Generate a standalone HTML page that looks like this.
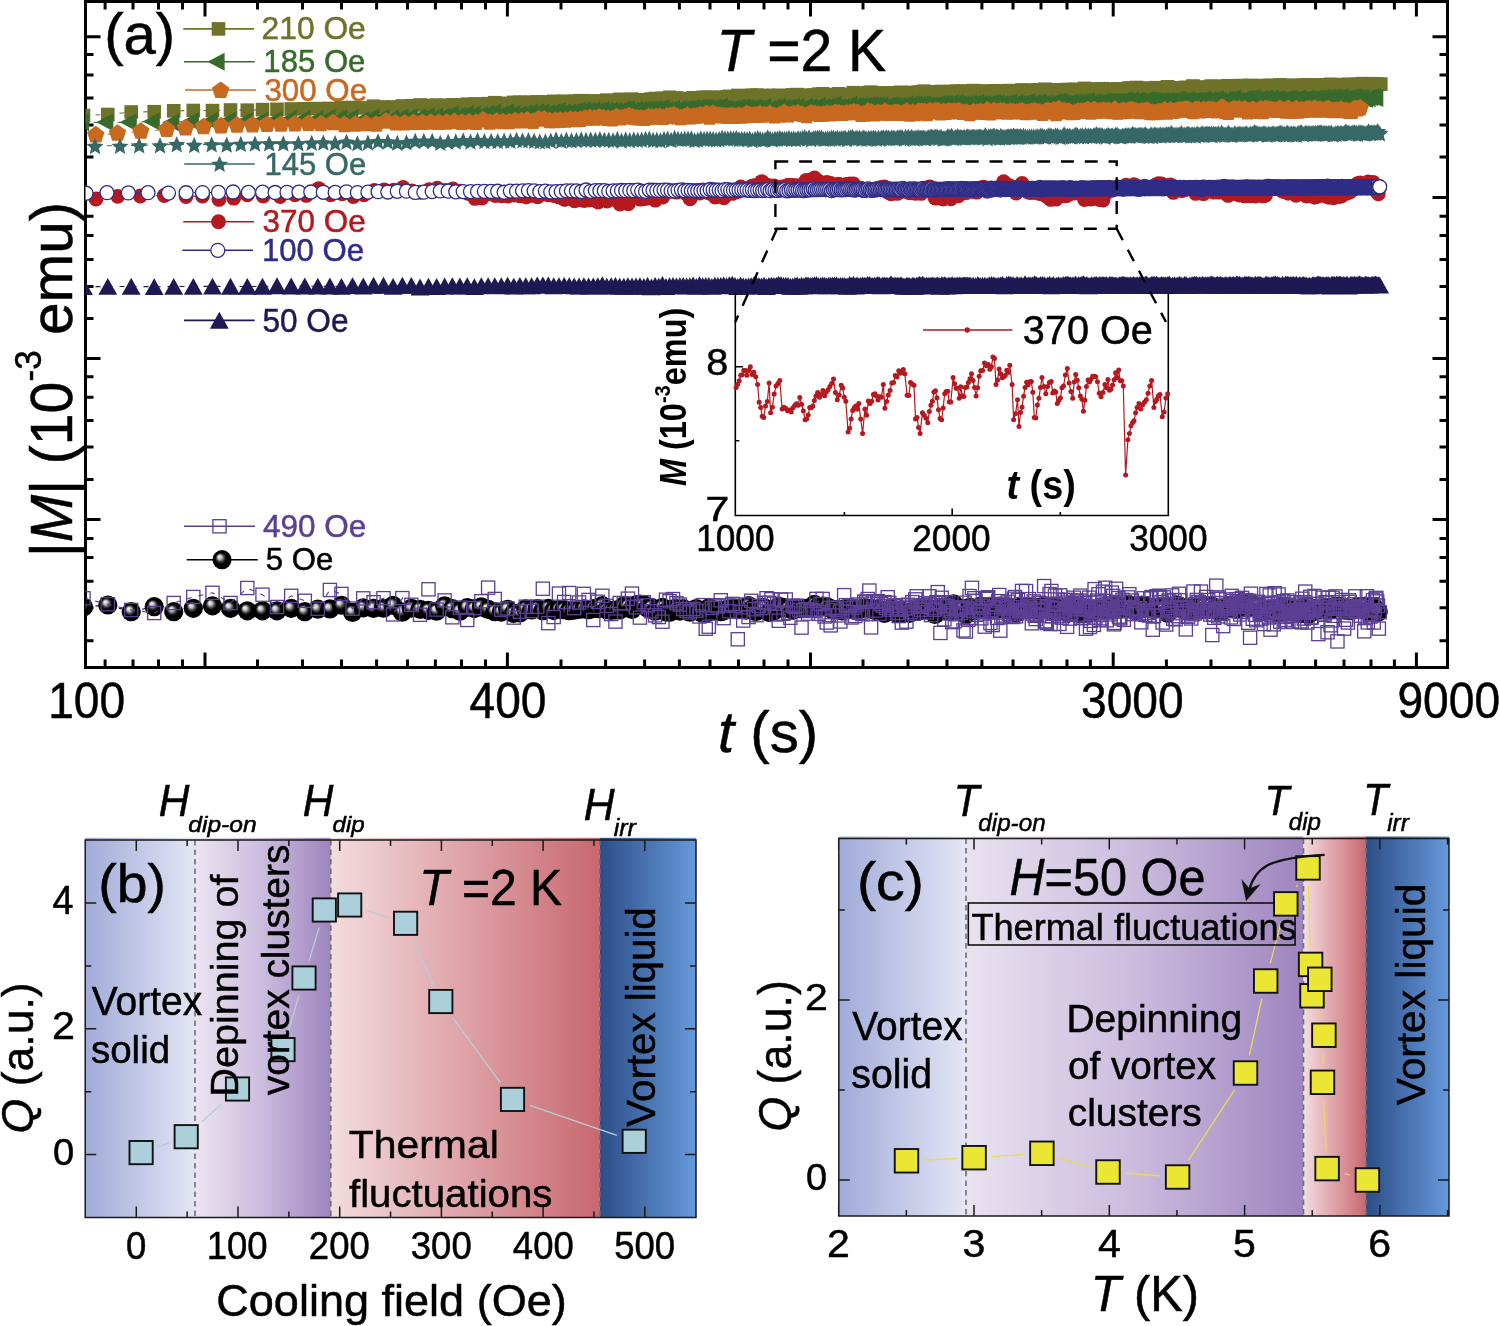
<!DOCTYPE html><html><head><meta charset="utf-8"><style>html,body{margin:0;padding:0;background:#fff;}svg{display:block;font-family:"Liberation Sans",sans-serif;will-change:transform;}</style></head><body>
<svg width="1500" height="1326" viewBox="0 0 1500 1326">
<rect width="1500" height="1326" fill="#fff"/>
<defs>
<g id="mSq"><rect x="-6.8" y="-6.8" width="13.6" height="13.6" fill="#6f7229"/></g>
<g id="mTl"><path d="M-9.5 0L7.6 -9V9Z" fill="#386b2b"/></g>
<g id="mPe"><polygon points="0,-9.15 8.7,-2.83 5.38,7.4 -5.38,7.4 -8.7,-2.83" fill="#c7691f"/></g>
<g id="mSt"><polygon points="0,-8 2.41,-2.32 8.56,-1.78 3.9,2.27 5.29,8.28 0,5.1 -5.29,8.28 -3.9,2.27 -8.56,-1.78 -2.41,-2.32" fill="#376868"/></g>
<g id="mCi"><circle r="7.4" fill="#b3191e"/></g>
<g id="mOc"><circle r="7" fill="#fff" stroke="#2f2c88" stroke-width="1.3"/></g>
<g id="mTu"><path d="M0 -8.6L9.4 8.3H-9.4Z" fill="#1f1953"/></g>
<g id="mOs"><rect x="-6.6" y="-6.6" width="13.2" height="13.2" fill="none" stroke="#5b3f94" stroke-width="1.3"/></g>
<radialGradient id="gSph" cx="0.5" cy="0.5" r="0.5" fx="0.35" fy="0.33"><stop offset="0" stop-color="#f4f4f4"/><stop offset="0.2" stop-color="#c8c8c8"/><stop offset="0.42" stop-color="#404040"/><stop offset="0.58" stop-color="#000"/><stop offset="1" stop-color="#000"/></radialGradient>
<g id="mSp"><circle r="9.6" fill="url(#gSph)"/></g>
<clipPath id="clipA"><rect x="85.5" y="1.5" width="1362.0" height="666.0"/></clipPath>
</defs>
<defs>
<linearGradient id="gB1" x1="0" y1="0" x2="1" y2="0"><stop offset="0" stop-color="#a1abd9"/><stop offset="1" stop-color="#e4e6f5"/></linearGradient>
<linearGradient id="gB2" x1="0" y1="0" x2="1" y2="0"><stop offset="0" stop-color="#ebe4f1"/><stop offset="0.5" stop-color="#cbbcde"/><stop offset="1" stop-color="#9e84be"/></linearGradient>
<linearGradient id="gB3" x1="0" y1="0" x2="1" y2="0"><stop offset="0" stop-color="#f3dcdf"/><stop offset="1" stop-color="#c8686f"/></linearGradient>
<linearGradient id="gB4" x1="0" y1="0" x2="1" y2="0"><stop offset="0" stop-color="#2d4e87"/><stop offset="1" stop-color="#6699db"/></linearGradient>
<linearGradient id="gC1" x1="0" y1="0" x2="1" y2="0"><stop offset="0" stop-color="#a1abd9"/><stop offset="1" stop-color="#e4e6f5"/></linearGradient>
<linearGradient id="gC2" x1="0" y1="0" x2="1" y2="0"><stop offset="0" stop-color="#e9e2f0"/><stop offset="0.5" stop-color="#cbbcde"/><stop offset="1" stop-color="#9e84be"/></linearGradient>
<linearGradient id="gC3" x1="0" y1="0" x2="1" y2="0"><stop offset="0" stop-color="#f3dcdf"/><stop offset="1" stop-color="#c8686f"/></linearGradient>
<linearGradient id="gC4" x1="0" y1="0" x2="1" y2="0"><stop offset="0" stop-color="#2d4e87"/><stop offset="1" stop-color="#6699db"/></linearGradient>
</defs>
<path d="M85.5 1.5H1447.5V667.5H85.5ZM205 667.5v-15M205 1.5v15M507.4 667.5v-15M507.4 1.5v15M810.5 667.5v-15M810.5 1.5v15M1113.2 667.5v-15M1113.2 1.5v15M1416.4 667.5v-15M1416.4 1.5v15M105.1 667.5v-8M105.1 1.5v8M133 667.5v-8M133 1.5v8M158.5 667.5v-8M158.5 1.5v8M182.5 667.5v-8M182.5 1.5v8M257.5 667.5v-8M257.5 1.5v8M302.5 667.5v-8M302.5 1.5v8M341.5 667.5v-8M341.5 1.5v8M376.6 667.5v-8M376.6 1.5v8M407.5 667.5v-8M407.5 1.5v8M435.4 667.5v-8M435.4 1.5v8M461.5 667.5v-8M461.5 1.5v8M485.5 667.5v-8M485.5 1.5v8M561 667.5v-8M561 1.5v8M605.6 667.5v-8M605.6 1.5v8M644.6 667.5v-8M644.6 1.5v8M679.4 667.5v-8M679.4 1.5v8M710 667.5v-8M710 1.5v8M738.5 667.5v-8M738.5 1.5v8M764 667.5v-8M764 1.5v8M788 667.5v-8M788 1.5v8M863 667.5v-8M863 1.5v8M908 667.5v-8M908 1.5v8M947 667.5v-8M947 1.5v8M981.9 667.5v-8M981.9 1.5v8M1013 667.5v-8M1013 1.5v8M1041 667.5v-8M1041 1.5v8M1067 667.5v-8M1067 1.5v8M1090.4 667.5v-8M1090.4 1.5v8M1166.4 667.5v-8M1166.4 1.5v8M1211 667.5v-8M1211 1.5v8M1250 667.5v-8M1250 1.5v8M1284.4 667.5v-8M1284.4 1.5v8M1315.6 667.5v-8M1315.6 1.5v8M1344 667.5v-8M1344 1.5v8M1371 667.5v-8M1371 1.5v8M1394.4 667.5v-8M1394.4 1.5v8M85.5 36.7h15M1447.5 36.7h-15M85.5 197.4h15M1447.5 197.4h-15M85.5 358.5h15M1447.5 358.5h-15M85.5 519.4h15M1447.5 519.4h-15M85.5 54.4h8M1447.5 54.4h-8M85.5 74.9h8M1447.5 74.9h-8M85.5 97.9h8M1447.5 97.9h-8M85.5 124.9h8M1447.5 124.9h-8M85.5 156.9h8M1447.5 156.9h-8M85.5 216.2h8M1447.5 216.2h-8M85.5 235.4h8M1447.5 235.4h-8M85.5 259.5h8M1447.5 259.5h-8M85.5 286.4h8M1447.5 286.4h-8M85.5 318.5h8M1447.5 318.5h-8M85.5 376.7h8M1447.5 376.7h-8M85.5 397.3h8M1447.5 397.3h-8M85.5 420.5h8M1447.5 420.5h-8M85.5 446.9h8M1447.5 446.9h-8M85.5 479.6h8M1447.5 479.6h-8M85.5 538.4h8M1447.5 538.4h-8M85.5 557.4h8M1447.5 557.4h-8M85.5 581.2h8M1447.5 581.2h-8M85.5 607.8h8M1447.5 607.8h-8M85.5 640.8h8M1447.5 640.8h-8" stroke="#000" stroke-width="3" fill="none"/>
<text transform="translate(104.14,53.57) scale(1.01,1)" font-size="57.59" fill="#000" stroke="#000" stroke-width="0.5"><tspan>(a)</tspan></text>
<text transform="translate(716.38,70.7) scale(0.96,1)" font-size="59.5" fill="#000" stroke="#000" stroke-width="0.5"><tspan font-style="italic">T</tspan><tspan> =2 K</tspan></text>
<text transform="translate(48.21,718.34) scale(0.94,1)" font-size="49.05" fill="#000" stroke="#000" stroke-width="0.5"><tspan>100</tspan></text>
<text transform="translate(469.51,718.34) scale(0.94,1)" font-size="49.05" fill="#000" stroke="#000" stroke-width="0.5"><tspan>400</tspan></text>
<text transform="translate(1081.08,718.34) scale(0.94,1)" font-size="49.05" fill="#000" stroke="#000" stroke-width="0.5"><tspan>3000</tspan></text>
<text transform="translate(1397.47,718.34) scale(0.94,1)" font-size="49.05" fill="#000" stroke="#000" stroke-width="0.5"><tspan>9000</tspan></text>
<text transform="translate(717.97,752.47) scale(1.01,1)" font-size="57.59" fill="#000" stroke="#000" stroke-width="0.5"><tspan font-style="italic">t</tspan><tspan> (s)</tspan></text>
<text transform="translate(72.35,557.07) rotate(-90) scale(0.97,1)" font-size="58.77" fill="#000" stroke="#000" stroke-width="0.5"><tspan>|</tspan><tspan font-style="italic">M</tspan><tspan>| (10</tspan></text>
<text transform="translate(40.73,381.38) rotate(-90) scale(0.96,1)" font-size="36.47" fill="#000" stroke="#000" stroke-width="0.5"><tspan>-3</tspan></text>
<text transform="translate(72.48,334.98) rotate(-90) scale(0.99,1)" font-size="59.09" fill="#000" stroke="#000" stroke-width="0.5"><tspan>emu)</tspan></text>
<path d="M183.3 28.9H253.9" stroke="#6f7229" stroke-width="1.6"/>
<use href="#mSq" x="218.5" y="28.9"/>
<text transform="translate(261.6,39.47) scale(0.99,1)" font-size="32.08" fill="#6f7229" stroke="#6f7229" stroke-width="0.5"><tspan>210 Oe</tspan></text>
<path d="M184 61.7H254.7" stroke="#386b2b" stroke-width="1.6"/>
<use href="#mTl" x="217" y="61.7"/>
<text transform="translate(263.35,72.17) scale(0.97,1)" font-size="32.08" fill="#386b2b" stroke="#386b2b" stroke-width="0.5"><tspan>185 Oe</tspan></text>
<path d="M185 90H256" stroke="#c7691f" stroke-width="1.6"/>
<use href="#mPe" x="220.7" y="90.6"/>
<text transform="translate(264.42,100.84) scale(0.98,1)" font-size="31.94" fill="#c7691f" stroke="#c7691f" stroke-width="0.5"><tspan>300 Oe</tspan></text>
<path d="M184.3 164H254.7" stroke="#376868" stroke-width="1.6"/>
<use href="#mSt" x="219.6" y="163.7"/>
<text transform="translate(264.46,175.07) scale(0.98,1)" font-size="31.66" fill="#376868" stroke="#376868" stroke-width="0.5"><tspan>145 Oe</tspan></text>
<path d="M183.3 221.7H254" stroke="#b3191e" stroke-width="1.6"/>
<use href="#mCi" x="218.5" y="221.7"/>
<text transform="translate(262.56,232.47) scale(0.98,1)" font-size="32.08" fill="#b3191e" stroke="#b3191e" stroke-width="0.5"><tspan>370 Oe</tspan></text>
<path d="M182.3 250.3H253" stroke="#2f2c88" stroke-width="1.6"/>
<use href="#mOc" x="217.8" y="250.3"/>
<text transform="translate(261.95,261.17) scale(0.97,1)" font-size="32.08" fill="#2f2c88" stroke="#2f2c88" stroke-width="0.5"><tspan>100 Oe</tspan></text>
<path d="M184 320.4H254.7" stroke="#1f1953" stroke-width="1.6"/>
<use href="#mTu" x="219.3" y="320.4"/>
<text transform="translate(262.44,331.82) scale(0.96,1)" font-size="32.93" fill="#1f1953" stroke="#1f1953" stroke-width="0.5"><tspan>50 Oe</tspan></text>
<path d="M184 526.3H255" stroke="#5b3f94" stroke-width="1.6"/>
<use href="#mOs" x="219.5" y="526.3"/>
<text transform="translate(263.05,537.17) scale(0.98,1)" font-size="32.08" fill="#5b3f94" stroke="#5b3f94" stroke-width="0.5"><tspan>490 Oe</tspan></text>
<path d="M186.7 559.7H257.7" stroke="#000" stroke-width="1.6"/>
<use href="#mSp" x="222" y="559.7"/>
<text transform="translate(265.84,569.74) scale(1,1)" font-size="31.1" fill="#000" stroke="#000" stroke-width="0.5"><tspan>5 Oe</tspan></text>
<g clip-path="url(#clipA)">
<polyline points="83.5,115.5 107.8,114.5 131.2,112 154.2,111.7 173.7,110.8 193.3,110.5 212.5,110.6 230.5,110 247.3,110.2 262.5,109.6 277,109.3 291.2,109 304.8,108.8 317.8,108.6 329.88,108.44 341.45,107.58 352.57,107.53 363.26,107.92 373.56,106.19 383.49,106.97 393.08,107 402.36,105.98 411.34,105.72" fill="none" stroke="#6f7229" stroke-width="1.1" stroke-dasharray="5 7"/>
<use href="#mSq" x="83.5" y="115.5"/><use href="#mSq" x="107.8" y="114.5"/><use href="#mSq" x="131.2" y="112"/><use href="#mSq" x="154.2" y="111.7"/><use href="#mSq" x="173.7" y="110.8"/><use href="#mSq" x="193.3" y="110.5"/><use href="#mSq" x="212.5" y="110.6"/><use href="#mSq" x="230.5" y="110"/><use href="#mSq" x="247.3" y="110.2"/><use href="#mSq" x="262.5" y="109.6"/><use href="#mSq" x="277" y="109.3"/><use href="#mSq" x="291.2" y="109"/><use href="#mSq" x="304.8" y="108.8"/><use href="#mSq" x="317.8" y="108.6"/><use href="#mSq" x="329.88" y="108.44"/><use href="#mSq" x="341.45" y="107.58"/><use href="#mSq" x="352.57" y="107.53"/><use href="#mSq" x="363.26" y="107.92"/><use href="#mSq" x="373.56" y="106.19"/><use href="#mSq" x="383.49" y="106.97"/><use href="#mSq" x="393.08" y="107"/><use href="#mSq" x="402.36" y="105.98"/><use href="#mSq" x="411.34" y="105.72"/><use href="#mSq" x="420.04" y="104.96"/><use href="#mSq" x="428.47" y="105.49"/><use href="#mSq" x="436.66" y="105.13"/><use href="#mSq" x="444.62" y="105.35"/><use href="#mSq" x="452.36" y="104.84"/><use href="#mSq" x="459.89" y="104.92"/><use href="#mSq" x="467.22" y="104.19"/><use href="#mSq" x="474.36" y="104.09"/><use href="#mSq" x="481.33" y="104.02"/><use href="#mSq" x="488.13" y="103.67"/><use href="#mSq" x="494.77" y="102.71"/><use href="#mSq" x="501.25" y="103.72"/><use href="#mSq" x="507.58" y="103.36"/><use href="#mSq" x="513.78" y="102.36"/><use href="#mSq" x="519.84" y="102.3"/><use href="#mSq" x="525.78" y="102.32"/><use href="#mSq" x="531.59" y="102.46"/><use href="#mSq" x="537.28" y="101.93"/><use href="#mSq" x="542.86" y="102.06"/><use href="#mSq" x="548.33" y="102.35"/><use href="#mSq" x="553.69" y="101.35"/><use href="#mSq" x="558.96" y="101.95"/><use href="#mSq" x="564.12" y="101.3"/><use href="#mSq" x="569.2" y="101.68"/><use href="#mSq" x="574.18" y="101.36"/><use href="#mSq" x="579.08" y="100.74"/><use href="#mSq" x="583.89" y="100.72"/><use href="#mSq" x="588.62" y="101.73"/><use href="#mSq" x="593.27" y="101.32"/><use href="#mSq" x="597.85" y="100.98"/><use href="#mSq" x="602.35" y="100.9"/><use href="#mSq" x="606.78" y="100.13"/><use href="#mSq" x="611.14" y="101.39"/><use href="#mSq" x="615.44" y="100.68"/><use href="#mSq" x="619.67" y="99.31"/><use href="#mSq" x="623.84" y="100.95"/><use href="#mSq" x="627.94" y="100.23"/><use href="#mSq" x="631.99" y="99.14"/><use href="#mSq" x="635.98" y="99.79"/><use href="#mSq" x="639.91" y="99.89"/><use href="#mSq" x="643.79" y="100.17"/><use href="#mSq" x="647.61" y="99.74"/><use href="#mSq" x="651.39" y="98.99"/><use href="#mSq" x="655.11" y="98.52"/><use href="#mSq" x="658.79" y="99.29"/><use href="#mSq" x="662.42" y="98.27"/><use href="#mSq" x="666" y="99.17"/><use href="#mSq" x="669.53" y="97.27"/><use href="#mSq" x="673.02" y="99.99"/><use href="#mSq" x="676.47" y="97.96"/><use href="#mSq" x="679.88" y="98.56"/><use href="#mSq" x="683.24" y="98.71"/><use href="#mSq" x="686.57" y="99.18"/><use href="#mSq" x="689.86" y="99.28"/><use href="#mSq" x="693.11" y="97.79"/><use href="#mSq" x="696.32" y="98.85"/><use href="#mSq" x="699.49" y="98.09"/><use href="#mSq" x="702.63" y="97.4"/><use href="#mSq" x="705.74" y="97.43"/><use href="#mSq" x="708.81" y="97.47"/><use href="#mSq" x="711.84" y="97.64"/><use href="#mSq" x="714.85" y="97.58"/><use href="#mSq" x="717.82" y="97.95"/><use href="#mSq" x="720.76" y="97.22"/><use href="#mSq" x="723.67" y="98.25"/><use href="#mSq" x="726.55" y="97.1"/><use href="#mSq" x="729.41" y="96.39"/><use href="#mSq" x="732.23" y="97.19"/><use href="#mSq" x="735.02" y="97.14"/><use href="#mSq" x="737.79" y="95.45"/><use href="#mSq" x="740.53" y="96.96"/><use href="#mSq" x="743.24" y="96.88"/><use href="#mSq" x="745.93" y="98.79"/><use href="#mSq" x="748.59" y="96.98"/><use href="#mSq" x="751.23" y="95.28"/><use href="#mSq" x="753.84" y="95.57"/><use href="#mSq" x="756.43" y="95.15"/><use href="#mSq" x="758.99" y="97.1"/><use href="#mSq" x="761.54" y="95.59"/><use href="#mSq" x="764.05" y="96.76"/><use href="#mSq" x="769.02" y="95.51"/><use href="#mSq" x="773.91" y="95.56"/><use href="#mSq" x="778.71" y="95.45"/><use href="#mSq" x="783.42" y="96.14"/><use href="#mSq" x="788.06" y="95.56"/><use href="#mSq" x="792.63" y="94.9"/><use href="#mSq" x="797.12" y="94.59"/><use href="#mSq" x="801.54" y="95.68"/><use href="#mSq" x="805.89" y="95.65"/><use href="#mSq" x="810.18" y="95.19"/><use href="#mSq" x="814.4" y="94.98"/><use href="#mSq" x="818.55" y="94.15"/><use href="#mSq" x="822.65" y="93.82"/><use href="#mSq" x="826.69" y="94.7"/><use href="#mSq" x="830.67" y="95.36"/><use href="#mSq" x="834.59" y="94.75"/><use href="#mSq" x="838.46" y="93.81"/><use href="#mSq" x="842.28" y="94.65"/><use href="#mSq" x="846.05" y="94.89"/><use href="#mSq" x="849.76" y="94.61"/><use href="#mSq" x="853.43" y="92.69"/><use href="#mSq" x="857.05" y="93.46"/><use href="#mSq" x="860.63" y="93.54"/><use href="#mSq" x="864.16" y="94.26"/><use href="#mSq" x="867.64" y="92.67"/><use href="#mSq" x="871.08" y="92.18"/><use href="#mSq" x="874.48" y="93.9"/><use href="#mSq" x="877.84" y="93.62"/><use href="#mSq" x="881.16" y="94.02"/><use href="#mSq" x="884.44" y="92.85"/><use href="#mSq" x="887.69" y="94.34"/><use href="#mSq" x="890.89" y="93.15"/><use href="#mSq" x="894.06" y="93.24"/><use href="#mSq" x="897.19" y="92.98"/><use href="#mSq" x="900.29" y="92.3"/><use href="#mSq" x="903.36" y="93.98"/><use href="#mSq" x="906.39" y="92.97"/><use href="#mSq" x="909.39" y="92.92"/><use href="#mSq" x="912.36" y="92.44"/><use href="#mSq" x="915.3" y="92.91"/><use href="#mSq" x="918.2" y="92.24"/><use href="#mSq" x="921.08" y="92.02"/><use href="#mSq" x="923.93" y="91.19"/><use href="#mSq" x="926.74" y="92.19"/><use href="#mSq" x="929.53" y="92.56"/><use href="#mSq" x="932.3" y="92.49"/><use href="#mSq" x="935.03" y="92.03"/><use href="#mSq" x="937.74" y="92.89"/><use href="#mSq" x="940.43" y="91.61"/><use href="#mSq" x="943.08" y="91.58"/><use href="#mSq" x="945.72" y="92.85"/><use href="#mSq" x="948.33" y="92"/><use href="#mSq" x="950.91" y="91.7"/><use href="#mSq" x="953.47" y="92.53"/><use href="#mSq" x="956.01" y="91.07"/><use href="#mSq" x="958.52" y="92.5"/><use href="#mSq" x="962.25" y="91.15"/><use href="#mSq" x="965.93" y="91.58"/><use href="#mSq" x="969.57" y="91.41"/><use href="#mSq" x="973.15" y="90.59"/><use href="#mSq" x="976.7" y="90.87"/><use href="#mSq" x="980.19" y="92.8"/><use href="#mSq" x="983.65" y="91.28"/><use href="#mSq" x="987.06" y="91.17"/><use href="#mSq" x="990.43" y="92.54"/><use href="#mSq" x="993.76" y="90.85"/><use href="#mSq" x="997.05" y="91.55"/><use href="#mSq" x="1000.31" y="90.85"/><use href="#mSq" x="1003.52" y="91.11"/><use href="#mSq" x="1006.7" y="90.84"/><use href="#mSq" x="1009.85" y="90.63"/><use href="#mSq" x="1012.95" y="91.83"/><use href="#mSq" x="1016.03" y="91.13"/><use href="#mSq" x="1019.07" y="90.71"/><use href="#mSq" x="1022.08" y="89.98"/><use href="#mSq" x="1025.06" y="90.46"/><use href="#mSq" x="1028" y="90.56"/><use href="#mSq" x="1030.92" y="91.31"/><use href="#mSq" x="1033.8" y="91.47"/><use href="#mSq" x="1036.66" y="89.92"/><use href="#mSq" x="1039.48" y="89.79"/><use href="#mSq" x="1042.28" y="90.92"/><use href="#mSq" x="1045.05" y="89.25"/><use href="#mSq" x="1047.79" y="91.4"/><use href="#mSq" x="1050.51" y="90.07"/><use href="#mSq" x="1053.2" y="89.99"/><use href="#mSq" x="1055.87" y="89.96"/><use href="#mSq" x="1058.51" y="89.98"/><use href="#mSq" x="1061.12" y="89.88"/><use href="#mSq" x="1063.71" y="90.6"/><use href="#mSq" x="1066.28" y="89.65"/><use href="#mSq" x="1068.83" y="89.66"/><use href="#mSq" x="1071.35" y="89.67"/><use href="#mSq" x="1074.67" y="89.4"/><use href="#mSq" x="1077.96" y="90.37"/><use href="#mSq" x="1081.21" y="90.1"/><use href="#mSq" x="1084.42" y="88.4"/><use href="#mSq" x="1087.6" y="89.59"/><use href="#mSq" x="1090.74" y="90.23"/><use href="#mSq" x="1093.84" y="89.26"/><use href="#mSq" x="1096.91" y="89.21"/><use href="#mSq" x="1099.95" y="89.69"/><use href="#mSq" x="1102.96" y="88.74"/><use href="#mSq" x="1105.93" y="89.83"/><use href="#mSq" x="1108.87" y="89.71"/><use href="#mSq" x="1111.78" y="89.56"/><use href="#mSq" x="1114.66" y="89.4"/><use href="#mSq" x="1117.52" y="88.83"/><use href="#mSq" x="1120.34" y="89.34"/><use href="#mSq" x="1123.14" y="88.78"/><use href="#mSq" x="1125.9" y="89.61"/><use href="#mSq" x="1128.64" y="88.18"/><use href="#mSq" x="1131.36" y="88.03"/><use href="#mSq" x="1134.05" y="88.3"/><use href="#mSq" x="1136.71" y="87.5"/><use href="#mSq" x="1139.34" y="88.24"/><use href="#mSq" x="1141.96" y="89.74"/><use href="#mSq" x="1144.55" y="90.55"/><use href="#mSq" x="1147.11" y="88.19"/><use href="#mSq" x="1149.65" y="89.31"/><use href="#mSq" x="1152.17" y="88.57"/><use href="#mSq" x="1155.29" y="87.69"/><use href="#mSq" x="1158.37" y="87.88"/><use href="#mSq" x="1161.42" y="88.65"/><use href="#mSq" x="1164.43" y="88.11"/><use href="#mSq" x="1167.42" y="86.81"/><use href="#mSq" x="1170.37" y="87.9"/><use href="#mSq" x="1173.29" y="87.86"/><use href="#mSq" x="1176.18" y="87.83"/><use href="#mSq" x="1179.05" y="88"/><use href="#mSq" x="1181.88" y="87.84"/><use href="#mSq" x="1184.68" y="87.46"/><use href="#mSq" x="1187.46" y="87.49"/><use href="#mSq" x="1190.21" y="87.95"/><use href="#mSq" x="1192.93" y="85.99"/><use href="#mSq" x="1195.63" y="87.36"/><use href="#mSq" x="1198.3" y="87.99"/><use href="#mSq" x="1200.95" y="87.62"/><use href="#mSq" x="1203.57" y="87.93"/><use href="#mSq" x="1206.16" y="87.22"/><use href="#mSq" x="1208.74" y="87.17"/><use href="#mSq" x="1211.28" y="86.08"/><use href="#mSq" x="1213.81" y="87.74"/><use href="#mSq" x="1216.31" y="86.48"/><use href="#mSq" x="1219.29" y="87.37"/><use href="#mSq" x="1222.23" y="86.97"/><use href="#mSq" x="1225.15" y="86.25"/><use href="#mSq" x="1228.03" y="85.72"/><use href="#mSq" x="1230.88" y="86.37"/><use href="#mSq" x="1233.71" y="86.34"/><use href="#mSq" x="1236.51" y="86.59"/><use href="#mSq" x="1239.27" y="87.97"/><use href="#mSq" x="1242.02" y="85.56"/><use href="#mSq" x="1244.73" y="85.99"/><use href="#mSq" x="1247.42" y="85.75"/><use href="#mSq" x="1250.09" y="85.49"/><use href="#mSq" x="1252.72" y="85.79"/><use href="#mSq" x="1255.34" y="86.13"/><use href="#mSq" x="1257.93" y="86.87"/><use href="#mSq" x="1260.49" y="86.29"/><use href="#mSq" x="1263.04" y="85.56"/><use href="#mSq" x="1265.56" y="87.59"/><use href="#mSq" x="1268.47" y="85.63"/><use href="#mSq" x="1271.35" y="85.39"/><use href="#mSq" x="1274.2" y="85.87"/><use href="#mSq" x="1277.03" y="85.94"/><use href="#mSq" x="1279.82" y="84.92"/><use href="#mSq" x="1282.59" y="85.82"/><use href="#mSq" x="1285.33" y="85.13"/><use href="#mSq" x="1288.04" y="86.34"/><use href="#mSq" x="1290.73" y="85.81"/><use href="#mSq" x="1293.39" y="85.83"/><use href="#mSq" x="1296.03" y="86.89"/><use href="#mSq" x="1298.64" y="85.31"/><use href="#mSq" x="1301.23" y="85.33"/><use href="#mSq" x="1303.8" y="85.41"/><use href="#mSq" x="1306.34" y="85.17"/><use href="#mSq" x="1308.86" y="84.76"/><use href="#mSq" x="1311.71" y="85.68"/><use href="#mSq" x="1314.53" y="85.81"/><use href="#mSq" x="1317.32" y="85.8"/><use href="#mSq" x="1320.09" y="85"/><use href="#mSq" x="1322.83" y="84.87"/><use href="#mSq" x="1325.54" y="84.89"/><use href="#mSq" x="1328.23" y="85.34"/><use href="#mSq" x="1330.89" y="84.29"/><use href="#mSq" x="1333.53" y="85.81"/><use href="#mSq" x="1336.14" y="84.92"/><use href="#mSq" x="1338.73" y="84.96"/><use href="#mSq" x="1341.29" y="85.57"/><use href="#mSq" x="1343.83" y="85.5"/><use href="#mSq" x="1346.35" y="84.44"/><use href="#mSq" x="1349.15" y="84.48"/><use href="#mSq" x="1351.93" y="85.11"/><use href="#mSq" x="1354.68" y="84.77"/><use href="#mSq" x="1357.41" y="84.35"/><use href="#mSq" x="1360.1" y="84.17"/><use href="#mSq" x="1362.78" y="83.66"/><use href="#mSq" x="1365.42" y="84.13"/><use href="#mSq" x="1368.04" y="84.05"/><use href="#mSq" x="1370.64" y="83.71"/><use href="#mSq" x="1373.22" y="84.32"/><use href="#mSq" x="1375.77" y="84.03"/><use href="#mSq" x="1378.29" y="84.35"/><use href="#mSq" x="1380.8" y="84.13"/>
<polyline points="81.5,122.18 105.8,122.24 129.2,122.19 152.2,121.38 171.7,122.41 191.3,121.27 210.5,121 228.5,120.53 245.3,121.12 260.5,120.78 275,120.1 289.2,119.24 302.8,119.27 315.8,119.4 327.96,118.11 339.61,118.17 350.8,118.03 361.56,120.22 371.92,117.34 381.91,117.92 391.56,118.4 400.88,117.24 409.91,117.08 418.65,117.39" fill="none" stroke="#386b2b" stroke-width="1.1" stroke-dasharray="5 7"/>
<use href="#mTl" x="81.5" y="122.18"/><use href="#mTl" x="105.8" y="122.24"/><use href="#mTl" x="129.2" y="122.19"/><use href="#mTl" x="152.2" y="121.38"/><use href="#mTl" x="171.7" y="122.41"/><use href="#mTl" x="191.3" y="121.27"/><use href="#mTl" x="210.5" y="121"/><use href="#mTl" x="228.5" y="120.53"/><use href="#mTl" x="245.3" y="121.12"/><use href="#mTl" x="260.5" y="120.78"/><use href="#mTl" x="275" y="120.1"/><use href="#mTl" x="289.2" y="119.24"/><use href="#mTl" x="302.8" y="119.27"/><use href="#mTl" x="315.8" y="119.4"/><use href="#mTl" x="327.96" y="118.11"/><use href="#mTl" x="339.61" y="118.17"/><use href="#mTl" x="350.8" y="118.03"/><use href="#mTl" x="361.56" y="120.22"/><use href="#mTl" x="371.92" y="117.34"/><use href="#mTl" x="381.91" y="117.92"/><use href="#mTl" x="391.56" y="118.4"/><use href="#mTl" x="400.88" y="117.24"/><use href="#mTl" x="409.91" y="117.08"/><use href="#mTl" x="418.65" y="117.39"/><use href="#mTl" x="427.13" y="116.24"/><use href="#mTl" x="435.36" y="116.83"/><use href="#mTl" x="443.35" y="116.61"/><use href="#mTl" x="451.12" y="114.37"/><use href="#mTl" x="458.68" y="115.61"/><use href="#mTl" x="466.05" y="114.28"/><use href="#mTl" x="473.22" y="114.46"/><use href="#mTl" x="480.22" y="114.94"/><use href="#mTl" x="487.04" y="113.83"/><use href="#mTl" x="493.7" y="112.49"/><use href="#mTl" x="500.21" y="114.78"/><use href="#mTl" x="506.57" y="112.19"/><use href="#mTl" x="512.79" y="113.85"/><use href="#mTl" x="518.87" y="114.16"/><use href="#mTl" x="524.83" y="113.27"/><use href="#mTl" x="530.66" y="112.61"/><use href="#mTl" x="536.37" y="112.19"/><use href="#mTl" x="541.96" y="112.26"/><use href="#mTl" x="547.45" y="113.34"/><use href="#mTl" x="552.83" y="112.44"/><use href="#mTl" x="558.11" y="110.9"/><use href="#mTl" x="563.3" y="112.17"/><use href="#mTl" x="568.38" y="112.48"/><use href="#mTl" x="573.38" y="111.69"/><use href="#mTl" x="578.29" y="110.38"/><use href="#mTl" x="583.12" y="110.28"/><use href="#mTl" x="587.86" y="110.54"/><use href="#mTl" x="592.52" y="110.2"/><use href="#mTl" x="597.11" y="111.25"/><use href="#mTl" x="601.63" y="109.88"/><use href="#mTl" x="606.07" y="111.06"/><use href="#mTl" x="610.44" y="110.82"/><use href="#mTl" x="614.75" y="110.67"/><use href="#mTl" x="618.99" y="111.02"/><use href="#mTl" x="623.17" y="109.26"/><use href="#mTl" x="627.28" y="109.26"/><use href="#mTl" x="631.34" y="111.01"/><use href="#mTl" x="635.34" y="109.5"/><use href="#mTl" x="639.28" y="109.94"/><use href="#mTl" x="643.17" y="109.5"/><use href="#mTl" x="647" y="109.47"/><use href="#mTl" x="650.78" y="109.38"/><use href="#mTl" x="654.51" y="109.2"/><use href="#mTl" x="658.2" y="109.64"/><use href="#mTl" x="661.83" y="107.93"/><use href="#mTl" x="665.42" y="109.87"/><use href="#mTl" x="668.96" y="110.22"/><use href="#mTl" x="672.46" y="108.82"/><use href="#mTl" x="675.92" y="110.36"/><use href="#mTl" x="679.33" y="108.96"/><use href="#mTl" x="682.7" y="109.46"/><use href="#mTl" x="686.04" y="108.8"/><use href="#mTl" x="689.33" y="108.99"/><use href="#mTl" x="692.58" y="107.81"/><use href="#mTl" x="695.8" y="108.47"/><use href="#mTl" x="698.98" y="107.86"/><use href="#mTl" x="702.13" y="107.72"/><use href="#mTl" x="705.24" y="107.41"/><use href="#mTl" x="708.31" y="108.36"/><use href="#mTl" x="711.36" y="108.41"/><use href="#mTl" x="714.37" y="107.82"/><use href="#mTl" x="717.34" y="108.65"/><use href="#mTl" x="720.29" y="106.27"/><use href="#mTl" x="723.21" y="108.66"/><use href="#mTl" x="726.09" y="109.02"/><use href="#mTl" x="728.95" y="110.05"/><use href="#mTl" x="731.78" y="108.43"/><use href="#mTl" x="734.57" y="108.84"/><use href="#mTl" x="737.35" y="107.68"/><use href="#mTl" x="740.09" y="108.37"/><use href="#mTl" x="742.81" y="107.25"/><use href="#mTl" x="745.5" y="108.05"/><use href="#mTl" x="748.17" y="108.38"/><use href="#mTl" x="750.81" y="108.99"/><use href="#mTl" x="753.42" y="107.56"/><use href="#mTl" x="756.01" y="108.32"/><use href="#mTl" x="758.58" y="108.79"/><use href="#mTl" x="761.13" y="108.52"/><use href="#mTl" x="763.65" y="106.93"/><use href="#mTl" x="768.63" y="109.04"/><use href="#mTl" x="773.52" y="107.16"/><use href="#mTl" x="778.32" y="106.89"/><use href="#mTl" x="783.05" y="107.38"/><use href="#mTl" x="787.69" y="107.77"/><use href="#mTl" x="792.26" y="106.51"/><use href="#mTl" x="796.76" y="106.94"/><use href="#mTl" x="801.19" y="109.12"/><use href="#mTl" x="805.54" y="106.51"/><use href="#mTl" x="809.83" y="106.92"/><use href="#mTl" x="814.06" y="107.69"/><use href="#mTl" x="818.22" y="105.79"/><use href="#mTl" x="822.32" y="106.99"/><use href="#mTl" x="826.37" y="107.06"/><use href="#mTl" x="830.35" y="105.89"/><use href="#mTl" x="834.28" y="104.76"/><use href="#mTl" x="838.15" y="107.23"/><use href="#mTl" x="841.98" y="107.28"/><use href="#mTl" x="845.75" y="106.25"/><use href="#mTl" x="849.47" y="105.11"/><use href="#mTl" x="853.14" y="106.39"/><use href="#mTl" x="856.76" y="105.74"/><use href="#mTl" x="860.34" y="106.09"/><use href="#mTl" x="863.87" y="105.67"/><use href="#mTl" x="867.36" y="105.4"/><use href="#mTl" x="870.81" y="105.1"/><use href="#mTl" x="874.21" y="105.59"/><use href="#mTl" x="877.57" y="105.26"/><use href="#mTl" x="880.9" y="105.4"/><use href="#mTl" x="884.18" y="106.68"/><use href="#mTl" x="887.43" y="106.08"/><use href="#mTl" x="890.63" y="105.74"/><use href="#mTl" x="893.81" y="105.63"/><use href="#mTl" x="896.94" y="106.18"/><use href="#mTl" x="900.05" y="105.73"/><use href="#mTl" x="903.11" y="105.68"/><use href="#mTl" x="906.15" y="104.3"/><use href="#mTl" x="909.15" y="105.19"/><use href="#mTl" x="912.12" y="104.59"/><use href="#mTl" x="915.06" y="104.74"/><use href="#mTl" x="917.97" y="105.13"/><use href="#mTl" x="920.85" y="104.49"/><use href="#mTl" x="923.7" y="104.5"/><use href="#mTl" x="926.52" y="105.45"/><use href="#mTl" x="929.31" y="105.4"/><use href="#mTl" x="932.08" y="105.39"/><use href="#mTl" x="934.81" y="105.16"/><use href="#mTl" x="937.52" y="104.03"/><use href="#mTl" x="940.21" y="104.3"/><use href="#mTl" x="942.87" y="103.94"/><use href="#mTl" x="945.51" y="104.24"/><use href="#mTl" x="948.12" y="104.71"/><use href="#mTl" x="950.7" y="103.43"/><use href="#mTl" x="953.26" y="105.02"/><use href="#mTl" x="955.8" y="103.53"/><use href="#mTl" x="958.32" y="104.56"/><use href="#mTl" x="962.05" y="104.53"/><use href="#mTl" x="965.74" y="104.31"/><use href="#mTl" x="969.37" y="103.74"/><use href="#mTl" x="972.96" y="103.96"/><use href="#mTl" x="976.51" y="102.68"/><use href="#mTl" x="980.01" y="104.33"/><use href="#mTl" x="983.46" y="103.93"/><use href="#mTl" x="986.88" y="104.44"/><use href="#mTl" x="990.25" y="103.62"/><use href="#mTl" x="993.58" y="102.89"/><use href="#mTl" x="996.88" y="103.72"/><use href="#mTl" x="1000.13" y="104.45"/><use href="#mTl" x="1003.35" y="103.97"/><use href="#mTl" x="1006.53" y="103.42"/><use href="#mTl" x="1009.68" y="102.59"/><use href="#mTl" x="1012.79" y="104.39"/><use href="#mTl" x="1015.86" y="102.84"/><use href="#mTl" x="1018.91" y="103.95"/><use href="#mTl" x="1021.92" y="104.11"/><use href="#mTl" x="1024.9" y="103.13"/><use href="#mTl" x="1027.84" y="101.85"/><use href="#mTl" x="1030.76" y="104.7"/><use href="#mTl" x="1033.65" y="102.73"/><use href="#mTl" x="1036.5" y="103.27"/><use href="#mTl" x="1039.33" y="102.47"/><use href="#mTl" x="1042.13" y="104.34"/><use href="#mTl" x="1044.9" y="103.48"/><use href="#mTl" x="1047.65" y="104.16"/><use href="#mTl" x="1050.37" y="103.93"/><use href="#mTl" x="1053.06" y="102.51"/><use href="#mTl" x="1055.72" y="102.5"/><use href="#mTl" x="1058.37" y="101.49"/><use href="#mTl" x="1060.98" y="101.75"/><use href="#mTl" x="1063.57" y="103.49"/><use href="#mTl" x="1066.14" y="103.99"/><use href="#mTl" x="1068.69" y="103.41"/><use href="#mTl" x="1071.21" y="102.06"/><use href="#mTl" x="1074.54" y="102.32"/><use href="#mTl" x="1077.83" y="102.44"/><use href="#mTl" x="1081.08" y="102.16"/><use href="#mTl" x="1084.29" y="101.74"/><use href="#mTl" x="1087.47" y="101.19"/><use href="#mTl" x="1090.61" y="102.78"/><use href="#mTl" x="1093.72" y="101.97"/><use href="#mTl" x="1096.79" y="102.79"/><use href="#mTl" x="1099.83" y="102.54"/><use href="#mTl" x="1102.84" y="101.77"/><use href="#mTl" x="1105.81" y="101.83"/><use href="#mTl" x="1108.75" y="101.59"/><use href="#mTl" x="1111.67" y="101.66"/><use href="#mTl" x="1114.55" y="101.42"/><use href="#mTl" x="1117.4" y="101.47"/><use href="#mTl" x="1120.23" y="101.8"/><use href="#mTl" x="1123.02" y="100.87"/><use href="#mTl" x="1125.79" y="100.41"/><use href="#mTl" x="1128.53" y="101.74"/><use href="#mTl" x="1131.25" y="100.32"/><use href="#mTl" x="1133.94" y="101.85"/><use href="#mTl" x="1136.6" y="100.79"/><use href="#mTl" x="1139.24" y="101.23"/><use href="#mTl" x="1141.85" y="101.95"/><use href="#mTl" x="1144.44" y="101.49"/><use href="#mTl" x="1147.01" y="99.75"/><use href="#mTl" x="1149.55" y="100.26"/><use href="#mTl" x="1152.07" y="100.56"/><use href="#mTl" x="1155.19" y="100.96"/><use href="#mTl" x="1158.27" y="101.6"/><use href="#mTl" x="1161.32" y="101"/><use href="#mTl" x="1164.34" y="101.31"/><use href="#mTl" x="1167.32" y="100.83"/><use href="#mTl" x="1170.28" y="101.52"/><use href="#mTl" x="1173.2" y="101.08"/><use href="#mTl" x="1176.09" y="99.81"/><use href="#mTl" x="1178.95" y="99.51"/><use href="#mTl" x="1181.79" y="101.28"/><use href="#mTl" x="1184.59" y="101.78"/><use href="#mTl" x="1187.37" y="99.97"/><use href="#mTl" x="1190.12" y="101.27"/><use href="#mTl" x="1192.85" y="101.11"/><use href="#mTl" x="1195.54" y="100.45"/><use href="#mTl" x="1198.21" y="101.01"/><use href="#mTl" x="1200.86" y="100.6"/><use href="#mTl" x="1203.48" y="99.55"/><use href="#mTl" x="1206.08" y="100.69"/><use href="#mTl" x="1208.65" y="100.14"/><use href="#mTl" x="1211.2" y="100.5"/><use href="#mTl" x="1213.73" y="100.94"/><use href="#mTl" x="1216.23" y="99.35"/><use href="#mTl" x="1219.21" y="100.16"/><use href="#mTl" x="1222.15" y="101.55"/><use href="#mTl" x="1225.07" y="99.71"/><use href="#mTl" x="1227.95" y="99.38"/><use href="#mTl" x="1230.81" y="99.97"/><use href="#mTl" x="1233.63" y="98.27"/><use href="#mTl" x="1236.43" y="100.75"/><use href="#mTl" x="1239.2" y="101.11"/><use href="#mTl" x="1241.94" y="99.82"/><use href="#mTl" x="1244.66" y="99.07"/><use href="#mTl" x="1247.35" y="98.8"/><use href="#mTl" x="1250.01" y="99.22"/><use href="#mTl" x="1252.65" y="97.99"/><use href="#mTl" x="1255.27" y="99.6"/><use href="#mTl" x="1257.86" y="100.05"/><use href="#mTl" x="1260.43" y="98.97"/><use href="#mTl" x="1262.97" y="99.84"/><use href="#mTl" x="1265.49" y="98.27"/><use href="#mTl" x="1268.4" y="100.03"/><use href="#mTl" x="1271.28" y="98.62"/><use href="#mTl" x="1274.14" y="99.79"/><use href="#mTl" x="1276.96" y="98.69"/><use href="#mTl" x="1279.76" y="100.1"/><use href="#mTl" x="1282.52" y="100.14"/><use href="#mTl" x="1285.27" y="99.33"/><use href="#mTl" x="1287.98" y="98.94"/><use href="#mTl" x="1290.67" y="98.6"/><use href="#mTl" x="1293.33" y="100.15"/><use href="#mTl" x="1295.97" y="99.15"/><use href="#mTl" x="1298.58" y="98.28"/><use href="#mTl" x="1301.17" y="99.63"/><use href="#mTl" x="1303.74" y="100.1"/><use href="#mTl" x="1306.28" y="98.67"/><use href="#mTl" x="1308.8" y="98.92"/><use href="#mTl" x="1311.65" y="99.66"/><use href="#mTl" x="1314.47" y="98.55"/><use href="#mTl" x="1317.27" y="98.16"/><use href="#mTl" x="1320.03" y="99.25"/><use href="#mTl" x="1322.77" y="97.59"/><use href="#mTl" x="1325.49" y="98.33"/><use href="#mTl" x="1328.18" y="97.55"/><use href="#mTl" x="1330.84" y="98.16"/><use href="#mTl" x="1333.47" y="97.83"/><use href="#mTl" x="1336.09" y="97.88"/><use href="#mTl" x="1338.67" y="98.6"/><use href="#mTl" x="1341.24" y="96.92"/><use href="#mTl" x="1343.78" y="98.89"/><use href="#mTl" x="1346.3" y="98.95"/><use href="#mTl" x="1349.1" y="98"/><use href="#mTl" x="1351.88" y="97.32"/><use href="#mTl" x="1354.63" y="97.28"/><use href="#mTl" x="1357.36" y="98.23"/><use href="#mTl" x="1360.06" y="97.91"/><use href="#mTl" x="1362.73" y="98.08"/><use href="#mTl" x="1365.38" y="98.98"/><use href="#mTl" x="1368" y="98.36"/><use href="#mTl" x="1370.6" y="97.28"/><use href="#mTl" x="1373.17" y="97.11"/><use href="#mTl" x="1375.72" y="98.05"/>
<polyline points="95.8,135 117.5,133.4 140.8,131.4 166.7,129.5 185.5,128 203.5,126.8 221,126 237,125.4 252.5,125 267,124.6 281,124.3 295,124 308.5,123.7 320.97,123.97 332.92,122.75 344.37,124.77 355.37,124.29 365.96,123.85 376.16,124.34 386.01,121.39 395.51,123.19 404.71,123.22 413.61,122.53" fill="none" stroke="#c7691f" stroke-width="1.1" stroke-dasharray="5 7"/>
<use href="#mPe" x="95.8" y="135"/><use href="#mPe" x="117.5" y="133.4"/><use href="#mPe" x="140.8" y="131.4"/><use href="#mPe" x="166.7" y="129.5"/><use href="#mPe" x="185.5" y="128"/><use href="#mPe" x="203.5" y="126.8"/><use href="#mPe" x="221" y="126"/><use href="#mPe" x="237" y="125.4"/><use href="#mPe" x="252.5" y="125"/><use href="#mPe" x="267" y="124.6"/><use href="#mPe" x="281" y="124.3"/><use href="#mPe" x="295" y="124"/><use href="#mPe" x="308.5" y="123.7"/><use href="#mPe" x="320.97" y="123.97"/><use href="#mPe" x="332.92" y="122.75"/><use href="#mPe" x="344.37" y="124.77"/><use href="#mPe" x="355.37" y="124.29"/><use href="#mPe" x="365.96" y="123.85"/><use href="#mPe" x="376.16" y="124.34"/><use href="#mPe" x="386.01" y="121.39"/><use href="#mPe" x="395.51" y="123.19"/><use href="#mPe" x="404.71" y="123.22"/><use href="#mPe" x="413.61" y="122.53"/><use href="#mPe" x="422.24" y="122.58"/><use href="#mPe" x="430.62" y="122.32"/><use href="#mPe" x="438.74" y="122.72"/><use href="#mPe" x="446.64" y="122.35"/><use href="#mPe" x="454.32" y="121.72"/><use href="#mPe" x="461.8" y="122.5"/><use href="#mPe" x="469.08" y="122.07"/><use href="#mPe" x="476.18" y="122.51"/><use href="#mPe" x="483.1" y="120.09"/><use href="#mPe" x="489.86" y="122.38"/><use href="#mPe" x="496.46" y="121.31"/><use href="#mPe" x="502.9" y="121.95"/><use href="#mPe" x="509.2" y="121.86"/><use href="#mPe" x="515.36" y="120.8"/><use href="#mPe" x="521.39" y="121"/><use href="#mPe" x="527.29" y="120.26"/><use href="#mPe" x="533.07" y="121.63"/><use href="#mPe" x="538.73" y="119.14"/><use href="#mPe" x="544.28" y="119.22"/><use href="#mPe" x="549.73" y="120.96"/><use href="#mPe" x="555.06" y="120.76"/><use href="#mPe" x="560.3" y="120.29"/><use href="#mPe" x="565.45" y="120.36"/><use href="#mPe" x="570.5" y="119.61"/><use href="#mPe" x="575.46" y="119.95"/><use href="#mPe" x="580.33" y="119.7"/><use href="#mPe" x="585.12" y="118.46"/><use href="#mPe" x="589.83" y="117.84"/><use href="#mPe" x="594.46" y="118.45"/><use href="#mPe" x="599.02" y="117.15"/><use href="#mPe" x="603.5" y="118.12"/><use href="#mPe" x="607.92" y="118.55"/><use href="#mPe" x="612.26" y="119.17"/><use href="#mPe" x="616.54" y="116.9"/><use href="#mPe" x="620.75" y="118.03"/><use href="#mPe" x="624.9" y="117.14"/><use href="#mPe" x="628.99" y="115.82"/><use href="#mPe" x="633.03" y="117.23"/><use href="#mPe" x="637" y="118.15"/><use href="#mPe" x="640.92" y="118.21"/><use href="#mPe" x="644.78" y="118.63"/><use href="#mPe" x="648.6" y="116.99"/><use href="#mPe" x="652.36" y="117.41"/><use href="#mPe" x="656.07" y="117.02"/><use href="#mPe" x="659.73" y="116.66"/><use href="#mPe" x="663.35" y="117.7"/><use href="#mPe" x="666.92" y="116.51"/><use href="#mPe" x="670.44" y="115.84"/><use href="#mPe" x="673.92" y="115.06"/><use href="#mPe" x="677.36" y="116.99"/><use href="#mPe" x="680.75" y="117.94"/><use href="#mPe" x="684.11" y="116.87"/><use href="#mPe" x="687.42" y="115.72"/><use href="#mPe" x="690.7" y="117.07"/><use href="#mPe" x="693.94" y="116.4"/><use href="#mPe" x="697.14" y="116.27"/><use href="#mPe" x="700.31" y="115.26"/><use href="#mPe" x="703.44" y="115.8"/><use href="#mPe" x="706.53" y="113.9"/><use href="#mPe" x="709.6" y="117.3"/><use href="#mPe" x="712.62" y="113.59"/><use href="#mPe" x="715.62" y="115.15"/><use href="#mPe" x="718.59" y="115.31"/><use href="#mPe" x="721.52" y="116.01"/><use href="#mPe" x="724.42" y="115.87"/><use href="#mPe" x="727.3" y="116.49"/><use href="#mPe" x="730.14" y="115.97"/><use href="#mPe" x="732.95" y="115.99"/><use href="#mPe" x="735.74" y="116.57"/><use href="#mPe" x="738.5" y="115.67"/><use href="#mPe" x="741.24" y="116.05"/><use href="#mPe" x="743.94" y="116.19"/><use href="#mPe" x="746.62" y="113.86"/><use href="#mPe" x="749.28" y="114.81"/><use href="#mPe" x="751.91" y="115.56"/><use href="#mPe" x="754.51" y="115.3"/><use href="#mPe" x="757.1" y="115.25"/><use href="#mPe" x="759.65" y="114.23"/><use href="#mPe" x="762.19" y="115.44"/><use href="#mPe" x="764.7" y="114.84"/><use href="#mPe" x="769.66" y="113.79"/><use href="#mPe" x="774.53" y="115.99"/><use href="#mPe" x="779.32" y="115.45"/><use href="#mPe" x="784.03" y="112.67"/><use href="#mPe" x="788.66" y="115.22"/><use href="#mPe" x="793.21" y="113.53"/><use href="#mPe" x="797.7" y="113.05"/><use href="#mPe" x="802.11" y="114.51"/><use href="#mPe" x="806.45" y="115.73"/><use href="#mPe" x="810.73" y="113.11"/><use href="#mPe" x="814.94" y="113.55"/><use href="#mPe" x="819.09" y="114.51"/><use href="#mPe" x="823.18" y="114.42"/><use href="#mPe" x="827.21" y="113.37"/><use href="#mPe" x="831.18" y="114.05"/><use href="#mPe" x="835.1" y="112.64"/><use href="#mPe" x="838.96" y="113.23"/><use href="#mPe" x="842.77" y="113.6"/><use href="#mPe" x="846.53" y="113.13"/><use href="#mPe" x="850.24" y="112.58"/><use href="#mPe" x="853.9" y="112.27"/><use href="#mPe" x="857.52" y="112.77"/><use href="#mPe" x="861.09" y="114.64"/><use href="#mPe" x="864.61" y="114.36"/><use href="#mPe" x="868.09" y="111.44"/><use href="#mPe" x="871.52" y="112.43"/><use href="#mPe" x="874.92" y="114"/><use href="#mPe" x="878.27" y="112.88"/><use href="#mPe" x="881.59" y="113.38"/><use href="#mPe" x="884.86" y="111.53"/><use href="#mPe" x="888.1" y="113.49"/><use href="#mPe" x="891.3" y="113.28"/><use href="#mPe" x="894.47" y="112.65"/><use href="#mPe" x="897.6" y="112.82"/><use href="#mPe" x="900.69" y="113.59"/><use href="#mPe" x="903.75" y="113.35"/><use href="#mPe" x="906.78" y="111.48"/><use href="#mPe" x="909.78" y="114.3"/><use href="#mPe" x="912.74" y="112.33"/><use href="#mPe" x="915.67" y="113.74"/><use href="#mPe" x="918.58" y="111.58"/><use href="#mPe" x="921.45" y="111.77"/><use href="#mPe" x="924.29" y="111.62"/><use href="#mPe" x="927.11" y="113.93"/><use href="#mPe" x="929.89" y="110.89"/><use href="#mPe" x="932.65" y="112.01"/><use href="#mPe" x="935.38" y="111.07"/><use href="#mPe" x="938.09" y="110.83"/><use href="#mPe" x="940.77" y="113.07"/><use href="#mPe" x="943.43" y="111.73"/><use href="#mPe" x="946.06" y="112.5"/><use href="#mPe" x="948.66" y="111.11"/><use href="#mPe" x="951.24" y="112.21"/><use href="#mPe" x="953.8" y="111.33"/><use href="#mPe" x="956.33" y="111.53"/><use href="#mPe" x="958.85" y="111.04"/><use href="#mPe" x="962.57" y="112.71"/><use href="#mPe" x="966.25" y="112.4"/><use href="#mPe" x="969.88" y="113.76"/><use href="#mPe" x="973.46" y="112.14"/><use href="#mPe" x="977" y="112.33"/><use href="#mPe" x="980.49" y="111.8"/><use href="#mPe" x="983.94" y="112.7"/><use href="#mPe" x="987.35" y="110.25"/><use href="#mPe" x="990.72" y="113.01"/><use href="#mPe" x="994.05" y="110.87"/><use href="#mPe" x="997.33" y="111.87"/><use href="#mPe" x="1000.58" y="110.79"/><use href="#mPe" x="1003.8" y="111.41"/><use href="#mPe" x="1006.97" y="112.35"/><use href="#mPe" x="1010.11" y="111.6"/><use href="#mPe" x="1013.22" y="111.92"/><use href="#mPe" x="1016.29" y="112.04"/><use href="#mPe" x="1019.33" y="111.62"/><use href="#mPe" x="1022.34" y="111.25"/><use href="#mPe" x="1025.31" y="112.94"/><use href="#mPe" x="1028.25" y="112.36"/><use href="#mPe" x="1031.17" y="111.88"/><use href="#mPe" x="1034.05" y="111.2"/><use href="#mPe" x="1036.9" y="112.02"/><use href="#mPe" x="1039.73" y="112.06"/><use href="#mPe" x="1042.52" y="113.6"/><use href="#mPe" x="1045.29" y="111.77"/><use href="#mPe" x="1048.03" y="110.71"/><use href="#mPe" x="1050.74" y="112.08"/><use href="#mPe" x="1053.43" y="110.44"/><use href="#mPe" x="1056.1" y="113.92"/><use href="#mPe" x="1058.73" y="109.16"/><use href="#mPe" x="1061.35" y="112.22"/><use href="#mPe" x="1063.94" y="110.92"/><use href="#mPe" x="1066.5" y="111.62"/><use href="#mPe" x="1069.04" y="111.77"/><use href="#mPe" x="1071.56" y="112.78"/><use href="#mPe" x="1074.89" y="112.58"/><use href="#mPe" x="1078.17" y="111.49"/><use href="#mPe" x="1081.42" y="111.38"/><use href="#mPe" x="1084.63" y="111.09"/><use href="#mPe" x="1087.8" y="109.8"/><use href="#mPe" x="1090.94" y="112.42"/><use href="#mPe" x="1094.04" y="109.82"/><use href="#mPe" x="1097.11" y="111.27"/><use href="#mPe" x="1100.15" y="110.98"/><use href="#mPe" x="1103.15" y="110.54"/><use href="#mPe" x="1106.12" y="111.13"/><use href="#mPe" x="1109.06" y="110.9"/><use href="#mPe" x="1111.97" y="111.83"/><use href="#mPe" x="1114.85" y="109.67"/><use href="#mPe" x="1117.7" y="112.24"/><use href="#mPe" x="1120.52" y="111.79"/><use href="#mPe" x="1123.32" y="110.64"/><use href="#mPe" x="1126.08" y="111.62"/><use href="#mPe" x="1128.82" y="110.41"/><use href="#mPe" x="1131.53" y="109.82"/><use href="#mPe" x="1134.22" y="110.49"/><use href="#mPe" x="1136.88" y="111.38"/><use href="#mPe" x="1139.51" y="111.88"/><use href="#mPe" x="1142.13" y="111.07"/><use href="#mPe" x="1144.71" y="111.49"/><use href="#mPe" x="1147.28" y="110.4"/><use href="#mPe" x="1149.82" y="112.93"/><use href="#mPe" x="1152.33" y="112.44"/><use href="#mPe" x="1155.45" y="112.78"/><use href="#mPe" x="1158.53" y="111.98"/><use href="#mPe" x="1161.58" y="111.88"/><use href="#mPe" x="1164.59" y="110.25"/><use href="#mPe" x="1167.57" y="112.32"/><use href="#mPe" x="1170.52" y="110.52"/><use href="#mPe" x="1173.44" y="111.65"/><use href="#mPe" x="1176.33" y="110.73"/><use href="#mPe" x="1179.19" y="110.02"/><use href="#mPe" x="1182.02" y="110.19"/><use href="#mPe" x="1184.83" y="109.32"/><use href="#mPe" x="1187.6" y="109.59"/><use href="#mPe" x="1190.35" y="110.63"/><use href="#mPe" x="1193.07" y="111.91"/><use href="#mPe" x="1195.77" y="109.62"/><use href="#mPe" x="1198.44" y="109.72"/><use href="#mPe" x="1201.08" y="111.08"/><use href="#mPe" x="1203.7" y="109.81"/><use href="#mPe" x="1206.3" y="110.54"/><use href="#mPe" x="1208.87" y="109.77"/><use href="#mPe" x="1211.42" y="109.79"/><use href="#mPe" x="1213.94" y="110.27"/><use href="#mPe" x="1216.44" y="111.11"/><use href="#mPe" x="1219.42" y="109.61"/><use href="#mPe" x="1222.36" y="107.45"/><use href="#mPe" x="1225.27" y="111.59"/><use href="#mPe" x="1228.15" y="112.59"/><use href="#mPe" x="1231.01" y="110.44"/><use href="#mPe" x="1233.83" y="109.16"/><use href="#mPe" x="1236.63" y="109.64"/><use href="#mPe" x="1239.39" y="109.19"/><use href="#mPe" x="1242.13" y="110.3"/><use href="#mPe" x="1244.85" y="109.15"/><use href="#mPe" x="1247.54" y="112.1"/><use href="#mPe" x="1250.2" y="110.62"/><use href="#mPe" x="1252.84" y="109.75"/><use href="#mPe" x="1255.45" y="111.64"/><use href="#mPe" x="1258.04" y="110.78"/><use href="#mPe" x="1260.6" y="109.06"/><use href="#mPe" x="1263.15" y="111.97"/><use href="#mPe" x="1265.66" y="108.8"/><use href="#mPe" x="1268.58" y="109.48"/><use href="#mPe" x="1271.46" y="109.57"/><use href="#mPe" x="1274.31" y="110.44"/><use href="#mPe" x="1277.13" y="110.29"/><use href="#mPe" x="1279.92" y="108.64"/><use href="#mPe" x="1282.69" y="110.47"/><use href="#mPe" x="1285.43" y="111.28"/><use href="#mPe" x="1288.14" y="108.56"/><use href="#mPe" x="1290.83" y="111.28"/><use href="#mPe" x="1293.49" y="111.33"/><use href="#mPe" x="1296.13" y="108.82"/><use href="#mPe" x="1298.74" y="111.34"/><use href="#mPe" x="1301.33" y="109.99"/><use href="#mPe" x="1303.89" y="110.63"/><use href="#mPe" x="1306.43" y="109.29"/><use href="#mPe" x="1308.95" y="108.93"/><use href="#mPe" x="1311.8" y="110.32"/><use href="#mPe" x="1314.62" y="108.77"/><use href="#mPe" x="1317.41" y="110.16"/><use href="#mPe" x="1320.18" y="109.29"/><use href="#mPe" x="1322.92" y="110.28"/><use href="#mPe" x="1325.63" y="109.7"/><use href="#mPe" x="1328.32" y="108.79"/><use href="#mPe" x="1330.98" y="110.66"/><use href="#mPe" x="1333.61" y="110.82"/><use href="#mPe" x="1336.22" y="110.52"/><use href="#mPe" x="1338.81" y="110.26"/><use href="#mPe" x="1341.37" y="109.54"/><use href="#mPe" x="1343.91" y="110.91"/><use href="#mPe" x="1346.43" y="110.92"/><use href="#mPe" x="1349.23" y="111.57"/><use href="#mPe" x="1352.01" y="111.48"/><use href="#mPe" x="1354.76" y="108.56"/><use href="#mPe" x="1357.48" y="109.13"/><use href="#mPe" x="1360.18" y="108.16"/>
<polyline points="95,145.9 120,145.73 139.2,145.2 160,145.22 176.7,144.15 194.2,144.86 211.7,144.2 226.7,144.55 240.8,143.78 255,143.48 269.2,143.33 283.3,143.33 298.3,143.21 311.7,142.68 323.3,142.41 335.15,142.97 346.51,141.67 357.43,143.18 367.94,142.47 378.07,141.15 387.85,141.41 397.3,142.72 406.44,142.28 415.29,140.79" fill="none" stroke="#376868" stroke-width="1.1" stroke-dasharray="5 7"/>
<use href="#mSt" x="95" y="145.9"/><use href="#mSt" x="120" y="145.73"/><use href="#mSt" x="139.2" y="145.2"/><use href="#mSt" x="160" y="145.22"/><use href="#mSt" x="176.7" y="144.15"/><use href="#mSt" x="194.2" y="144.86"/><use href="#mSt" x="211.7" y="144.2"/><use href="#mSt" x="226.7" y="144.55"/><use href="#mSt" x="240.8" y="143.78"/><use href="#mSt" x="255" y="143.48"/><use href="#mSt" x="269.2" y="143.33"/><use href="#mSt" x="283.3" y="143.33"/><use href="#mSt" x="298.3" y="143.21"/><use href="#mSt" x="311.7" y="142.68"/><use href="#mSt" x="323.3" y="142.41"/><use href="#mSt" x="335.15" y="142.97"/><use href="#mSt" x="346.51" y="141.67"/><use href="#mSt" x="357.43" y="143.18"/><use href="#mSt" x="367.94" y="142.47"/><use href="#mSt" x="378.07" y="141.15"/><use href="#mSt" x="387.85" y="141.41"/><use href="#mSt" x="397.3" y="142.72"/><use href="#mSt" x="406.44" y="142.28"/><use href="#mSt" x="415.29" y="140.79"/><use href="#mSt" x="423.87" y="140.75"/><use href="#mSt" x="432.19" y="140.79"/><use href="#mSt" x="440.27" y="142.71"/><use href="#mSt" x="448.13" y="141.62"/><use href="#mSt" x="455.77" y="141.35"/><use href="#mSt" x="463.21" y="140.24"/><use href="#mSt" x="470.46" y="141.41"/><use href="#mSt" x="477.52" y="140.01"/><use href="#mSt" x="484.41" y="141.02"/><use href="#mSt" x="491.14" y="140.73"/><use href="#mSt" x="497.7" y="140.9"/><use href="#mSt" x="504.12" y="140.45"/><use href="#mSt" x="510.39" y="140.83"/><use href="#mSt" x="516.53" y="139.63"/><use href="#mSt" x="522.53" y="140.25"/><use href="#mSt" x="528.41" y="140.09"/><use href="#mSt" x="534.16" y="140.65"/><use href="#mSt" x="539.8" y="141.29"/><use href="#mSt" x="545.33" y="141.25"/><use href="#mSt" x="550.76" y="140.54"/><use href="#mSt" x="556.07" y="139.22"/><use href="#mSt" x="561.29" y="140.7"/><use href="#mSt" x="566.42" y="139.61"/><use href="#mSt" x="571.45" y="140.34"/><use href="#mSt" x="576.4" y="139.91"/><use href="#mSt" x="581.25" y="139.19"/><use href="#mSt" x="586.03" y="139.72"/><use href="#mSt" x="590.72" y="139.42"/><use href="#mSt" x="595.34" y="139.68"/><use href="#mSt" x="599.88" y="138.88"/><use href="#mSt" x="604.35" y="139.64"/><use href="#mSt" x="608.75" y="139.65"/><use href="#mSt" x="613.08" y="140.14"/><use href="#mSt" x="617.35" y="138.71"/><use href="#mSt" x="621.55" y="140.38"/><use href="#mSt" x="625.69" y="139.27"/><use href="#mSt" x="629.77" y="139.95"/><use href="#mSt" x="633.79" y="139.2"/><use href="#mSt" x="637.75" y="139.68"/><use href="#mSt" x="641.66" y="139.54"/><use href="#mSt" x="645.52" y="138.74"/><use href="#mSt" x="649.32" y="138.48"/><use href="#mSt" x="653.07" y="139.78"/><use href="#mSt" x="656.77" y="139.57"/><use href="#mSt" x="660.43" y="140.16"/><use href="#mSt" x="664.03" y="138.79"/><use href="#mSt" x="667.59" y="138.38"/><use href="#mSt" x="671.11" y="139.81"/><use href="#mSt" x="674.58" y="137.75"/><use href="#mSt" x="678.01" y="138.63"/><use href="#mSt" x="681.4" y="138.98"/><use href="#mSt" x="684.75" y="138.56"/><use href="#mSt" x="688.06" y="138.41"/><use href="#mSt" x="691.32" y="138.36"/><use href="#mSt" x="694.56" y="140.02"/><use href="#mSt" x="697.75" y="139.59"/><use href="#mSt" x="700.91" y="138.32"/><use href="#mSt" x="704.03" y="138.92"/><use href="#mSt" x="707.12" y="138.5"/><use href="#mSt" x="710.18" y="138.41"/><use href="#mSt" x="713.2" y="138.82"/><use href="#mSt" x="716.19" y="139.41"/><use href="#mSt" x="719.15" y="138.86"/><use href="#mSt" x="722.08" y="137.5"/><use href="#mSt" x="724.97" y="138.21"/><use href="#mSt" x="727.84" y="138.39"/><use href="#mSt" x="730.68" y="138.1"/><use href="#mSt" x="733.49" y="138.42"/><use href="#mSt" x="736.27" y="137.68"/><use href="#mSt" x="739.03" y="138.92"/><use href="#mSt" x="741.76" y="138.64"/><use href="#mSt" x="744.46" y="138.81"/><use href="#mSt" x="747.13" y="139.01"/><use href="#mSt" x="749.78" y="138.4"/><use href="#mSt" x="752.41" y="140.07"/><use href="#mSt" x="755.01" y="138.83"/><use href="#mSt" x="757.59" y="138.1"/><use href="#mSt" x="760.14" y="138.74"/><use href="#mSt" x="762.67" y="139.48"/><use href="#mSt" x="765.18" y="139.31"/><use href="#mSt" x="767.67" y="137.19"/><use href="#mSt" x="770.13" y="138.4"/><use href="#mSt" x="772.57" y="139.38"/><use href="#mSt" x="774.99" y="138.39"/><use href="#mSt" x="777.39" y="138.38"/><use href="#mSt" x="779.77" y="137.68"/><use href="#mSt" x="782.13" y="138.61"/><use href="#mSt" x="784.47" y="138.52"/><use href="#mSt" x="786.8" y="138.38"/><use href="#mSt" x="789.1" y="137.76"/><use href="#mSt" x="791.38" y="138.74"/><use href="#mSt" x="793.65" y="138.32"/><use href="#mSt" x="795.89" y="139.17"/><use href="#mSt" x="798.12" y="137.93"/><use href="#mSt" x="800.33" y="138.53"/><use href="#mSt" x="802.53" y="137.74"/><use href="#mSt" x="804.7" y="137.01"/><use href="#mSt" x="806.86" y="138.41"/><use href="#mSt" x="809" y="137.13"/><use href="#mSt" x="811.13" y="139.11"/><use href="#mSt" x="813.24" y="138.07"/><use href="#mSt" x="815.34" y="137.68"/><use href="#mSt" x="817.42" y="137.57"/><use href="#mSt" x="819.48" y="137.27"/><use href="#mSt" x="821.53" y="137.38"/><use href="#mSt" x="823.57" y="138.94"/><use href="#mSt" x="825.58" y="138.55"/><use href="#mSt" x="827.59" y="138.3"/><use href="#mSt" x="829.58" y="138.41"/><use href="#mSt" x="831.56" y="137.5"/><use href="#mSt" x="833.52" y="137.5"/><use href="#mSt" x="835.47" y="138.4"/><use href="#mSt" x="837.41" y="137.48"/><use href="#mSt" x="839.33" y="138.6"/><use href="#mSt" x="841.24" y="137.91"/><use href="#mSt" x="843.13" y="137.97"/><use href="#mSt" x="845.02" y="137.62"/><use href="#mSt" x="846.89" y="139.05"/><use href="#mSt" x="848.75" y="137.32"/><use href="#mSt" x="850.59" y="137.24"/><use href="#mSt" x="852.43" y="136.45"/><use href="#mSt" x="854.25" y="138.51"/><use href="#mSt" x="856.06" y="137.5"/><use href="#mSt" x="857.86" y="137.92"/><use href="#mSt" x="859.65" y="137.5"/><use href="#mSt" x="861.42" y="138.79"/><use href="#mSt" x="863.19" y="137.17"/><use href="#mSt" x="864.94" y="137.67"/><use href="#mSt" x="866.69" y="138.8"/><use href="#mSt" x="868.42" y="137.9"/><use href="#mSt" x="870.14" y="137.88"/><use href="#mSt" x="871.85" y="138.01"/><use href="#mSt" x="873.55" y="137.52"/><use href="#mSt" x="875.24" y="137.81"/><use href="#mSt" x="876.92" y="138.82"/><use href="#mSt" x="878.59" y="137.49"/><use href="#mSt" x="880.25" y="138.6"/><use href="#mSt" x="881.9" y="137.37"/><use href="#mSt" x="883.54" y="137.58"/><use href="#mSt" x="885.18" y="137.64"/><use href="#mSt" x="886.8" y="137.17"/><use href="#mSt" x="888.41" y="137.48"/><use href="#mSt" x="890.01" y="138.05"/><use href="#mSt" x="891.61" y="137.5"/><use href="#mSt" x="893.19" y="137.43"/><use href="#mSt" x="894.77" y="137.78"/><use href="#mSt" x="896.34" y="138.27"/><use href="#mSt" x="897.9" y="136.92"/><use href="#mSt" x="899.45" y="137.41"/><use href="#mSt" x="900.99" y="136.75"/><use href="#mSt" x="902.52" y="137.53"/><use href="#mSt" x="904.04" y="138.77"/><use href="#mSt" x="905.56" y="136.74"/><use href="#mSt" x="907.07" y="137.48"/><use href="#mSt" x="908.57" y="136.73"/><use href="#mSt" x="910.06" y="138.04"/><use href="#mSt" x="911.55" y="136.85"/><use href="#mSt" x="913.02" y="137.51"/><use href="#mSt" x="914.49" y="138.43"/><use href="#mSt" x="915.95" y="137.19"/><use href="#mSt" x="917.41" y="137.53"/><use href="#mSt" x="918.85" y="137.01"/><use href="#mSt" x="920.29" y="137.79"/><use href="#mSt" x="921.72" y="137.4"/><use href="#mSt" x="923.15" y="137.13"/><use href="#mSt" x="924.56" y="137.99"/><use href="#mSt" x="925.97" y="138.12"/><use href="#mSt" x="927.37" y="137.84"/><use href="#mSt" x="928.77" y="136.94"/><use href="#mSt" x="930.16" y="136.79"/><use href="#mSt" x="931.54" y="136.6"/><use href="#mSt" x="932.92" y="136.74"/><use href="#mSt" x="934.28" y="136.95"/><use href="#mSt" x="935.65" y="136.87"/><use href="#mSt" x="937" y="136.33"/><use href="#mSt" x="938.35" y="137.84"/><use href="#mSt" x="939.69" y="137.4"/><use href="#mSt" x="941.03" y="136.58"/><use href="#mSt" x="942.36" y="138.56"/><use href="#mSt" x="943.68" y="138.33"/><use href="#mSt" x="945" y="137.9"/><use href="#mSt" x="946.31" y="137.69"/><use href="#mSt" x="947.61" y="136.22"/><use href="#mSt" x="948.91" y="136.35"/><use href="#mSt" x="950.2" y="137.19"/><use href="#mSt" x="951.49" y="135.44"/><use href="#mSt" x="952.77" y="137.22"/><use href="#mSt" x="954.04" y="137.94"/><use href="#mSt" x="955.31" y="137.06"/><use href="#mSt" x="956.58" y="137.33"/><use href="#mSt" x="957.83" y="136.1"/><use href="#mSt" x="959.09" y="136.92"/><use href="#mSt" x="960.33" y="137.08"/><use href="#mSt" x="961.57" y="137.29"/><use href="#mSt" x="962.81" y="137.14"/><use href="#mSt" x="964.04" y="136.53"/><use href="#mSt" x="965.26" y="137.83"/><use href="#mSt" x="966.48" y="136.73"/><use href="#mSt" x="967.7" y="136.24"/><use href="#mSt" x="968.9" y="136.47"/><use href="#mSt" x="970.11" y="136.88"/><use href="#mSt" x="971.31" y="136.9"/><use href="#mSt" x="972.5" y="136.71"/><use href="#mSt" x="973.69" y="136.83"/><use href="#mSt" x="974.87" y="136.77"/><use href="#mSt" x="976.05" y="136.64"/><use href="#mSt" x="977.22" y="136.64"/><use href="#mSt" x="978.39" y="136.84"/><use href="#mSt" x="979.56" y="136.48"/><use href="#mSt" x="980.71" y="136.51"/><use href="#mSt" x="981.87" y="136.82"/><use href="#mSt" x="983.02" y="137.52"/><use href="#mSt" x="984.16" y="136.62"/><use href="#mSt" x="985.3" y="135.04"/><use href="#mSt" x="986.44" y="136.2"/><use href="#mSt" x="987.57" y="138.12"/><use href="#mSt" x="988.69" y="136.31"/><use href="#mSt" x="989.82" y="136.81"/><use href="#mSt" x="990.93" y="135.98"/><use href="#mSt" x="992.04" y="136.17"/><use href="#mSt" x="993.15" y="135.69"/><use href="#mSt" x="994.26" y="135.41"/><use href="#mSt" x="995.36" y="137.19"/><use href="#mSt" x="996.45" y="136.32"/><use href="#mSt" x="997.54" y="136.76"/><use href="#mSt" x="998.63" y="136.8"/><use href="#mSt" x="999.71" y="137.79"/><use href="#mSt" x="1000.79" y="135.68"/><use href="#mSt" x="1001.87" y="137.02"/><use href="#mSt" x="1002.94" y="136.78"/><use href="#mSt" x="1004" y="137"/><use href="#mSt" x="1005.06" y="137.11"/><use href="#mSt" x="1006.12" y="137.01"/><use href="#mSt" x="1007.18" y="136.16"/><use href="#mSt" x="1008.23" y="136.15"/><use href="#mSt" x="1009.27" y="136.69"/><use href="#mSt" x="1010.31" y="136.23"/><use href="#mSt" x="1011.35" y="136.19"/><use href="#mSt" x="1012.39" y="136.84"/><use href="#mSt" x="1013.42" y="135.55"/><use href="#mSt" x="1014.44" y="136.35"/><use href="#mSt" x="1015.47" y="136.52"/><use href="#mSt" x="1016.49" y="136.31"/><use href="#mSt" x="1017.5" y="135.89"/><use href="#mSt" x="1018.52" y="136.88"/><use href="#mSt" x="1019.52" y="136.53"/><use href="#mSt" x="1020.53" y="135.77"/><use href="#mSt" x="1021.53" y="136.65"/><use href="#mSt" x="1023.52" y="135.41"/><use href="#mSt" x="1025.5" y="136.56"/><use href="#mSt" x="1027.46" y="136.68"/><use href="#mSt" x="1029.41" y="136.27"/><use href="#mSt" x="1031.35" y="136.17"/><use href="#mSt" x="1033.27" y="136.44"/><use href="#mSt" x="1035.18" y="136.53"/><use href="#mSt" x="1037.08" y="136.09"/><use href="#mSt" x="1038.97" y="136.24"/><use href="#mSt" x="1040.84" y="135.15"/><use href="#mSt" x="1042.7" y="135.63"/><use href="#mSt" x="1044.55" y="136.49"/><use href="#mSt" x="1046.38" y="136.41"/><use href="#mSt" x="1048.2" y="135.52"/><use href="#mSt" x="1050.02" y="135.1"/><use href="#mSt" x="1051.82" y="135.68"/><use href="#mSt" x="1053.6" y="136.48"/><use href="#mSt" x="1055.38" y="135.22"/><use href="#mSt" x="1057.15" y="135.33"/><use href="#mSt" x="1058.9" y="136.21"/><use href="#mSt" x="1060.65" y="136.89"/><use href="#mSt" x="1062.38" y="136.06"/><use href="#mSt" x="1064.1" y="134.05"/><use href="#mSt" x="1065.81" y="135.67"/><use href="#mSt" x="1067.51" y="135.67"/><use href="#mSt" x="1069.2" y="135.42"/><use href="#mSt" x="1070.89" y="136.17"/><use href="#mSt" x="1072.56" y="136.44"/><use href="#mSt" x="1074.22" y="135.23"/><use href="#mSt" x="1075.87" y="134.3"/><use href="#mSt" x="1077.51" y="135.06"/><use href="#mSt" x="1079.14" y="136.32"/><use href="#mSt" x="1080.77" y="135.51"/><use href="#mSt" x="1082.38" y="135.14"/><use href="#mSt" x="1083.98" y="136.17"/><use href="#mSt" x="1085.58" y="134.7"/><use href="#mSt" x="1087.16" y="136.02"/><use href="#mSt" x="1088.74" y="135.29"/><use href="#mSt" x="1090.31" y="135.64"/><use href="#mSt" x="1091.87" y="136"/><use href="#mSt" x="1093.42" y="135.44"/><use href="#mSt" x="1094.96" y="134.83"/><use href="#mSt" x="1096.49" y="134.08"/><use href="#mSt" x="1098.02" y="134.74"/><use href="#mSt" x="1099.54" y="135.12"/><use href="#mSt" x="1101.04" y="134.85"/><use href="#mSt" x="1102.55" y="135.52"/><use href="#mSt" x="1104.04" y="135.91"/><use href="#mSt" x="1105.52" y="136.68"/><use href="#mSt" x="1107" y="134.91"/><use href="#mSt" x="1108.47" y="135.06"/><use href="#mSt" x="1109.93" y="135.42"/><use href="#mSt" x="1111.38" y="135.49"/><use href="#mSt" x="1112.83" y="135.32"/><use href="#mSt" x="1114.27" y="135.97"/><use href="#mSt" x="1115.7" y="134.66"/><use href="#mSt" x="1117.13" y="134.21"/><use href="#mSt" x="1118.54" y="136"/><use href="#mSt" x="1119.95" y="136.02"/><use href="#mSt" x="1121.36" y="136.5"/><use href="#mSt" x="1122.75" y="135.53"/><use href="#mSt" x="1124.14" y="135.52"/><use href="#mSt" x="1125.52" y="135.23"/><use href="#mSt" x="1126.9" y="134.9"/><use href="#mSt" x="1128.27" y="135.08"/><use href="#mSt" x="1129.63" y="135.79"/><use href="#mSt" x="1130.99" y="135.35"/><use href="#mSt" x="1132.33" y="133.77"/><use href="#mSt" x="1133.68" y="134.61"/><use href="#mSt" x="1135.01" y="134.62"/><use href="#mSt" x="1136.34" y="135.38"/><use href="#mSt" x="1137.67" y="135.14"/><use href="#mSt" x="1138.98" y="134.41"/><use href="#mSt" x="1140.29" y="134.74"/><use href="#mSt" x="1141.6" y="134.78"/><use href="#mSt" x="1142.9" y="135.29"/><use href="#mSt" x="1144.19" y="134.39"/><use href="#mSt" x="1145.48" y="134.27"/><use href="#mSt" x="1146.76" y="135.34"/><use href="#mSt" x="1148.03" y="135.7"/><use href="#mSt" x="1149.3" y="135.9"/><use href="#mSt" x="1150.57" y="134.64"/><use href="#mSt" x="1151.83" y="134.18"/><use href="#mSt" x="1153.08" y="136.02"/><use href="#mSt" x="1154.33" y="134.18"/><use href="#mSt" x="1155.57" y="134.81"/><use href="#mSt" x="1156.8" y="135.06"/><use href="#mSt" x="1158.03" y="134.83"/><use href="#mSt" x="1159.26" y="134.97"/><use href="#mSt" x="1160.48" y="134.33"/><use href="#mSt" x="1161.69" y="135.58"/><use href="#mSt" x="1162.9" y="134.23"/><use href="#mSt" x="1164.1" y="134.8"/><use href="#mSt" x="1165.3" y="135.02"/><use href="#mSt" x="1166.5" y="133.88"/><use href="#mSt" x="1167.69" y="134.76"/><use href="#mSt" x="1168.87" y="133.8"/><use href="#mSt" x="1170.05" y="135.05"/><use href="#mSt" x="1171.22" y="132.67"/><use href="#mSt" x="1172.39" y="134.27"/><use href="#mSt" x="1173.55" y="134.66"/><use href="#mSt" x="1174.71" y="135.08"/><use href="#mSt" x="1175.87" y="134.48"/><use href="#mSt" x="1177.02" y="134.53"/><use href="#mSt" x="1178.16" y="134.69"/><use href="#mSt" x="1179.3" y="134.4"/><use href="#mSt" x="1180.44" y="134.31"/><use href="#mSt" x="1181.57" y="133.09"/><use href="#mSt" x="1182.7" y="134.7"/><use href="#mSt" x="1183.82" y="134.96"/><use href="#mSt" x="1184.93" y="134.3"/><use href="#mSt" x="1186.05" y="134.95"/><use href="#mSt" x="1187.16" y="133.61"/><use href="#mSt" x="1188.26" y="133.78"/><use href="#mSt" x="1189.36" y="134.13"/><use href="#mSt" x="1190.46" y="135.37"/><use href="#mSt" x="1191.55" y="134.59"/><use href="#mSt" x="1192.63" y="134.34"/><use href="#mSt" x="1193.72" y="134.97"/><use href="#mSt" x="1194.8" y="134.14"/><use href="#mSt" x="1195.87" y="135.53"/><use href="#mSt" x="1196.94" y="133.6"/><use href="#mSt" x="1198.01" y="133.7"/><use href="#mSt" x="1199.07" y="134.75"/><use href="#mSt" x="1200.13" y="134.58"/><use href="#mSt" x="1201.18" y="133.74"/><use href="#mSt" x="1202.23" y="133.34"/><use href="#mSt" x="1203.28" y="134.28"/><use href="#mSt" x="1204.32" y="134.15"/><use href="#mSt" x="1205.36" y="133.88"/><use href="#mSt" x="1206.4" y="133.8"/><use href="#mSt" x="1207.43" y="133.85"/><use href="#mSt" x="1208.45" y="133.94"/><use href="#mSt" x="1209.48" y="133.62"/><use href="#mSt" x="1210.5" y="134.74"/><use href="#mSt" x="1211.51" y="133.34"/><use href="#mSt" x="1212.53" y="135.28"/><use href="#mSt" x="1213.53" y="133.5"/><use href="#mSt" x="1214.54" y="134.19"/><use href="#mSt" x="1215.54" y="133.97"/><use href="#mSt" x="1217.04" y="133.69"/><use href="#mSt" x="1218.52" y="133.37"/><use href="#mSt" x="1220" y="134.32"/><use href="#mSt" x="1221.48" y="132.52"/><use href="#mSt" x="1222.94" y="133.61"/><use href="#mSt" x="1224.4" y="134.73"/><use href="#mSt" x="1225.85" y="134.15"/><use href="#mSt" x="1227.29" y="133.76"/><use href="#mSt" x="1228.72" y="132.54"/><use href="#mSt" x="1230.15" y="134.49"/><use href="#mSt" x="1231.57" y="134.78"/><use href="#mSt" x="1232.98" y="134.52"/><use href="#mSt" x="1234.39" y="133.39"/><use href="#mSt" x="1235.79" y="133.76"/><use href="#mSt" x="1237.18" y="133.97"/><use href="#mSt" x="1238.56" y="133.96"/><use href="#mSt" x="1239.94" y="133.26"/><use href="#mSt" x="1241.31" y="134.26"/><use href="#mSt" x="1242.68" y="134.03"/><use href="#mSt" x="1244.03" y="133.7"/><use href="#mSt" x="1245.38" y="133.78"/><use href="#mSt" x="1246.73" y="133.19"/><use href="#mSt" x="1248.07" y="134.29"/><use href="#mSt" x="1249.4" y="134.55"/><use href="#mSt" x="1250.73" y="133.58"/><use href="#mSt" x="1252.04" y="133.53"/><use href="#mSt" x="1253.36" y="133.29"/><use href="#mSt" x="1254.66" y="131.99"/><use href="#mSt" x="1255.97" y="132.44"/><use href="#mSt" x="1257.26" y="133.17"/><use href="#mSt" x="1258.55" y="134.21"/><use href="#mSt" x="1259.83" y="133.42"/><use href="#mSt" x="1261.11" y="134.01"/><use href="#mSt" x="1262.38" y="133.64"/><use href="#mSt" x="1263.65" y="133.58"/><use href="#mSt" x="1264.91" y="133.08"/><use href="#mSt" x="1266.16" y="133.99"/><use href="#mSt" x="1267.41" y="134.64"/><use href="#mSt" x="1268.65" y="133.66"/><use href="#mSt" x="1269.89" y="133.83"/><use href="#mSt" x="1271.12" y="133.9"/><use href="#mSt" x="1272.35" y="133.55"/><use href="#mSt" x="1273.57" y="133.56"/><use href="#mSt" x="1274.79" y="134.09"/><use href="#mSt" x="1276" y="133.8"/><use href="#mSt" x="1277.21" y="133.4"/><use href="#mSt" x="1278.41" y="133.86"/><use href="#mSt" x="1279.6" y="133.03"/><use href="#mSt" x="1280.79" y="132.5"/><use href="#mSt" x="1281.98" y="132.77"/><use href="#mSt" x="1283.16" y="133.93"/><use href="#mSt" x="1284.33" y="133.64"/><use href="#mSt" x="1285.5" y="134.39"/><use href="#mSt" x="1286.67" y="133.12"/><use href="#mSt" x="1287.83" y="132.43"/><use href="#mSt" x="1288.99" y="134.22"/><use href="#mSt" x="1290.14" y="133.7"/><use href="#mSt" x="1291.28" y="133.31"/><use href="#mSt" x="1292.43" y="134.31"/><use href="#mSt" x="1293.56" y="133.48"/><use href="#mSt" x="1294.7" y="133.51"/><use href="#mSt" x="1295.82" y="134.26"/><use href="#mSt" x="1296.95" y="134.42"/><use href="#mSt" x="1298.07" y="132.59"/><use href="#mSt" x="1299.18" y="133.49"/><use href="#mSt" x="1300.29" y="132.28"/><use href="#mSt" x="1301.4" y="132.35"/><use href="#mSt" x="1302.5" y="133.56"/><use href="#mSt" x="1303.6" y="134.21"/><use href="#mSt" x="1304.69" y="133.5"/><use href="#mSt" x="1305.78" y="132.81"/><use href="#mSt" x="1306.86" y="132.96"/><use href="#mSt" x="1307.94" y="133.06"/><use href="#mSt" x="1309.02" y="132.89"/><use href="#mSt" x="1310.09" y="133.23"/><use href="#mSt" x="1311.16" y="133.21"/><use href="#mSt" x="1312.22" y="132.91"/><use href="#mSt" x="1313.28" y="133.16"/><use href="#mSt" x="1314.34" y="133.56"/><use href="#mSt" x="1315.39" y="132.65"/><use href="#mSt" x="1316.44" y="133.92"/><use href="#mSt" x="1317.48" y="132.52"/><use href="#mSt" x="1318.52" y="132.89"/><use href="#mSt" x="1319.56" y="132.62"/><use href="#mSt" x="1320.59" y="132.44"/><use href="#mSt" x="1321.62" y="132.38"/><use href="#mSt" x="1322.64" y="133.4"/><use href="#mSt" x="1323.66" y="133.11"/><use href="#mSt" x="1324.68" y="133.03"/><use href="#mSt" x="1325.69" y="133.3"/><use href="#mSt" x="1326.7" y="132.97"/><use href="#mSt" x="1327.71" y="133.82"/><use href="#mSt" x="1328.71" y="132.66"/><use href="#mSt" x="1330.05" y="133"/><use href="#mSt" x="1331.37" y="132.4"/><use href="#mSt" x="1332.69" y="134.34"/><use href="#mSt" x="1334" y="133.97"/><use href="#mSt" x="1335.31" y="133.37"/><use href="#mSt" x="1336.61" y="133.69"/><use href="#mSt" x="1337.9" y="132.42"/><use href="#mSt" x="1339.19" y="133.39"/><use href="#mSt" x="1340.48" y="133.15"/><use href="#mSt" x="1341.75" y="133"/><use href="#mSt" x="1343.02" y="133.24"/><use href="#mSt" x="1344.29" y="132.68"/><use href="#mSt" x="1345.55" y="131.54"/><use href="#mSt" x="1346.8" y="131.91"/><use href="#mSt" x="1348.05" y="132.17"/><use href="#mSt" x="1349.29" y="133.13"/><use href="#mSt" x="1350.53" y="133.53"/><use href="#mSt" x="1351.76" y="132.93"/><use href="#mSt" x="1352.99" y="132.26"/><use href="#mSt" x="1354.21" y="132.02"/><use href="#mSt" x="1355.43" y="133.18"/><use href="#mSt" x="1356.64" y="132.51"/><use href="#mSt" x="1357.84" y="133.64"/><use href="#mSt" x="1359.04" y="131.96"/><use href="#mSt" x="1360.24" y="132.45"/><use href="#mSt" x="1361.43" y="132.39"/><use href="#mSt" x="1362.61" y="133.06"/><use href="#mSt" x="1363.79" y="132.68"/><use href="#mSt" x="1364.97" y="133.7"/><use href="#mSt" x="1366.14" y="132.9"/><use href="#mSt" x="1367.3" y="132.98"/><use href="#mSt" x="1368.46" y="131.13"/><use href="#mSt" x="1369.62" y="132.41"/><use href="#mSt" x="1370.77" y="132.78"/><use href="#mSt" x="1371.92" y="132.04"/><use href="#mSt" x="1373.06" y="132.74"/><use href="#mSt" x="1374.2" y="132.02"/><use href="#mSt" x="1375.33" y="132.75"/><use href="#mSt" x="1376.46" y="132.45"/><use href="#mSt" x="1377.58" y="130.95"/><use href="#mSt" x="1378.7" y="132.54"/><use href="#mSt" x="1379.81" y="133.28"/>
<polyline points="96,199 117.7,196.3 140.3,196 164.3,195.5 186,196.5 202.5,196 219,199.4 233.7,198.2 247.3,194.8 263.2,196 280.2,196.5 295,194.8 306.3,195.4 318.7,188.6 330.74,194.66 342.28,193.92 353.36,196.54 364.03,194.86 374.3,190.44 384.2,189.8 393.77,190.08 403.03,187.37 411.98,190.94" fill="none" stroke="#b3191e" stroke-width="1.1" stroke-dasharray="5 7"/>
<use href="#mCi" x="96" y="199"/><use href="#mCi" x="117.7" y="196.3"/><use href="#mCi" x="140.3" y="196"/><use href="#mCi" x="164.3" y="195.5"/><use href="#mCi" x="186" y="196.5"/><use href="#mCi" x="202.5" y="196"/><use href="#mCi" x="219" y="199.4"/><use href="#mCi" x="233.7" y="198.2"/><use href="#mCi" x="247.3" y="194.8"/><use href="#mCi" x="263.2" y="196"/><use href="#mCi" x="280.2" y="196.5"/><use href="#mCi" x="295" y="194.8"/><use href="#mCi" x="306.3" y="195.4"/><use href="#mCi" x="318.7" y="188.6"/><use href="#mCi" x="330.74" y="194.66"/><use href="#mCi" x="342.28" y="193.92"/><use href="#mCi" x="353.36" y="196.54"/><use href="#mCi" x="364.03" y="194.86"/><use href="#mCi" x="374.3" y="190.44"/><use href="#mCi" x="384.2" y="189.8"/><use href="#mCi" x="393.77" y="190.08"/><use href="#mCi" x="403.03" y="187.37"/><use href="#mCi" x="411.98" y="190.94"/><use href="#mCi" x="420.66" y="192.24"/><use href="#mCi" x="429.08" y="189.68"/><use href="#mCi" x="437.25" y="188.12"/><use href="#mCi" x="445.19" y="190.51"/><use href="#mCi" x="452.91" y="189.02"/><use href="#mCi" x="460.43" y="191.2"/><use href="#mCi" x="467.75" y="193.28"/><use href="#mCi" x="474.88" y="198.43"/><use href="#mCi" x="481.83" y="198.17"/><use href="#mCi" x="488.62" y="193.79"/><use href="#mCi" x="495.24" y="195.63"/><use href="#mCi" x="501.72" y="195.86"/><use href="#mCi" x="508.04" y="196.09"/><use href="#mCi" x="514.23" y="195.03"/><use href="#mCi" x="520.28" y="195.95"/><use href="#mCi" x="526.2" y="197.08"/><use href="#mCi" x="532.01" y="195.24"/><use href="#mCi" x="537.69" y="196.74"/><use href="#mCi" x="543.26" y="194.03"/><use href="#mCi" x="548.72" y="194.93"/><use href="#mCi" x="554.08" y="195.53"/><use href="#mCi" x="559.34" y="197.15"/><use href="#mCi" x="564.5" y="199.58"/><use href="#mCi" x="569.56" y="198.26"/><use href="#mCi" x="574.54" y="200.86"/><use href="#mCi" x="579.43" y="199.55"/><use href="#mCi" x="584.24" y="200.53"/><use href="#mCi" x="588.96" y="200.08"/><use href="#mCi" x="593.61" y="199.92"/><use href="#mCi" x="598.18" y="202.05"/><use href="#mCi" x="602.68" y="196.89"/><use href="#mCi" x="607.1" y="201.09"/><use href="#mCi" x="611.46" y="197.74"/><use href="#mCi" x="615.75" y="199.83"/><use href="#mCi" x="619.97" y="204.12"/><use href="#mCi" x="624.14" y="202.43"/><use href="#mCi" x="628.24" y="203.65"/><use href="#mCi" x="632.28" y="198.54"/><use href="#mCi" x="636.27" y="196.33"/><use href="#mCi" x="640.2" y="199.22"/><use href="#mCi" x="644.07" y="198.65"/><use href="#mCi" x="647.89" y="198.03"/><use href="#mCi" x="651.66" y="192.84"/><use href="#mCi" x="655.38" y="200.18"/><use href="#mCi" x="659.05" y="192.07"/><use href="#mCi" x="662.68" y="197.13"/><use href="#mCi" x="666.26" y="191.3"/><use href="#mCi" x="669.79" y="191.35"/><use href="#mCi" x="673.28" y="191.29"/><use href="#mCi" x="676.72" y="192.22"/><use href="#mCi" x="680.13" y="190.75"/><use href="#mCi" x="683.49" y="189.93"/><use href="#mCi" x="686.81" y="194.31"/><use href="#mCi" x="690.1" y="198.84"/><use href="#mCi" x="693.34" y="191.16"/><use href="#mCi" x="696.55" y="192.92"/><use href="#mCi" x="699.72" y="193.02"/><use href="#mCi" x="702.86" y="190"/><use href="#mCi" x="705.96" y="191.3"/><use href="#mCi" x="709.03" y="193.09"/><use href="#mCi" x="712.06" y="190.86"/><use href="#mCi" x="715.07" y="196.98"/><use href="#mCi" x="718.04" y="196.25"/><use href="#mCi" x="720.98" y="192.08"/><use href="#mCi" x="723.89" y="197.73"/><use href="#mCi" x="726.76" y="190.24"/><use href="#mCi" x="729.61" y="191.28"/><use href="#mCi" x="732.43" y="193.4"/><use href="#mCi" x="735.23" y="191.04"/><use href="#mCi" x="737.99" y="191.59"/><use href="#mCi" x="740.73" y="186.96"/><use href="#mCi" x="743.44" y="189.51"/><use href="#mCi" x="746.13" y="189"/><use href="#mCi" x="748.79" y="190.53"/><use href="#mCi" x="751.42" y="186.47"/><use href="#mCi" x="754.03" y="185.54"/><use href="#mCi" x="756.62" y="187.75"/><use href="#mCi" x="759.18" y="188.09"/><use href="#mCi" x="761.72" y="181.53"/><use href="#mCi" x="764.24" y="183.94"/><use href="#mCi" x="769.2" y="185.53"/><use href="#mCi" x="774.08" y="185.99"/><use href="#mCi" x="778.88" y="187.14"/><use href="#mCi" x="783.59" y="186.75"/><use href="#mCi" x="788.23" y="185.04"/><use href="#mCi" x="792.79" y="185.37"/><use href="#mCi" x="797.28" y="185.62"/><use href="#mCi" x="801.7" y="186.39"/><use href="#mCi" x="806.05" y="180.49"/><use href="#mCi" x="810.33" y="180.23"/><use href="#mCi" x="814.55" y="177.94"/><use href="#mCi" x="818.71" y="181.32"/><use href="#mCi" x="822.8" y="183.82"/><use href="#mCi" x="826.84" y="182.37"/><use href="#mCi" x="830.81" y="183.43"/><use href="#mCi" x="834.74" y="186.6"/><use href="#mCi" x="838.61" y="184.15"/><use href="#mCi" x="842.42" y="187.93"/><use href="#mCi" x="846.19" y="184.35"/><use href="#mCi" x="849.9" y="183.79"/><use href="#mCi" x="853.57" y="183.94"/><use href="#mCi" x="857.18" y="188.03"/><use href="#mCi" x="860.76" y="188.27"/><use href="#mCi" x="864.28" y="190.65"/><use href="#mCi" x="867.77" y="189.42"/><use href="#mCi" x="871.21" y="189.91"/><use href="#mCi" x="874.61" y="190.45"/><use href="#mCi" x="877.96" y="188.4"/><use href="#mCi" x="881.28" y="187.45"/><use href="#mCi" x="884.56" y="186.88"/><use href="#mCi" x="887.8" y="192.26"/><use href="#mCi" x="891.01" y="193.74"/><use href="#mCi" x="894.18" y="191.19"/><use href="#mCi" x="897.31" y="193.45"/><use href="#mCi" x="900.41" y="191.54"/><use href="#mCi" x="903.47" y="190.6"/><use href="#mCi" x="906.5" y="191.53"/><use href="#mCi" x="909.5" y="192.87"/><use href="#mCi" x="912.47" y="192.48"/><use href="#mCi" x="915.4" y="193.28"/><use href="#mCi" x="918.31" y="191.7"/><use href="#mCi" x="921.18" y="193.46"/><use href="#mCi" x="924.03" y="189.02"/><use href="#mCi" x="926.85" y="187.85"/><use href="#mCi" x="929.64" y="186.98"/><use href="#mCi" x="932.4" y="192.85"/><use href="#mCi" x="935.13" y="198.07"/><use href="#mCi" x="937.84" y="198.12"/><use href="#mCi" x="940.52" y="193.11"/><use href="#mCi" x="943.18" y="199.11"/><use href="#mCi" x="945.81" y="196.03"/><use href="#mCi" x="948.42" y="195.51"/><use href="#mCi" x="951" y="198.79"/><use href="#mCi" x="953.56" y="193.7"/><use href="#mCi" x="956.1" y="195.11"/><use href="#mCi" x="958.61" y="195.84"/><use href="#mCi" x="962.34" y="191.33"/><use href="#mCi" x="966.02" y="192.7"/><use href="#mCi" x="969.66" y="189.65"/><use href="#mCi" x="973.24" y="191.56"/><use href="#mCi" x="976.78" y="192.16"/><use href="#mCi" x="980.28" y="188.13"/><use href="#mCi" x="983.73" y="187.13"/><use href="#mCi" x="987.14" y="191.34"/><use href="#mCi" x="990.51" y="190.55"/><use href="#mCi" x="993.84" y="188.74"/><use href="#mCi" x="997.13" y="189.56"/><use href="#mCi" x="1000.38" y="190.26"/><use href="#mCi" x="1003.6" y="181.67"/><use href="#mCi" x="1006.78" y="184.58"/><use href="#mCi" x="1009.92" y="185.87"/><use href="#mCi" x="1013.03" y="188.77"/><use href="#mCi" x="1016.1" y="192.98"/><use href="#mCi" x="1019.14" y="186.82"/><use href="#mCi" x="1022.15" y="183.48"/><use href="#mCi" x="1025.13" y="187.57"/><use href="#mCi" x="1028.07" y="191.99"/><use href="#mCi" x="1030.99" y="192.71"/><use href="#mCi" x="1033.87" y="189.86"/><use href="#mCi" x="1036.73" y="192.69"/><use href="#mCi" x="1039.55" y="193.57"/><use href="#mCi" x="1042.35" y="192.13"/><use href="#mCi" x="1045.12" y="195.6"/><use href="#mCi" x="1047.86" y="196.97"/><use href="#mCi" x="1050.58" y="199.47"/><use href="#mCi" x="1053.27" y="198.26"/><use href="#mCi" x="1055.93" y="199.22"/><use href="#mCi" x="1058.57" y="195.84"/><use href="#mCi" x="1061.19" y="194.13"/><use href="#mCi" x="1063.78" y="195.79"/><use href="#mCi" x="1066.34" y="195.89"/><use href="#mCi" x="1068.89" y="194.35"/><use href="#mCi" x="1071.41" y="191.07"/><use href="#mCi" x="1074.73" y="193.07"/><use href="#mCi" x="1078.02" y="188.62"/><use href="#mCi" x="1081.27" y="192.66"/><use href="#mCi" x="1084.48" y="199.49"/><use href="#mCi" x="1087.65" y="197.71"/><use href="#mCi" x="1090.79" y="199.17"/><use href="#mCi" x="1093.9" y="198.43"/><use href="#mCi" x="1096.97" y="196.6"/><use href="#mCi" x="1100.01" y="199.7"/><use href="#mCi" x="1103.01" y="200.12"/><use href="#mCi" x="1105.98" y="193.33"/><use href="#mCi" x="1108.93" y="187.26"/><use href="#mCi" x="1111.84" y="190.36"/><use href="#mCi" x="1114.72" y="188.08"/><use href="#mCi" x="1117.57" y="186.78"/><use href="#mCi" x="1120.39" y="188.55"/><use href="#mCi" x="1123.19" y="188.17"/><use href="#mCi" x="1125.95" y="185.26"/><use href="#mCi" x="1128.69" y="186.6"/><use href="#mCi" x="1131.41" y="187.88"/><use href="#mCi" x="1134.09" y="184.54"/><use href="#mCi" x="1136.76" y="186.23"/><use href="#mCi" x="1139.39" y="187.59"/><use href="#mCi" x="1142" y="187.87"/><use href="#mCi" x="1144.59" y="186.08"/><use href="#mCi" x="1147.16" y="187.62"/><use href="#mCi" x="1149.7" y="188.47"/><use href="#mCi" x="1152.22" y="188.41"/><use href="#mCi" x="1155.33" y="185.06"/><use href="#mCi" x="1158.41" y="183.64"/><use href="#mCi" x="1161.46" y="183.93"/><use href="#mCi" x="1164.48" y="185.76"/><use href="#mCi" x="1167.46" y="186.61"/><use href="#mCi" x="1170.41" y="184.91"/><use href="#mCi" x="1173.34" y="192.41"/><use href="#mCi" x="1176.23" y="188.46"/><use href="#mCi" x="1179.09" y="188.2"/><use href="#mCi" x="1181.92" y="190.76"/><use href="#mCi" x="1184.72" y="189.72"/><use href="#mCi" x="1187.5" y="187.53"/><use href="#mCi" x="1190.25" y="187.15"/><use href="#mCi" x="1192.97" y="188.01"/><use href="#mCi" x="1195.67" y="193.44"/><use href="#mCi" x="1198.34" y="191.71"/><use href="#mCi" x="1200.98" y="191.92"/><use href="#mCi" x="1203.6" y="193.71"/><use href="#mCi" x="1206.2" y="189.06"/><use href="#mCi" x="1208.77" y="189.96"/><use href="#mCi" x="1211.32" y="189.3"/><use href="#mCi" x="1213.85" y="192.21"/><use href="#mCi" x="1216.35" y="189.96"/><use href="#mCi" x="1219.33" y="192.19"/><use href="#mCi" x="1222.27" y="190.73"/><use href="#mCi" x="1225.18" y="193.05"/><use href="#mCi" x="1228.06" y="195.46"/><use href="#mCi" x="1230.92" y="192.46"/><use href="#mCi" x="1233.74" y="190.17"/><use href="#mCi" x="1236.54" y="193.92"/><use href="#mCi" x="1239.31" y="194.98"/><use href="#mCi" x="1242.05" y="192.63"/><use href="#mCi" x="1244.76" y="195.95"/><use href="#mCi" x="1247.45" y="193.36"/><use href="#mCi" x="1250.12" y="195.88"/><use href="#mCi" x="1252.76" y="195.14"/><use href="#mCi" x="1255.37" y="196.07"/><use href="#mCi" x="1257.96" y="191.76"/><use href="#mCi" x="1260.52" y="192.96"/><use href="#mCi" x="1263.07" y="195.95"/><use href="#mCi" x="1265.59" y="195.35"/><use href="#mCi" x="1268.5" y="186.25"/><use href="#mCi" x="1271.38" y="188.45"/><use href="#mCi" x="1274.23" y="188.69"/><use href="#mCi" x="1277.05" y="188.2"/><use href="#mCi" x="1279.85" y="186.84"/><use href="#mCi" x="1282.62" y="191.24"/><use href="#mCi" x="1285.36" y="188.85"/><use href="#mCi" x="1288.07" y="193.33"/><use href="#mCi" x="1290.76" y="191.76"/><use href="#mCi" x="1293.42" y="190.54"/><use href="#mCi" x="1296.06" y="195.27"/><use href="#mCi" x="1298.67" y="192.41"/><use href="#mCi" x="1301.26" y="191.63"/><use href="#mCi" x="1303.82" y="193.89"/><use href="#mCi" x="1306.36" y="196.04"/><use href="#mCi" x="1308.88" y="193.54"/><use href="#mCi" x="1311.73" y="194.53"/><use href="#mCi" x="1314.56" y="197.35"/><use href="#mCi" x="1317.35" y="196.58"/><use href="#mCi" x="1320.12" y="193.72"/><use href="#mCi" x="1322.85" y="195.27"/><use href="#mCi" x="1325.57" y="195.28"/><use href="#mCi" x="1328.25" y="197.26"/><use href="#mCi" x="1330.92" y="196.52"/><use href="#mCi" x="1333.55" y="197.81"/><use href="#mCi" x="1336.16" y="193.04"/><use href="#mCi" x="1338.75" y="196.53"/><use href="#mCi" x="1341.31" y="196.13"/><use href="#mCi" x="1343.85" y="191.54"/><use href="#mCi" x="1346.37" y="193.34"/><use href="#mCi" x="1349.18" y="192.15"/><use href="#mCi" x="1351.95" y="190.49"/><use href="#mCi" x="1354.71" y="186.08"/><use href="#mCi" x="1357.43" y="183.61"/><use href="#mCi" x="1360.13" y="182.96"/><use href="#mCi" x="1362.8" y="186.89"/><use href="#mCi" x="1365.44" y="186.86"/><use href="#mCi" x="1368.07" y="181.87"/><use href="#mCi" x="1370.66" y="185.67"/><use href="#mCi" x="1373.24" y="182.31"/><use href="#mCi" x="1375.79" y="190.59"/><use href="#mCi" x="1378.31" y="193.77"/>
<polyline points="86,193.26 107,192.64 128.3,192.9 148,192.64 168.5,193.09 186.1,192.76 202.5,192.56 218.4,192.44 233.1,192.01 248.4,192.37 262.6,192.13 275.1,192.5 287,192.33 298.9,192.12 310.8,192 323.3,192.24 335.15,192.41 346.51,191.82 357.43,192.57 367.94,192.13 378.07,191.69 387.85,192.01 397.3,191.31 406.44,191.16 415.29,192.47" fill="none" stroke="#2f2c88" stroke-width="1.1" stroke-dasharray="5 7"/>
<use href="#mOc" x="86" y="193.26"/><use href="#mOc" x="107" y="192.64"/><use href="#mOc" x="128.3" y="192.9"/><use href="#mOc" x="148" y="192.64"/><use href="#mOc" x="168.5" y="193.09"/><use href="#mOc" x="186.1" y="192.76"/><use href="#mOc" x="202.5" y="192.56"/><use href="#mOc" x="218.4" y="192.44"/><use href="#mOc" x="233.1" y="192.01"/><use href="#mOc" x="248.4" y="192.37"/><use href="#mOc" x="262.6" y="192.13"/><use href="#mOc" x="275.1" y="192.5"/><use href="#mOc" x="287" y="192.33"/><use href="#mOc" x="298.9" y="192.12"/><use href="#mOc" x="310.8" y="192"/><use href="#mOc" x="323.3" y="192.24"/><use href="#mOc" x="335.15" y="192.41"/><use href="#mOc" x="346.51" y="191.82"/><use href="#mOc" x="357.43" y="192.57"/><use href="#mOc" x="367.94" y="192.13"/><use href="#mOc" x="378.07" y="191.69"/><use href="#mOc" x="387.85" y="192.01"/><use href="#mOc" x="397.3" y="191.31"/><use href="#mOc" x="406.44" y="191.16"/><use href="#mOc" x="415.29" y="192.47"/><use href="#mOc" x="423.87" y="192.2"/><use href="#mOc" x="432.19" y="191.58"/><use href="#mOc" x="440.27" y="190.95"/><use href="#mOc" x="448.13" y="191.18"/><use href="#mOc" x="455.77" y="191.78"/><use href="#mOc" x="463.21" y="191.58"/><use href="#mOc" x="470.46" y="191.53"/><use href="#mOc" x="477.52" y="191.4"/><use href="#mOc" x="484.41" y="191.33"/><use href="#mOc" x="491.14" y="191.47"/><use href="#mOc" x="497.7" y="191.23"/><use href="#mOc" x="504.12" y="192.27"/><use href="#mOc" x="510.39" y="191.1"/><use href="#mOc" x="516.53" y="191.15"/><use href="#mOc" x="522.53" y="190.82"/><use href="#mOc" x="528.41" y="190.53"/><use href="#mOc" x="534.16" y="190.83"/><use href="#mOc" x="539.8" y="191.71"/><use href="#mOc" x="545.33" y="191.11"/><use href="#mOc" x="550.76" y="191.97"/><use href="#mOc" x="556.07" y="191.68"/><use href="#mOc" x="561.29" y="191.4"/><use href="#mOc" x="566.42" y="190.8"/><use href="#mOc" x="571.45" y="190.84"/><use href="#mOc" x="576.4" y="190.97"/><use href="#mOc" x="581.25" y="191.48"/><use href="#mOc" x="586.03" y="190.02"/><use href="#mOc" x="590.72" y="191.28"/><use href="#mOc" x="595.34" y="190.55"/><use href="#mOc" x="599.88" y="190.67"/><use href="#mOc" x="604.35" y="190.68"/><use href="#mOc" x="608.75" y="191.28"/><use href="#mOc" x="613.08" y="190.88"/><use href="#mOc" x="617.35" y="190.84"/><use href="#mOc" x="621.55" y="190.48"/><use href="#mOc" x="625.69" y="190.7"/><use href="#mOc" x="629.77" y="190.41"/><use href="#mOc" x="633.79" y="190.68"/><use href="#mOc" x="637.75" y="190.08"/><use href="#mOc" x="641.66" y="191.11"/><use href="#mOc" x="645.52" y="191.38"/><use href="#mOc" x="649.32" y="190.06"/><use href="#mOc" x="653.07" y="190.26"/><use href="#mOc" x="656.77" y="190.44"/><use href="#mOc" x="660.43" y="190.44"/><use href="#mOc" x="664.03" y="190.12"/><use href="#mOc" x="667.59" y="190.2"/><use href="#mOc" x="671.11" y="190.82"/><use href="#mOc" x="674.58" y="190.9"/><use href="#mOc" x="678.01" y="190.35"/><use href="#mOc" x="681.4" y="189.97"/><use href="#mOc" x="684.75" y="190.75"/><use href="#mOc" x="688.06" y="190.35"/><use href="#mOc" x="691.32" y="190.63"/><use href="#mOc" x="694.56" y="190.87"/><use href="#mOc" x="697.75" y="190.74"/><use href="#mOc" x="700.91" y="190.75"/><use href="#mOc" x="704.03" y="190.61"/><use href="#mOc" x="707.12" y="190.63"/><use href="#mOc" x="710.18" y="189.52"/><use href="#mOc" x="713.2" y="190"/><use href="#mOc" x="716.19" y="190.17"/><use href="#mOc" x="719.15" y="190.08"/><use href="#mOc" x="722.08" y="190.59"/><use href="#mOc" x="724.97" y="189.55"/><use href="#mOc" x="727.84" y="189.59"/><use href="#mOc" x="730.68" y="190.33"/><use href="#mOc" x="733.49" y="190.16"/><use href="#mOc" x="736.27" y="189.87"/><use href="#mOc" x="739.03" y="190"/><use href="#mOc" x="741.76" y="189.8"/><use href="#mOc" x="744.46" y="189.95"/><use href="#mOc" x="747.13" y="189.89"/><use href="#mOc" x="749.78" y="190.34"/><use href="#mOc" x="752.41" y="189.89"/><use href="#mOc" x="755.01" y="190.48"/><use href="#mOc" x="757.59" y="190.23"/><use href="#mOc" x="760.14" y="190.01"/><use href="#mOc" x="762.67" y="190.7"/><use href="#mOc" x="765.18" y="190.28"/><use href="#mOc" x="767.67" y="189.6"/><use href="#mOc" x="770.13" y="190.67"/><use href="#mOc" x="772.57" y="189.64"/><use href="#mOc" x="774.99" y="190.34"/><use href="#mOc" x="777.39" y="190.47"/><use href="#mOc" x="779.77" y="189.91"/><use href="#mOc" x="782.13" y="189.74"/><use href="#mOc" x="784.47" y="189.65"/><use href="#mOc" x="786.8" y="190.9"/><use href="#mOc" x="789.1" y="190.57"/><use href="#mOc" x="791.38" y="189.85"/><use href="#mOc" x="793.65" y="190.3"/><use href="#mOc" x="795.89" y="190.01"/><use href="#mOc" x="798.12" y="190.03"/><use href="#mOc" x="800.33" y="189.72"/><use href="#mOc" x="802.53" y="190.52"/><use href="#mOc" x="804.7" y="190.58"/><use href="#mOc" x="806.86" y="189.99"/><use href="#mOc" x="809" y="189.69"/><use href="#mOc" x="811.13" y="189.74"/><use href="#mOc" x="813.24" y="188.86"/><use href="#mOc" x="815.34" y="189.66"/><use href="#mOc" x="817.42" y="189.63"/><use href="#mOc" x="819.48" y="189.4"/><use href="#mOc" x="821.53" y="189.36"/><use href="#mOc" x="823.57" y="189.39"/><use href="#mOc" x="825.58" y="189.51"/><use href="#mOc" x="827.59" y="189.29"/><use href="#mOc" x="829.58" y="189.51"/><use href="#mOc" x="831.56" y="190.7"/><use href="#mOc" x="833.52" y="189.67"/><use href="#mOc" x="835.47" y="189.53"/><use href="#mOc" x="837.41" y="189.71"/><use href="#mOc" x="839.33" y="189.21"/><use href="#mOc" x="841.24" y="189.95"/><use href="#mOc" x="843.13" y="189.65"/><use href="#mOc" x="845.02" y="189.66"/><use href="#mOc" x="846.89" y="189.18"/><use href="#mOc" x="848.75" y="188.92"/><use href="#mOc" x="850.59" y="189.29"/><use href="#mOc" x="852.43" y="189.39"/><use href="#mOc" x="854.25" y="190.1"/><use href="#mOc" x="856.06" y="189.64"/><use href="#mOc" x="857.86" y="189.46"/><use href="#mOc" x="859.65" y="189.24"/><use href="#mOc" x="861.42" y="189.48"/><use href="#mOc" x="863.19" y="190.1"/><use href="#mOc" x="864.94" y="190.29"/><use href="#mOc" x="866.69" y="189.38"/><use href="#mOc" x="868.42" y="188.9"/><use href="#mOc" x="870.14" y="189.79"/><use href="#mOc" x="871.85" y="190.27"/><use href="#mOc" x="873.55" y="189.37"/><use href="#mOc" x="875.24" y="189.29"/><use href="#mOc" x="876.92" y="188.95"/><use href="#mOc" x="878.59" y="189.34"/><use href="#mOc" x="880.25" y="189.3"/><use href="#mOc" x="881.9" y="188.75"/><use href="#mOc" x="883.54" y="189.36"/><use href="#mOc" x="885.18" y="189.43"/><use href="#mOc" x="886.8" y="189.41"/><use href="#mOc" x="888.41" y="188.93"/><use href="#mOc" x="890.01" y="189.17"/><use href="#mOc" x="891.61" y="189.28"/><use href="#mOc" x="893.19" y="189.52"/><use href="#mOc" x="894.77" y="189.26"/><use href="#mOc" x="896.34" y="189.88"/><use href="#mOc" x="897.9" y="189.24"/><use href="#mOc" x="899.45" y="190.02"/><use href="#mOc" x="900.99" y="189.82"/><use href="#mOc" x="902.52" y="188.44"/><use href="#mOc" x="904.04" y="189.63"/><use href="#mOc" x="905.56" y="189.57"/><use href="#mOc" x="907.07" y="189.51"/><use href="#mOc" x="908.57" y="189.92"/><use href="#mOc" x="910.06" y="188.93"/><use href="#mOc" x="911.55" y="189.71"/><use href="#mOc" x="913.02" y="189.41"/><use href="#mOc" x="914.49" y="188.79"/><use href="#mOc" x="915.95" y="189.5"/><use href="#mOc" x="917.41" y="189.48"/><use href="#mOc" x="918.85" y="189.53"/><use href="#mOc" x="920.29" y="190.03"/><use href="#mOc" x="921.72" y="188.93"/><use href="#mOc" x="923.15" y="188.35"/><use href="#mOc" x="924.56" y="189.6"/><use href="#mOc" x="925.97" y="189.31"/><use href="#mOc" x="927.37" y="189.13"/><use href="#mOc" x="928.77" y="189.24"/><use href="#mOc" x="930.16" y="189.52"/><use href="#mOc" x="931.54" y="188.46"/><use href="#mOc" x="932.92" y="189.84"/><use href="#mOc" x="934.28" y="189.84"/><use href="#mOc" x="935.65" y="189.09"/><use href="#mOc" x="937" y="189.71"/><use href="#mOc" x="938.35" y="189.61"/><use href="#mOc" x="939.69" y="189.46"/><use href="#mOc" x="941.03" y="189.55"/><use href="#mOc" x="942.36" y="189.5"/><use href="#mOc" x="943.68" y="189.4"/><use href="#mOc" x="945" y="189.39"/><use href="#mOc" x="946.31" y="188.99"/><use href="#mOc" x="947.61" y="189.23"/><use href="#mOc" x="948.91" y="188.91"/><use href="#mOc" x="950.2" y="188.95"/><use href="#mOc" x="951.49" y="189.21"/><use href="#mOc" x="952.77" y="188.89"/><use href="#mOc" x="954.04" y="189.33"/><use href="#mOc" x="955.31" y="189.41"/><use href="#mOc" x="956.58" y="189.24"/><use href="#mOc" x="957.83" y="189.34"/><use href="#mOc" x="959.09" y="188.71"/><use href="#mOc" x="960.33" y="189.3"/><use href="#mOc" x="961.57" y="188.34"/><use href="#mOc" x="962.81" y="189.53"/><use href="#mOc" x="964.04" y="189.02"/><use href="#mOc" x="965.26" y="188.64"/><use href="#mOc" x="966.48" y="189.26"/><use href="#mOc" x="967.7" y="189.03"/><use href="#mOc" x="968.9" y="189.72"/><use href="#mOc" x="970.11" y="189.16"/><use href="#mOc" x="971.31" y="189.51"/><use href="#mOc" x="972.5" y="189"/><use href="#mOc" x="973.69" y="189.54"/><use href="#mOc" x="974.87" y="188.87"/><use href="#mOc" x="976.05" y="188.8"/><use href="#mOc" x="977.22" y="188.92"/><use href="#mOc" x="978.39" y="188.59"/><use href="#mOc" x="979.56" y="188.39"/><use href="#mOc" x="980.71" y="188.68"/><use href="#mOc" x="981.87" y="188.73"/><use href="#mOc" x="983.02" y="189.02"/><use href="#mOc" x="984.16" y="188.7"/><use href="#mOc" x="985.3" y="189.48"/><use href="#mOc" x="986.44" y="189.34"/><use href="#mOc" x="987.57" y="188.86"/><use href="#mOc" x="988.69" y="189.59"/><use href="#mOc" x="989.82" y="189.47"/><use href="#mOc" x="990.93" y="188.15"/><use href="#mOc" x="992.04" y="188.51"/><use href="#mOc" x="993.15" y="188.71"/><use href="#mOc" x="994.26" y="188.61"/><use href="#mOc" x="995.36" y="188.37"/><use href="#mOc" x="996.45" y="188.82"/><use href="#mOc" x="997.54" y="189.24"/><use href="#mOc" x="998.63" y="188.15"/><use href="#mOc" x="999.71" y="188.39"/><use href="#mOc" x="1000.79" y="188.45"/><use href="#mOc" x="1001.87" y="188.62"/><use href="#mOc" x="1002.94" y="188.56"/><use href="#mOc" x="1004" y="189.14"/><use href="#mOc" x="1005.06" y="189.56"/><use href="#mOc" x="1006.12" y="188.68"/><use href="#mOc" x="1007.18" y="188.38"/><use href="#mOc" x="1008.23" y="189.12"/><use href="#mOc" x="1009.27" y="189.05"/><use href="#mOc" x="1010.31" y="188.75"/><use href="#mOc" x="1011.35" y="188.85"/><use href="#mOc" x="1012.39" y="188.55"/><use href="#mOc" x="1013.42" y="188.45"/><use href="#mOc" x="1014.44" y="188.46"/><use href="#mOc" x="1015.47" y="188.52"/><use href="#mOc" x="1016.49" y="188.18"/><use href="#mOc" x="1017.5" y="188.91"/><use href="#mOc" x="1018.52" y="187.83"/><use href="#mOc" x="1019.52" y="188.38"/><use href="#mOc" x="1020.53" y="188.79"/><use href="#mOc" x="1021.53" y="188.45"/><use href="#mOc" x="1022.53" y="188.68"/><use href="#mOc" x="1023.52" y="189.13"/><use href="#mOc" x="1024.51" y="189.2"/><use href="#mOc" x="1025.5" y="189.28"/><use href="#mOc" x="1026.48" y="188.59"/><use href="#mOc" x="1027.46" y="189.25"/><use href="#mOc" x="1028.44" y="188.6"/><use href="#mOc" x="1029.41" y="188.8"/><use href="#mOc" x="1030.38" y="188.68"/><use href="#mOc" x="1031.35" y="188.36"/><use href="#mOc" x="1032.31" y="188.44"/><use href="#mOc" x="1033.27" y="189.19"/><use href="#mOc" x="1034.23" y="188.56"/><use href="#mOc" x="1035.18" y="189.13"/><use href="#mOc" x="1036.13" y="188.92"/><use href="#mOc" x="1037.08" y="188.52"/><use href="#mOc" x="1038.03" y="188.86"/><use href="#mOc" x="1038.97" y="188.6"/><use href="#mOc" x="1039.9" y="187.31"/><use href="#mOc" x="1040.84" y="189.32"/><use href="#mOc" x="1041.77" y="189.75"/><use href="#mOc" x="1042.7" y="189.01"/><use href="#mOc" x="1043.62" y="188.35"/><use href="#mOc" x="1044.55" y="188.83"/><use href="#mOc" x="1045.46" y="187.88"/><use href="#mOc" x="1046.38" y="189"/><use href="#mOc" x="1047.29" y="188.12"/><use href="#mOc" x="1048.2" y="188.76"/><use href="#mOc" x="1049.11" y="188.17"/><use href="#mOc" x="1050.02" y="188.35"/><use href="#mOc" x="1050.92" y="187.83"/><use href="#mOc" x="1051.82" y="189.15"/><use href="#mOc" x="1052.71" y="188.27"/><use href="#mOc" x="1053.6" y="188.75"/><use href="#mOc" x="1054.49" y="188.2"/><use href="#mOc" x="1055.38" y="188.33"/><use href="#mOc" x="1056.27" y="188.25"/><use href="#mOc" x="1057.15" y="188.78"/><use href="#mOc" x="1058.03" y="188.66"/><use href="#mOc" x="1058.9" y="188.22"/><use href="#mOc" x="1059.77" y="188.54"/><use href="#mOc" x="1060.65" y="188"/><use href="#mOc" x="1061.51" y="188.52"/><use href="#mOc" x="1062.38" y="188.47"/><use href="#mOc" x="1063.24" y="188.17"/><use href="#mOc" x="1064.1" y="188.11"/><use href="#mOc" x="1064.96" y="188.04"/><use href="#mOc" x="1065.81" y="189.16"/><use href="#mOc" x="1066.66" y="189.52"/><use href="#mOc" x="1067.51" y="188.65"/><use href="#mOc" x="1068.36" y="188.65"/><use href="#mOc" x="1069.2" y="188.76"/><use href="#mOc" x="1070.05" y="187.74"/><use href="#mOc" x="1070.89" y="188.74"/><use href="#mOc" x="1071.72" y="188.63"/><use href="#mOc" x="1072.56" y="188.31"/><use href="#mOc" x="1073.39" y="189.06"/><use href="#mOc" x="1074.22" y="188.82"/><use href="#mOc" x="1075.04" y="188.99"/><use href="#mOc" x="1075.87" y="188.51"/><use href="#mOc" x="1076.69" y="188.29"/><use href="#mOc" x="1077.51" y="188.88"/><use href="#mOc" x="1078.33" y="188.61"/><use href="#mOc" x="1079.14" y="188.57"/><use href="#mOc" x="1079.95" y="188.31"/><use href="#mOc" x="1080.77" y="188.47"/><use href="#mOc" x="1081.57" y="187.84"/><use href="#mOc" x="1082.38" y="188.54"/><use href="#mOc" x="1083.18" y="187.87"/><use href="#mOc" x="1083.98" y="188.8"/><use href="#mOc" x="1084.78" y="188.88"/><use href="#mOc" x="1085.58" y="188.18"/><use href="#mOc" x="1086.37" y="188.93"/><use href="#mOc" x="1087.16" y="188.51"/><use href="#mOc" x="1087.95" y="188.85"/><use href="#mOc" x="1088.74" y="188.52"/><use href="#mOc" x="1089.52" y="188.46"/><use href="#mOc" x="1090.31" y="188.77"/><use href="#mOc" x="1091.09" y="188.97"/><use href="#mOc" x="1091.87" y="187.94"/><use href="#mOc" x="1092.64" y="188.18"/><use href="#mOc" x="1093.42" y="188.46"/><use href="#mOc" x="1094.19" y="188.43"/><use href="#mOc" x="1094.96" y="188.72"/><use href="#mOc" x="1095.73" y="188.59"/><use href="#mOc" x="1096.49" y="188.18"/><use href="#mOc" x="1097.26" y="187.71"/><use href="#mOc" x="1098.02" y="188.79"/><use href="#mOc" x="1098.78" y="188.42"/><use href="#mOc" x="1099.54" y="188.2"/><use href="#mOc" x="1100.29" y="187.87"/><use href="#mOc" x="1101.04" y="188.23"/><use href="#mOc" x="1101.8" y="187.98"/><use href="#mOc" x="1102.55" y="187.82"/><use href="#mOc" x="1103.29" y="188.81"/><use href="#mOc" x="1104.04" y="188.12"/><use href="#mOc" x="1104.78" y="188.31"/><use href="#mOc" x="1105.52" y="188.09"/><use href="#mOc" x="1106.26" y="187.99"/><use href="#mOc" x="1107" y="188.16"/><use href="#mOc" x="1107.74" y="188.43"/><use href="#mOc" x="1108.47" y="188.69"/><use href="#mOc" x="1109.2" y="188.31"/><use href="#mOc" x="1109.93" y="188.75"/><use href="#mOc" x="1110.66" y="188.3"/><use href="#mOc" x="1111.38" y="188.17"/><use href="#mOc" x="1112.11" y="188.34"/><use href="#mOc" x="1112.83" y="189.16"/><use href="#mOc" x="1113.55" y="188.67"/><use href="#mOc" x="1114.27" y="188.94"/><use href="#mOc" x="1114.99" y="188.23"/><use href="#mOc" x="1115.7" y="188.3"/><use href="#mOc" x="1116.42" y="188.36"/><use href="#mOc" x="1117.13" y="188.31"/><use href="#mOc" x="1117.84" y="187.56"/><use href="#mOc" x="1118.54" y="187.89"/><use href="#mOc" x="1119.25" y="188.33"/><use href="#mOc" x="1119.95" y="188.45"/><use href="#mOc" x="1120.66" y="187.9"/><use href="#mOc" x="1121.36" y="187.92"/><use href="#mOc" x="1122.06" y="188.01"/><use href="#mOc" x="1122.75" y="188.52"/><use href="#mOc" x="1123.45" y="189.1"/><use href="#mOc" x="1124.14" y="188.57"/><use href="#mOc" x="1124.83" y="188.06"/><use href="#mOc" x="1125.52" y="188.24"/><use href="#mOc" x="1126.21" y="188.08"/><use href="#mOc" x="1126.9" y="187.85"/><use href="#mOc" x="1127.58" y="187.9"/><use href="#mOc" x="1128.27" y="188.25"/><use href="#mOc" x="1128.95" y="187.95"/><use href="#mOc" x="1129.63" y="188.07"/><use href="#mOc" x="1130.31" y="187.82"/><use href="#mOc" x="1130.99" y="187.76"/><use href="#mOc" x="1131.66" y="188.29"/><use href="#mOc" x="1132.33" y="188.04"/><use href="#mOc" x="1133.01" y="187.79"/><use href="#mOc" x="1133.68" y="188"/><use href="#mOc" x="1134.35" y="188.4"/><use href="#mOc" x="1135.01" y="187.74"/><use href="#mOc" x="1135.68" y="188.15"/><use href="#mOc" x="1136.34" y="188.11"/><use href="#mOc" x="1137.01" y="188.39"/><use href="#mOc" x="1137.67" y="189.06"/><use href="#mOc" x="1138.33" y="188.26"/><use href="#mOc" x="1138.98" y="188.99"/><use href="#mOc" x="1139.64" y="188.48"/><use href="#mOc" x="1140.29" y="188.72"/><use href="#mOc" x="1140.95" y="188.5"/><use href="#mOc" x="1141.6" y="188.37"/><use href="#mOc" x="1142.25" y="188.48"/><use href="#mOc" x="1142.9" y="187.42"/><use href="#mOc" x="1143.55" y="188.01"/><use href="#mOc" x="1144.19" y="188.34"/><use href="#mOc" x="1144.84" y="188.64"/><use href="#mOc" x="1145.48" y="187.6"/><use href="#mOc" x="1146.12" y="187.32"/><use href="#mOc" x="1146.76" y="188.05"/><use href="#mOc" x="1147.4" y="188.31"/><use href="#mOc" x="1148.03" y="188"/><use href="#mOc" x="1148.67" y="187.32"/><use href="#mOc" x="1149.3" y="188.07"/><use href="#mOc" x="1149.94" y="188.54"/><use href="#mOc" x="1150.57" y="188.3"/><use href="#mOc" x="1151.2" y="187.57"/><use href="#mOc" x="1151.83" y="187.82"/><use href="#mOc" x="1152.45" y="187.67"/><use href="#mOc" x="1153.08" y="187.79"/><use href="#mOc" x="1153.7" y="188.28"/><use href="#mOc" x="1154.33" y="188.17"/><use href="#mOc" x="1154.95" y="187.45"/><use href="#mOc" x="1155.57" y="187.39"/><use href="#mOc" x="1156.18" y="187.63"/><use href="#mOc" x="1156.8" y="187.89"/><use href="#mOc" x="1157.42" y="187.64"/><use href="#mOc" x="1158.03" y="188.12"/><use href="#mOc" x="1158.65" y="187.98"/><use href="#mOc" x="1159.26" y="188.05"/><use href="#mOc" x="1159.87" y="187.78"/><use href="#mOc" x="1160.48" y="187.88"/><use href="#mOc" x="1161.09" y="188.28"/><use href="#mOc" x="1161.69" y="188.66"/><use href="#mOc" x="1162.3" y="187.68"/><use href="#mOc" x="1162.9" y="187.08"/><use href="#mOc" x="1163.5" y="188.51"/><use href="#mOc" x="1164.1" y="188.53"/><use href="#mOc" x="1164.7" y="188.42"/><use href="#mOc" x="1165.9" y="187.92"/><use href="#mOc" x="1167.09" y="187.8"/><use href="#mOc" x="1168.28" y="188"/><use href="#mOc" x="1169.46" y="188.03"/><use href="#mOc" x="1170.64" y="187.61"/><use href="#mOc" x="1171.81" y="188.32"/><use href="#mOc" x="1172.97" y="188.36"/><use href="#mOc" x="1174.13" y="188.05"/><use href="#mOc" x="1175.29" y="187.14"/><use href="#mOc" x="1176.44" y="187.69"/><use href="#mOc" x="1177.59" y="187.62"/><use href="#mOc" x="1178.73" y="187.81"/><use href="#mOc" x="1179.87" y="187.39"/><use href="#mOc" x="1181" y="188.12"/><use href="#mOc" x="1182.13" y="187.66"/><use href="#mOc" x="1183.26" y="187.35"/><use href="#mOc" x="1184.38" y="187.87"/><use href="#mOc" x="1185.49" y="188.19"/><use href="#mOc" x="1186.6" y="187.86"/><use href="#mOc" x="1187.71" y="187.89"/><use href="#mOc" x="1188.81" y="188.41"/><use href="#mOc" x="1189.91" y="187.94"/><use href="#mOc" x="1191" y="188.46"/><use href="#mOc" x="1192.09" y="188.11"/><use href="#mOc" x="1193.18" y="187.57"/><use href="#mOc" x="1194.26" y="188.01"/><use href="#mOc" x="1195.33" y="187.52"/><use href="#mOc" x="1196.41" y="188.62"/><use href="#mOc" x="1197.47" y="187.31"/><use href="#mOc" x="1198.54" y="188.22"/><use href="#mOc" x="1199.6" y="187.65"/><use href="#mOc" x="1200.66" y="188.71"/><use href="#mOc" x="1201.71" y="189.64"/><use href="#mOc" x="1202.76" y="187.24"/><use href="#mOc" x="1203.8" y="187.49"/><use href="#mOc" x="1204.84" y="188.12"/><use href="#mOc" x="1205.88" y="187.28"/><use href="#mOc" x="1206.91" y="188.17"/><use href="#mOc" x="1207.94" y="188.35"/><use href="#mOc" x="1208.97" y="187.51"/><use href="#mOc" x="1209.99" y="187.92"/><use href="#mOc" x="1211.01" y="187.72"/><use href="#mOc" x="1212.02" y="187.96"/><use href="#mOc" x="1213.03" y="188.81"/><use href="#mOc" x="1214.04" y="188.17"/><use href="#mOc" x="1215.04" y="188.27"/><use href="#mOc" x="1216.04" y="187.72"/><use href="#mOc" x="1217.04" y="187.29"/><use href="#mOc" x="1218.03" y="187.3"/><use href="#mOc" x="1219.02" y="187.46"/><use href="#mOc" x="1220" y="187.9"/><use href="#mOc" x="1220.99" y="187.34"/><use href="#mOc" x="1221.96" y="188.05"/><use href="#mOc" x="1222.94" y="187.71"/><use href="#mOc" x="1223.91" y="186.48"/><use href="#mOc" x="1224.88" y="187.25"/><use href="#mOc" x="1225.85" y="187.89"/><use href="#mOc" x="1226.81" y="187.44"/><use href="#mOc" x="1227.77" y="187.74"/><use href="#mOc" x="1228.72" y="187.42"/><use href="#mOc" x="1229.67" y="187.12"/><use href="#mOc" x="1230.62" y="188.03"/><use href="#mOc" x="1231.57" y="187.66"/><use href="#mOc" x="1232.51" y="187.22"/><use href="#mOc" x="1233.45" y="187.37"/><use href="#mOc" x="1234.39" y="187.3"/><use href="#mOc" x="1235.32" y="187.82"/><use href="#mOc" x="1236.25" y="187.83"/><use href="#mOc" x="1237.18" y="188.23"/><use href="#mOc" x="1238.1" y="187.97"/><use href="#mOc" x="1239.02" y="188.1"/><use href="#mOc" x="1239.94" y="187.88"/><use href="#mOc" x="1240.85" y="187.44"/><use href="#mOc" x="1241.77" y="187.65"/><use href="#mOc" x="1242.68" y="187.73"/><use href="#mOc" x="1243.58" y="187.3"/><use href="#mOc" x="1244.48" y="187.65"/><use href="#mOc" x="1245.38" y="187.26"/><use href="#mOc" x="1246.28" y="188.17"/><use href="#mOc" x="1247.18" y="187"/><use href="#mOc" x="1248.07" y="187.62"/><use href="#mOc" x="1248.96" y="188.23"/><use href="#mOc" x="1249.84" y="187.63"/><use href="#mOc" x="1250.73" y="188.12"/><use href="#mOc" x="1251.61" y="187.95"/><use href="#mOc" x="1252.48" y="187.21"/><use href="#mOc" x="1253.36" y="187.96"/><use href="#mOc" x="1254.23" y="187.59"/><use href="#mOc" x="1255.1" y="188.01"/><use href="#mOc" x="1255.97" y="187.94"/><use href="#mOc" x="1256.83" y="187.62"/><use href="#mOc" x="1257.69" y="188"/><use href="#mOc" x="1258.55" y="187.51"/><use href="#mOc" x="1259.41" y="187.59"/><use href="#mOc" x="1260.26" y="187.75"/><use href="#mOc" x="1261.11" y="187.68"/><use href="#mOc" x="1261.96" y="187.92"/><use href="#mOc" x="1262.8" y="187.6"/><use href="#mOc" x="1263.65" y="188.26"/><use href="#mOc" x="1264.49" y="188.42"/><use href="#mOc" x="1265.33" y="187.4"/><use href="#mOc" x="1266.16" y="187.52"/><use href="#mOc" x="1267" y="187.88"/><use href="#mOc" x="1267.83" y="186.45"/><use href="#mOc" x="1268.65" y="187.12"/><use href="#mOc" x="1269.48" y="187.08"/><use href="#mOc" x="1270.3" y="186.72"/><use href="#mOc" x="1271.12" y="187.42"/><use href="#mOc" x="1271.94" y="187.79"/><use href="#mOc" x="1272.76" y="188.06"/><use href="#mOc" x="1273.57" y="186.78"/><use href="#mOc" x="1274.38" y="186.92"/><use href="#mOc" x="1275.19" y="187.53"/><use href="#mOc" x="1276" y="187.29"/><use href="#mOc" x="1276.8" y="187.57"/><use href="#mOc" x="1277.61" y="187.08"/><use href="#mOc" x="1278.41" y="187.16"/><use href="#mOc" x="1279.2" y="188.15"/><use href="#mOc" x="1280" y="187.51"/><use href="#mOc" x="1280.79" y="187.52"/><use href="#mOc" x="1281.58" y="187.39"/><use href="#mOc" x="1282.37" y="187.26"/><use href="#mOc" x="1283.16" y="187.49"/><use href="#mOc" x="1283.94" y="187.35"/><use href="#mOc" x="1284.72" y="188"/><use href="#mOc" x="1285.5" y="187.06"/><use href="#mOc" x="1286.28" y="187.92"/><use href="#mOc" x="1287.06" y="187.12"/><use href="#mOc" x="1287.83" y="187.49"/><use href="#mOc" x="1288.6" y="187.06"/><use href="#mOc" x="1289.37" y="186.93"/><use href="#mOc" x="1290.14" y="187.35"/><use href="#mOc" x="1290.9" y="187.4"/><use href="#mOc" x="1291.67" y="187.58"/><use href="#mOc" x="1292.43" y="187.36"/><use href="#mOc" x="1293.18" y="186.56"/><use href="#mOc" x="1293.94" y="188.13"/><use href="#mOc" x="1294.7" y="187.22"/><use href="#mOc" x="1295.45" y="187.27"/><use href="#mOc" x="1296.2" y="187.49"/><use href="#mOc" x="1296.95" y="187.17"/><use href="#mOc" x="1297.69" y="188.04"/><use href="#mOc" x="1298.44" y="187.04"/><use href="#mOc" x="1299.18" y="187.34"/><use href="#mOc" x="1299.92" y="188.01"/><use href="#mOc" x="1300.66" y="187.37"/><use href="#mOc" x="1301.4" y="187.77"/><use href="#mOc" x="1302.13" y="187.45"/><use href="#mOc" x="1302.86" y="187.54"/><use href="#mOc" x="1303.6" y="186.8"/><use href="#mOc" x="1304.32" y="188.25"/><use href="#mOc" x="1305.05" y="187.05"/><use href="#mOc" x="1305.78" y="187.5"/><use href="#mOc" x="1306.5" y="187.96"/><use href="#mOc" x="1307.22" y="188.19"/><use href="#mOc" x="1307.94" y="187.18"/><use href="#mOc" x="1308.66" y="187.43"/><use href="#mOc" x="1309.38" y="187.46"/><use href="#mOc" x="1310.09" y="187.12"/><use href="#mOc" x="1310.8" y="187.44"/><use href="#mOc" x="1311.51" y="187.03"/><use href="#mOc" x="1312.22" y="187.45"/><use href="#mOc" x="1312.93" y="187.34"/><use href="#mOc" x="1313.63" y="188.04"/><use href="#mOc" x="1314.34" y="187.42"/><use href="#mOc" x="1315.04" y="186.97"/><use href="#mOc" x="1315.74" y="187.18"/><use href="#mOc" x="1316.44" y="187.18"/><use href="#mOc" x="1317.13" y="186.71"/><use href="#mOc" x="1317.83" y="187.68"/><use href="#mOc" x="1318.52" y="186.74"/><use href="#mOc" x="1319.21" y="187.1"/><use href="#mOc" x="1319.9" y="187.23"/><use href="#mOc" x="1320.59" y="187.14"/><use href="#mOc" x="1321.28" y="187.59"/><use href="#mOc" x="1321.96" y="187.01"/><use href="#mOc" x="1322.64" y="186.98"/><use href="#mOc" x="1323.32" y="187.24"/><use href="#mOc" x="1324" y="187.51"/><use href="#mOc" x="1324.68" y="187.42"/><use href="#mOc" x="1325.36" y="187.14"/><use href="#mOc" x="1326.03" y="187.5"/><use href="#mOc" x="1326.7" y="187.13"/><use href="#mOc" x="1327.38" y="186.27"/><use href="#mOc" x="1328.05" y="187.35"/><use href="#mOc" x="1328.71" y="186.7"/><use href="#mOc" x="1329.38" y="187.42"/><use href="#mOc" x="1330.05" y="187.01"/><use href="#mOc" x="1330.71" y="187.85"/><use href="#mOc" x="1331.37" y="187.73"/><use href="#mOc" x="1332.03" y="187.4"/><use href="#mOc" x="1332.69" y="187.03"/><use href="#mOc" x="1333.35" y="186.81"/><use href="#mOc" x="1334" y="186.95"/><use href="#mOc" x="1334.66" y="187.23"/><use href="#mOc" x="1335.31" y="187.71"/><use href="#mOc" x="1335.96" y="187.92"/><use href="#mOc" x="1336.61" y="187.43"/><use href="#mOc" x="1337.26" y="187.75"/><use href="#mOc" x="1337.9" y="187.6"/><use href="#mOc" x="1338.55" y="186.98"/><use href="#mOc" x="1339.19" y="187.47"/><use href="#mOc" x="1339.84" y="187.63"/><use href="#mOc" x="1340.48" y="186.9"/><use href="#mOc" x="1341.11" y="187.93"/><use href="#mOc" x="1341.75" y="186.47"/><use href="#mOc" x="1342.39" y="186.78"/><use href="#mOc" x="1343.02" y="187.24"/><use href="#mOc" x="1343.66" y="187.15"/><use href="#mOc" x="1344.29" y="187.37"/><use href="#mOc" x="1344.92" y="187.65"/><use href="#mOc" x="1345.55" y="187.16"/><use href="#mOc" x="1346.18" y="187.36"/><use href="#mOc" x="1346.8" y="187.7"/><use href="#mOc" x="1347.43" y="186.93"/><use href="#mOc" x="1348.05" y="186.83"/><use href="#mOc" x="1348.67" y="186.67"/><use href="#mOc" x="1349.29" y="186.68"/><use href="#mOc" x="1349.91" y="187.46"/><use href="#mOc" x="1350.53" y="187.32"/><use href="#mOc" x="1351.15" y="186.9"/><use href="#mOc" x="1351.76" y="187.12"/><use href="#mOc" x="1352.38" y="187.28"/><use href="#mOc" x="1352.99" y="186.65"/><use href="#mOc" x="1353.6" y="186.94"/><use href="#mOc" x="1354.21" y="186.73"/><use href="#mOc" x="1354.82" y="187.59"/><use href="#mOc" x="1355.43" y="186.7"/><use href="#mOc" x="1356.03" y="186.64"/><use href="#mOc" x="1356.64" y="187.92"/><use href="#mOc" x="1357.24" y="186.44"/><use href="#mOc" x="1357.84" y="186.75"/><use href="#mOc" x="1358.44" y="187.26"/><use href="#mOc" x="1359.34" y="187.17"/><use href="#mOc" x="1360.24" y="187.48"/><use href="#mOc" x="1361.13" y="187.16"/><use href="#mOc" x="1362.02" y="187.58"/><use href="#mOc" x="1362.91" y="186.36"/><use href="#mOc" x="1363.79" y="187.23"/><use href="#mOc" x="1364.68" y="187.4"/><use href="#mOc" x="1365.55" y="186.57"/><use href="#mOc" x="1366.43" y="186.97"/><use href="#mOc" x="1367.3" y="187.65"/><use href="#mOc" x="1368.17" y="187.23"/><use href="#mOc" x="1369.04" y="186.59"/><use href="#mOc" x="1369.91" y="187.67"/><use href="#mOc" x="1370.77" y="187.01"/><use href="#mOc" x="1371.63" y="187.18"/><use href="#mOc" x="1372.49" y="186.72"/><use href="#mOc" x="1373.34" y="187.13"/><use href="#mOc" x="1374.2" y="186.74"/><use href="#mOc" x="1375.05" y="187.37"/><use href="#mOc" x="1375.89" y="187.4"/><use href="#mOc" x="1376.74" y="186.3"/><use href="#mOc" x="1377.58" y="187.82"/><use href="#mOc" x="1378.42" y="187.11"/><use href="#mOc" x="1379.26" y="186.75"/>
<linearGradient id="gNav" gradientUnits="userSpaceOnUse" x1="740" y1="0" x2="1040" y2="0"><stop offset="0" stop-color="#2f2c88" stop-opacity="0"/><stop offset="1" stop-color="#2f2c88" stop-opacity="1"/></linearGradient>
<path d="M740 183.0L1372 178.89999999999998V195.5L740 197.60000000000002Z" fill="url(#gNav)"/>
<use href="#mOc" x="1379.7" y="186.8"/>
<polyline points="83.5,286.74 107.8,286.57 131.2,286.42 154.2,286.73 173.7,286.57 193.3,286.5 212.5,286.3 230.5,286.42 247.3,286.55 262.5,286.35 277,285.94 291.2,286.19 304.8,286.14 317.8,286.3 329.88,286.14 341.45,286.53 352.57,285.76 363.26,286.22 373.56,285.36 383.49,285.35 393.08,286.57 402.36,285.43 411.34,285.5" fill="none" stroke="#1f1953" stroke-width="1.1" stroke-dasharray="5 7"/>
<use href="#mTu" x="83.5" y="286.74"/><use href="#mTu" x="107.8" y="286.57"/><use href="#mTu" x="131.2" y="286.42"/><use href="#mTu" x="154.2" y="286.73"/><use href="#mTu" x="173.7" y="286.57"/><use href="#mTu" x="193.3" y="286.5"/><use href="#mTu" x="212.5" y="286.3"/><use href="#mTu" x="230.5" y="286.42"/><use href="#mTu" x="247.3" y="286.55"/><use href="#mTu" x="262.5" y="286.35"/><use href="#mTu" x="277" y="285.94"/><use href="#mTu" x="291.2" y="286.19"/><use href="#mTu" x="304.8" y="286.14"/><use href="#mTu" x="317.8" y="286.3"/><use href="#mTu" x="329.88" y="286.14"/><use href="#mTu" x="341.45" y="286.53"/><use href="#mTu" x="352.57" y="285.76"/><use href="#mTu" x="363.26" y="286.22"/><use href="#mTu" x="373.56" y="285.36"/><use href="#mTu" x="383.49" y="285.35"/><use href="#mTu" x="393.08" y="286.57"/><use href="#mTu" x="402.36" y="285.43"/><use href="#mTu" x="411.34" y="285.5"/><use href="#mTu" x="420.04" y="287.12"/><use href="#mTu" x="428.47" y="286.39"/><use href="#mTu" x="436.66" y="286.58"/><use href="#mTu" x="444.62" y="286.14"/><use href="#mTu" x="452.36" y="285.97"/><use href="#mTu" x="459.89" y="286.19"/><use href="#mTu" x="467.22" y="285.91"/><use href="#mTu" x="474.36" y="286.78"/><use href="#mTu" x="481.33" y="285.91"/><use href="#mTu" x="488.13" y="285.76"/><use href="#mTu" x="494.77" y="285.73"/><use href="#mTu" x="501.25" y="285.83"/><use href="#mTu" x="507.58" y="285.23"/><use href="#mTu" x="513.78" y="286.32"/><use href="#mTu" x="519.84" y="285.71"/><use href="#mTu" x="525.78" y="285.86"/><use href="#mTu" x="531.59" y="285.97"/><use href="#mTu" x="537.28" y="285.05"/><use href="#mTu" x="542.86" y="285.03"/><use href="#mTu" x="548.33" y="285.22"/><use href="#mTu" x="553.69" y="285.84"/><use href="#mTu" x="558.96" y="285.82"/><use href="#mTu" x="564.12" y="285.48"/><use href="#mTu" x="569.2" y="285.73"/><use href="#mTu" x="574.18" y="286.04"/><use href="#mTu" x="579.08" y="286.18"/><use href="#mTu" x="583.89" y="285.79"/><use href="#mTu" x="588.62" y="286.2"/><use href="#mTu" x="593.27" y="286.01"/><use href="#mTu" x="597.85" y="285.97"/><use href="#mTu" x="602.35" y="284.85"/><use href="#mTu" x="606.78" y="286.29"/><use href="#mTu" x="611.14" y="285.9"/><use href="#mTu" x="615.44" y="285.5"/><use href="#mTu" x="619.67" y="286.23"/><use href="#mTu" x="623.84" y="286.47"/><use href="#mTu" x="627.94" y="285.87"/><use href="#mTu" x="631.99" y="286.19"/><use href="#mTu" x="635.98" y="286.16"/><use href="#mTu" x="639.91" y="285.81"/><use href="#mTu" x="643.79" y="286.53"/><use href="#mTu" x="647.61" y="285.69"/><use href="#mTu" x="651.39" y="287.01"/><use href="#mTu" x="655.11" y="285.48"/><use href="#mTu" x="658.79" y="286.31"/><use href="#mTu" x="662.42" y="284.72"/><use href="#mTu" x="666" y="286.63"/><use href="#mTu" x="669.53" y="285.77"/><use href="#mTu" x="673.02" y="285.59"/><use href="#mTu" x="676.47" y="286.02"/><use href="#mTu" x="679.88" y="285.92"/><use href="#mTu" x="683.24" y="285.62"/><use href="#mTu" x="686.57" y="286.06"/><use href="#mTu" x="689.86" y="285.75"/><use href="#mTu" x="693.11" y="285.06"/><use href="#mTu" x="696.32" y="286.49"/><use href="#mTu" x="699.49" y="284.89"/><use href="#mTu" x="702.63" y="285.86"/><use href="#mTu" x="705.74" y="285.58"/><use href="#mTu" x="708.81" y="285.62"/><use href="#mTu" x="711.84" y="286.54"/><use href="#mTu" x="714.85" y="285.46"/><use href="#mTu" x="717.82" y="285.56"/><use href="#mTu" x="720.76" y="285.57"/><use href="#mTu" x="723.67" y="285.03"/><use href="#mTu" x="726.55" y="285.96"/><use href="#mTu" x="729.41" y="284.84"/><use href="#mTu" x="732.23" y="284.33"/><use href="#mTu" x="735.02" y="285.58"/><use href="#mTu" x="737.79" y="286.58"/><use href="#mTu" x="740.53" y="285.3"/><use href="#mTu" x="743.24" y="286.01"/><use href="#mTu" x="745.93" y="286.3"/><use href="#mTu" x="748.59" y="286.04"/><use href="#mTu" x="751.23" y="285.79"/><use href="#mTu" x="753.84" y="285.13"/><use href="#mTu" x="756.43" y="285.22"/><use href="#mTu" x="758.99" y="285.82"/><use href="#mTu" x="761.54" y="286.16"/><use href="#mTu" x="764.05" y="285.47"/><use href="#mTu" x="766.55" y="286.61"/><use href="#mTu" x="769.02" y="285.71"/><use href="#mTu" x="771.48" y="285.29"/><use href="#mTu" x="773.91" y="285.64"/><use href="#mTu" x="776.32" y="285.42"/><use href="#mTu" x="778.71" y="284.34"/><use href="#mTu" x="781.07" y="284.84"/><use href="#mTu" x="783.42" y="285.71"/><use href="#mTu" x="785.75" y="285.38"/><use href="#mTu" x="788.06" y="285.57"/><use href="#mTu" x="790.36" y="286.36"/><use href="#mTu" x="792.63" y="286.33"/><use href="#mTu" x="794.88" y="285.51"/><use href="#mTu" x="797.12" y="285.04"/><use href="#mTu" x="799.34" y="286.37"/><use href="#mTu" x="801.54" y="285.25"/><use href="#mTu" x="803.72" y="286.05"/><use href="#mTu" x="805.89" y="284.88"/><use href="#mTu" x="808.04" y="285.15"/><use href="#mTu" x="810.18" y="285.59"/><use href="#mTu" x="812.29" y="285.24"/><use href="#mTu" x="814.4" y="284.9"/><use href="#mTu" x="816.48" y="284.57"/><use href="#mTu" x="818.55" y="285.83"/><use href="#mTu" x="820.61" y="285.61"/><use href="#mTu" x="822.65" y="285.22"/><use href="#mTu" x="824.68" y="285.24"/><use href="#mTu" x="826.69" y="286"/><use href="#mTu" x="828.69" y="285.37"/><use href="#mTu" x="830.67" y="285.41"/><use href="#mTu" x="832.64" y="285.3"/><use href="#mTu" x="834.59" y="285.2"/><use href="#mTu" x="836.54" y="285.04"/><use href="#mTu" x="838.46" y="286.07"/><use href="#mTu" x="840.38" y="285.72"/><use href="#mTu" x="842.28" y="285.64"/><use href="#mTu" x="844.17" y="285.48"/><use href="#mTu" x="846.05" y="286.08"/><use href="#mTu" x="847.91" y="286.08"/><use href="#mTu" x="849.76" y="284.58"/><use href="#mTu" x="851.6" y="285.67"/><use href="#mTu" x="853.43" y="284.45"/><use href="#mTu" x="855.25" y="286.11"/><use href="#mTu" x="857.05" y="285.12"/><use href="#mTu" x="858.85" y="285.81"/><use href="#mTu" x="860.63" y="285.52"/><use href="#mTu" x="862.4" y="285.03"/><use href="#mTu" x="864.16" y="285.44"/><use href="#mTu" x="865.9" y="285.49"/><use href="#mTu" x="867.64" y="284.66"/><use href="#mTu" x="869.37" y="284.54"/><use href="#mTu" x="871.08" y="285.61"/><use href="#mTu" x="872.79" y="285.54"/><use href="#mTu" x="874.48" y="285.33"/><use href="#mTu" x="876.17" y="285.34"/><use href="#mTu" x="877.84" y="284.48"/><use href="#mTu" x="879.51" y="285.12"/><use href="#mTu" x="881.16" y="286.07"/><use href="#mTu" x="882.81" y="285.21"/><use href="#mTu" x="884.44" y="285.04"/><use href="#mTu" x="886.07" y="285.33"/><use href="#mTu" x="887.69" y="285.5"/><use href="#mTu" x="889.29" y="285.6"/><use href="#mTu" x="890.89" y="283.87"/><use href="#mTu" x="892.48" y="285.53"/><use href="#mTu" x="894.06" y="285.37"/><use href="#mTu" x="895.63" y="285.29"/><use href="#mTu" x="897.19" y="285.25"/><use href="#mTu" x="898.75" y="285.57"/><use href="#mTu" x="900.29" y="285.05"/><use href="#mTu" x="901.83" y="285.41"/><use href="#mTu" x="903.36" y="286.25"/><use href="#mTu" x="904.88" y="286.47"/><use href="#mTu" x="906.39" y="285.59"/><use href="#mTu" x="907.9" y="285.43"/><use href="#mTu" x="909.39" y="285.79"/><use href="#mTu" x="910.88" y="286.47"/><use href="#mTu" x="912.36" y="285.6"/><use href="#mTu" x="913.83" y="285.23"/><use href="#mTu" x="915.3" y="286.43"/><use href="#mTu" x="916.75" y="285.42"/><use href="#mTu" x="918.2" y="285.19"/><use href="#mTu" x="919.64" y="284.31"/><use href="#mTu" x="921.08" y="285.24"/><use href="#mTu" x="922.51" y="284.39"/><use href="#mTu" x="923.93" y="285.2"/><use href="#mTu" x="925.34" y="286.11"/><use href="#mTu" x="926.74" y="285.46"/><use href="#mTu" x="928.14" y="285.37"/><use href="#mTu" x="929.53" y="285.82"/><use href="#mTu" x="930.92" y="285.38"/><use href="#mTu" x="932.3" y="285.15"/><use href="#mTu" x="933.67" y="285.48"/><use href="#mTu" x="935.03" y="285.53"/><use href="#mTu" x="936.39" y="285.53"/><use href="#mTu" x="937.74" y="285.21"/><use href="#mTu" x="939.09" y="285.54"/><use href="#mTu" x="940.43" y="286.33"/><use href="#mTu" x="941.76" y="284.51"/><use href="#mTu" x="943.08" y="285.57"/><use href="#mTu" x="944.4" y="284.89"/><use href="#mTu" x="945.72" y="285.45"/><use href="#mTu" x="947.02" y="286.08"/><use href="#mTu" x="948.33" y="285.44"/><use href="#mTu" x="949.62" y="285.8"/><use href="#mTu" x="950.91" y="285.45"/><use href="#mTu" x="952.19" y="284.92"/><use href="#mTu" x="953.47" y="285.89"/><use href="#mTu" x="954.74" y="285.5"/><use href="#mTu" x="956.01" y="285.54"/><use href="#mTu" x="957.27" y="285.1"/><use href="#mTu" x="958.52" y="285.76"/><use href="#mTu" x="959.77" y="284.98"/><use href="#mTu" x="961.01" y="285.54"/><use href="#mTu" x="962.25" y="285.4"/><use href="#mTu" x="963.49" y="285.36"/><use href="#mTu" x="964.71" y="285.08"/><use href="#mTu" x="965.93" y="284.99"/><use href="#mTu" x="967.15" y="285.12"/><use href="#mTu" x="968.36" y="285.59"/><use href="#mTu" x="969.57" y="285.32"/><use href="#mTu" x="970.77" y="285.46"/><use href="#mTu" x="973.15" y="285.32"/><use href="#mTu" x="975.52" y="285.75"/><use href="#mTu" x="977.87" y="284.53"/><use href="#mTu" x="980.19" y="285.5"/><use href="#mTu" x="982.5" y="285.24"/><use href="#mTu" x="984.79" y="285.33"/><use href="#mTu" x="987.06" y="285.76"/><use href="#mTu" x="989.31" y="284.76"/><use href="#mTu" x="991.54" y="284.53"/><use href="#mTu" x="993.76" y="284.75"/><use href="#mTu" x="995.96" y="285.59"/><use href="#mTu" x="998.14" y="285.33"/><use href="#mTu" x="1000.31" y="285.07"/><use href="#mTu" x="1002.45" y="284.45"/><use href="#mTu" x="1004.59" y="285.98"/><use href="#mTu" x="1006.7" y="284.66"/><use href="#mTu" x="1008.8" y="283.99"/><use href="#mTu" x="1010.89" y="284.51"/><use href="#mTu" x="1012.95" y="284.93"/><use href="#mTu" x="1015.01" y="285.5"/><use href="#mTu" x="1017.05" y="284.53"/><use href="#mTu" x="1019.07" y="285.26"/><use href="#mTu" x="1021.08" y="284.94"/><use href="#mTu" x="1023.07" y="285.77"/><use href="#mTu" x="1025.06" y="283.97"/><use href="#mTu" x="1027.02" y="285.4"/><use href="#mTu" x="1028.98" y="284.93"/><use href="#mTu" x="1030.92" y="285.05"/><use href="#mTu" x="1032.84" y="284.75"/><use href="#mTu" x="1034.76" y="283.81"/><use href="#mTu" x="1036.66" y="284.89"/><use href="#mTu" x="1038.54" y="285.51"/><use href="#mTu" x="1040.42" y="284.67"/><use href="#mTu" x="1042.28" y="284.66"/><use href="#mTu" x="1044.13" y="284.88"/><use href="#mTu" x="1045.97" y="285.73"/><use href="#mTu" x="1047.79" y="285.17"/><use href="#mTu" x="1049.61" y="284.34"/><use href="#mTu" x="1051.41" y="285.96"/><use href="#mTu" x="1053.2" y="284.72"/><use href="#mTu" x="1054.98" y="285.77"/><use href="#mTu" x="1056.75" y="285.31"/><use href="#mTu" x="1058.51" y="284.81"/><use href="#mTu" x="1060.25" y="285.56"/><use href="#mTu" x="1061.99" y="285.25"/><use href="#mTu" x="1063.71" y="284.71"/><use href="#mTu" x="1065.43" y="284.5"/><use href="#mTu" x="1067.13" y="284.14"/><use href="#mTu" x="1068.83" y="284.69"/><use href="#mTu" x="1070.51" y="285.13"/><use href="#mTu" x="1072.18" y="285"/><use href="#mTu" x="1073.84" y="285.16"/><use href="#mTu" x="1075.5" y="284.06"/><use href="#mTu" x="1077.14" y="285.69"/><use href="#mTu" x="1078.78" y="284.66"/><use href="#mTu" x="1080.4" y="285.05"/><use href="#mTu" x="1082.02" y="284.23"/><use href="#mTu" x="1083.62" y="283.79"/><use href="#mTu" x="1085.22" y="285.31"/><use href="#mTu" x="1086.81" y="284.68"/><use href="#mTu" x="1088.39" y="285.9"/><use href="#mTu" x="1089.96" y="285.58"/><use href="#mTu" x="1091.52" y="284.9"/><use href="#mTu" x="1093.07" y="285.09"/><use href="#mTu" x="1094.61" y="284.9"/><use href="#mTu" x="1096.15" y="284.33"/><use href="#mTu" x="1097.68" y="285.54"/><use href="#mTu" x="1099.19" y="284.49"/><use href="#mTu" x="1100.71" y="284.98"/><use href="#mTu" x="1102.21" y="284.69"/><use href="#mTu" x="1103.7" y="284.91"/><use href="#mTu" x="1105.19" y="284.97"/><use href="#mTu" x="1106.67" y="284.96"/><use href="#mTu" x="1108.14" y="285.55"/><use href="#mTu" x="1109.6" y="284.57"/><use href="#mTu" x="1111.06" y="284.67"/><use href="#mTu" x="1112.51" y="284.88"/><use href="#mTu" x="1113.95" y="285.1"/><use href="#mTu" x="1115.38" y="285.21"/><use href="#mTu" x="1116.81" y="285.38"/><use href="#mTu" x="1118.23" y="285.54"/><use href="#mTu" x="1119.64" y="284.89"/><use href="#mTu" x="1121.04" y="284.58"/><use href="#mTu" x="1122.44" y="284.48"/><use href="#mTu" x="1123.83" y="284.42"/><use href="#mTu" x="1125.21" y="284.92"/><use href="#mTu" x="1126.59" y="285.32"/><use href="#mTu" x="1127.96" y="284.9"/><use href="#mTu" x="1129.32" y="285.53"/><use href="#mTu" x="1130.68" y="284.9"/><use href="#mTu" x="1132.03" y="285.45"/><use href="#mTu" x="1133.38" y="284.49"/><use href="#mTu" x="1134.71" y="285.33"/><use href="#mTu" x="1136.04" y="285.04"/><use href="#mTu" x="1137.37" y="284.74"/><use href="#mTu" x="1138.69" y="285.79"/><use href="#mTu" x="1140" y="284.42"/><use href="#mTu" x="1141.31" y="285.07"/><use href="#mTu" x="1142.61" y="285.64"/><use href="#mTu" x="1143.9" y="285.6"/><use href="#mTu" x="1145.19" y="284.47"/><use href="#mTu" x="1146.47" y="284.14"/><use href="#mTu" x="1147.75" y="285.39"/><use href="#mTu" x="1149.02" y="285.5"/><use href="#mTu" x="1150.28" y="285.4"/><use href="#mTu" x="1151.54" y="284.62"/><use href="#mTu" x="1152.8" y="284.71"/><use href="#mTu" x="1154.04" y="284.46"/><use href="#mTu" x="1155.29" y="285.26"/><use href="#mTu" x="1156.52" y="284.44"/><use href="#mTu" x="1157.76" y="284.98"/><use href="#mTu" x="1158.98" y="285.29"/><use href="#mTu" x="1160.2" y="285.32"/><use href="#mTu" x="1161.42" y="284.56"/><use href="#mTu" x="1162.63" y="285.25"/><use href="#mTu" x="1163.83" y="284.8"/><use href="#mTu" x="1165.63" y="284.8"/><use href="#mTu" x="1167.42" y="284.76"/><use href="#mTu" x="1169.19" y="284.22"/><use href="#mTu" x="1170.96" y="285.71"/><use href="#mTu" x="1172.71" y="285.41"/><use href="#mTu" x="1174.45" y="284.75"/><use href="#mTu" x="1176.18" y="285.54"/><use href="#mTu" x="1177.9" y="285.11"/><use href="#mTu" x="1179.61" y="284.39"/><use href="#mTu" x="1181.31" y="285.29"/><use href="#mTu" x="1183" y="285.51"/><use href="#mTu" x="1184.68" y="284.3"/><use href="#mTu" x="1186.35" y="284.73"/><use href="#mTu" x="1188.01" y="285.75"/><use href="#mTu" x="1189.66" y="285.25"/><use href="#mTu" x="1191.3" y="284.99"/><use href="#mTu" x="1192.93" y="284.54"/><use href="#mTu" x="1194.55" y="284.47"/><use href="#mTu" x="1196.17" y="284.45"/><use href="#mTu" x="1197.77" y="285"/><use href="#mTu" x="1199.36" y="284.9"/><use href="#mTu" x="1200.95" y="284.99"/><use href="#mTu" x="1202.52" y="284.42"/><use href="#mTu" x="1204.09" y="285.08"/><use href="#mTu" x="1205.65" y="284.92"/><use href="#mTu" x="1207.19" y="284.88"/><use href="#mTu" x="1208.74" y="284.85"/><use href="#mTu" x="1210.27" y="284.39"/><use href="#mTu" x="1211.79" y="283.8"/><use href="#mTu" x="1213.31" y="284.9"/><use href="#mTu" x="1214.81" y="285.22"/><use href="#mTu" x="1216.31" y="284.87"/><use href="#mTu" x="1217.81" y="284.3"/><use href="#mTu" x="1219.29" y="285.11"/><use href="#mTu" x="1220.77" y="284.37"/><use href="#mTu" x="1222.23" y="285.03"/><use href="#mTu" x="1223.69" y="285.5"/><use href="#mTu" x="1225.15" y="284.68"/><use href="#mTu" x="1226.59" y="285.07"/><use href="#mTu" x="1228.03" y="285"/><use href="#mTu" x="1229.46" y="284.7"/><use href="#mTu" x="1230.88" y="284.88"/><use href="#mTu" x="1232.3" y="284.75"/><use href="#mTu" x="1233.71" y="284.62"/><use href="#mTu" x="1235.11" y="284.99"/><use href="#mTu" x="1236.51" y="284.07"/><use href="#mTu" x="1237.89" y="284.34"/><use href="#mTu" x="1239.27" y="284.36"/><use href="#mTu" x="1240.65" y="285.47"/><use href="#mTu" x="1242.02" y="284.88"/><use href="#mTu" x="1243.38" y="285.53"/><use href="#mTu" x="1244.73" y="284.47"/><use href="#mTu" x="1246.08" y="284.45"/><use href="#mTu" x="1247.42" y="284.76"/><use href="#mTu" x="1248.76" y="284.36"/><use href="#mTu" x="1250.09" y="284.55"/><use href="#mTu" x="1251.41" y="285.35"/><use href="#mTu" x="1252.72" y="285.06"/><use href="#mTu" x="1254.03" y="285.36"/><use href="#mTu" x="1255.34" y="284.36"/><use href="#mTu" x="1256.64" y="285.47"/><use href="#mTu" x="1257.93" y="284.41"/><use href="#mTu" x="1259.21" y="284.49"/><use href="#mTu" x="1260.49" y="284.5"/><use href="#mTu" x="1261.77" y="285.29"/><use href="#mTu" x="1263.04" y="285.59"/><use href="#mTu" x="1264.3" y="285.76"/><use href="#mTu" x="1265.56" y="284.7"/><use href="#mTu" x="1266.81" y="284.46"/><use href="#mTu" x="1268.05" y="284.79"/><use href="#mTu" x="1269.29" y="284.98"/><use href="#mTu" x="1270.53" y="285.82"/><use href="#mTu" x="1271.76" y="284.7"/><use href="#mTu" x="1272.98" y="284.56"/><use href="#mTu" x="1274.2" y="284.45"/><use href="#mTu" x="1275.42" y="284.15"/><use href="#mTu" x="1276.62" y="285.06"/><use href="#mTu" x="1277.83" y="284.26"/><use href="#mTu" x="1279.42" y="285.24"/><use href="#mTu" x="1281.01" y="285.59"/><use href="#mTu" x="1282.59" y="284.41"/><use href="#mTu" x="1284.16" y="285.48"/><use href="#mTu" x="1285.72" y="283.98"/><use href="#mTu" x="1287.27" y="284.35"/><use href="#mTu" x="1288.81" y="284.62"/><use href="#mTu" x="1290.35" y="284.78"/><use href="#mTu" x="1291.87" y="284.65"/><use href="#mTu" x="1293.39" y="284.71"/><use href="#mTu" x="1294.9" y="284.83"/><use href="#mTu" x="1296.41" y="284.33"/><use href="#mTu" x="1297.9" y="285.62"/><use href="#mTu" x="1299.39" y="284.9"/><use href="#mTu" x="1300.86" y="285.02"/><use href="#mTu" x="1302.33" y="284.74"/><use href="#mTu" x="1303.8" y="284.49"/><use href="#mTu" x="1305.25" y="285.2"/><use href="#mTu" x="1306.7" y="285.3"/><use href="#mTu" x="1308.14" y="285.89"/><use href="#mTu" x="1309.57" y="285.4"/><use href="#mTu" x="1311" y="285.98"/><use href="#mTu" x="1312.42" y="284.73"/><use href="#mTu" x="1313.83" y="284.85"/><use href="#mTu" x="1315.23" y="285.07"/><use href="#mTu" x="1316.63" y="284.76"/><use href="#mTu" x="1318.02" y="283.96"/><use href="#mTu" x="1319.4" y="284.54"/><use href="#mTu" x="1320.78" y="284.51"/><use href="#mTu" x="1322.15" y="284.9"/><use href="#mTu" x="1323.51" y="285.22"/><use href="#mTu" x="1324.87" y="285.05"/><use href="#mTu" x="1326.22" y="284.53"/><use href="#mTu" x="1327.56" y="285.16"/><use href="#mTu" x="1328.9" y="284.64"/><use href="#mTu" x="1330.23" y="286.11"/><use href="#mTu" x="1331.55" y="284.66"/><use href="#mTu" x="1332.87" y="284.47"/><use href="#mTu" x="1334.18" y="284.42"/><use href="#mTu" x="1335.49" y="285.32"/><use href="#mTu" x="1336.79" y="284.1"/><use href="#mTu" x="1338.08" y="284.72"/><use href="#mTu" x="1339.37" y="284.35"/><use href="#mTu" x="1340.65" y="284.46"/><use href="#mTu" x="1341.93" y="284.84"/><use href="#mTu" x="1343.2" y="284.6"/><use href="#mTu" x="1344.46" y="285.09"/><use href="#mTu" x="1345.72" y="285.27"/><use href="#mTu" x="1346.97" y="284"/><use href="#mTu" x="1348.22" y="286.14"/><use href="#mTu" x="1349.46" y="285.52"/><use href="#mTu" x="1350.7" y="284.51"/><use href="#mTu" x="1351.93" y="284.38"/><use href="#mTu" x="1353.16" y="285"/><use href="#mTu" x="1354.38" y="284.39"/><use href="#mTu" x="1355.59" y="285.12"/><use href="#mTu" x="1356.8" y="284.79"/><use href="#mTu" x="1358.01" y="284.33"/><use href="#mTu" x="1359.51" y="283.79"/><use href="#mTu" x="1361" y="284.72"/><use href="#mTu" x="1362.48" y="285.18"/><use href="#mTu" x="1363.96" y="284.96"/><use href="#mTu" x="1365.42" y="284.25"/><use href="#mTu" x="1366.88" y="284.44"/><use href="#mTu" x="1368.33" y="284.94"/><use href="#mTu" x="1369.78" y="285.18"/><use href="#mTu" x="1371.22" y="284.57"/><use href="#mTu" x="1372.65" y="284.71"/><use href="#mTu" x="1374.07" y="284.23"/><use href="#mTu" x="1375.48" y="284.02"/><use href="#mTu" x="1376.89" y="284.51"/><use href="#mTu" x="1378.29" y="284.78"/><use href="#mTu" x="1379.69" y="285.14"/>
<polyline points="83.5,607 107.8,605 131.2,611.7 154.2,606.7 173.7,611.7 193.3,608.3 212.5,605.8 230.5,608.3 247.3,610.8 262.5,610.8 277,610.8 291.2,608.3 304.8,611.7 317.8,609.2 329.88,608.94 341.45,605.26 352.57,612.37 363.26,607.83 373.56,608.45 383.49,608.26 393.08,605.47 402.36,612.12 411.34,608.25" fill="none" stroke="#000" stroke-width="1.1" stroke-dasharray="5 7"/>
<use href="#mSp" x="83.5" y="607"/><use href="#mSp" x="107.8" y="605"/><use href="#mSp" x="131.2" y="611.7"/><use href="#mSp" x="154.2" y="606.7"/><use href="#mSp" x="173.7" y="611.7"/><use href="#mSp" x="193.3" y="608.3"/><use href="#mSp" x="212.5" y="605.8"/><use href="#mSp" x="230.5" y="608.3"/><use href="#mSp" x="247.3" y="610.8"/><use href="#mSp" x="262.5" y="610.8"/><use href="#mSp" x="277" y="610.8"/><use href="#mSp" x="291.2" y="608.3"/><use href="#mSp" x="304.8" y="611.7"/><use href="#mSp" x="317.8" y="609.2"/><use href="#mSp" x="329.88" y="608.94"/><use href="#mSp" x="341.45" y="605.26"/><use href="#mSp" x="352.57" y="612.37"/><use href="#mSp" x="363.26" y="607.83"/><use href="#mSp" x="373.56" y="608.45"/><use href="#mSp" x="383.49" y="608.26"/><use href="#mSp" x="393.08" y="605.47"/><use href="#mSp" x="402.36" y="612.12"/><use href="#mSp" x="411.34" y="608.25"/><use href="#mSp" x="420.04" y="609.29"/><use href="#mSp" x="428.47" y="610.36"/><use href="#mSp" x="436.66" y="611.2"/><use href="#mSp" x="444.62" y="605.74"/><use href="#mSp" x="452.36" y="608.72"/><use href="#mSp" x="459.89" y="611.14"/><use href="#mSp" x="467.22" y="607.5"/><use href="#mSp" x="474.36" y="608.58"/><use href="#mSp" x="481.33" y="606.84"/><use href="#mSp" x="488.13" y="609.39"/><use href="#mSp" x="494.77" y="611.71"/><use href="#mSp" x="501.25" y="612.04"/><use href="#mSp" x="507.58" y="609.36"/><use href="#mSp" x="513.78" y="613.35"/><use href="#mSp" x="519.84" y="612.9"/><use href="#mSp" x="525.78" y="608.74"/><use href="#mSp" x="531.59" y="609.85"/><use href="#mSp" x="537.28" y="608.58"/><use href="#mSp" x="542.86" y="610.77"/><use href="#mSp" x="548.33" y="608.28"/><use href="#mSp" x="553.69" y="610.58"/><use href="#mSp" x="558.96" y="609.52"/><use href="#mSp" x="564.12" y="609.63"/><use href="#mSp" x="569.2" y="610.7"/><use href="#mSp" x="574.18" y="610.19"/><use href="#mSp" x="579.08" y="609.43"/><use href="#mSp" x="583.89" y="608.9"/><use href="#mSp" x="588.62" y="609.64"/><use href="#mSp" x="593.27" y="608.54"/><use href="#mSp" x="597.85" y="608.73"/><use href="#mSp" x="602.35" y="605.48"/><use href="#mSp" x="606.78" y="609.62"/><use href="#mSp" x="611.14" y="610.5"/><use href="#mSp" x="615.44" y="610.01"/><use href="#mSp" x="619.67" y="610.01"/><use href="#mSp" x="623.84" y="605.85"/><use href="#mSp" x="627.94" y="606.5"/><use href="#mSp" x="631.99" y="609.52"/><use href="#mSp" x="635.98" y="604.79"/><use href="#mSp" x="639.91" y="604.06"/><use href="#mSp" x="643.79" y="604.5"/><use href="#mSp" x="647.61" y="608.16"/><use href="#mSp" x="651.39" y="607.44"/><use href="#mSp" x="655.11" y="611.14"/><use href="#mSp" x="658.79" y="609.5"/><use href="#mSp" x="662.42" y="607.25"/><use href="#mSp" x="666" y="611.87"/><use href="#mSp" x="669.53" y="612.49"/><use href="#mSp" x="673.02" y="608.77"/><use href="#mSp" x="676.47" y="608.56"/><use href="#mSp" x="679.88" y="611.08"/><use href="#mSp" x="683.24" y="608.48"/><use href="#mSp" x="686.57" y="610.86"/><use href="#mSp" x="689.86" y="612.13"/><use href="#mSp" x="693.11" y="609.83"/><use href="#mSp" x="696.32" y="608.69"/><use href="#mSp" x="699.49" y="611.64"/><use href="#mSp" x="702.63" y="613.2"/><use href="#mSp" x="705.74" y="613.56"/><use href="#mSp" x="708.81" y="607.81"/><use href="#mSp" x="711.84" y="609.02"/><use href="#mSp" x="714.85" y="610.84"/><use href="#mSp" x="717.82" y="610.38"/><use href="#mSp" x="720.76" y="611.77"/><use href="#mSp" x="723.67" y="610.82"/><use href="#mSp" x="726.55" y="609.56"/><use href="#mSp" x="729.41" y="609.52"/><use href="#mSp" x="732.23" y="608.92"/><use href="#mSp" x="735.02" y="608.05"/><use href="#mSp" x="737.79" y="609.4"/><use href="#mSp" x="740.53" y="609.46"/><use href="#mSp" x="743.24" y="608.59"/><use href="#mSp" x="745.93" y="610.12"/><use href="#mSp" x="748.59" y="605.54"/><use href="#mSp" x="751.23" y="609.66"/><use href="#mSp" x="753.84" y="611.27"/><use href="#mSp" x="756.43" y="611.42"/><use href="#mSp" x="758.99" y="608.13"/><use href="#mSp" x="761.54" y="607.46"/><use href="#mSp" x="764.05" y="607.6"/><use href="#mSp" x="769.02" y="612.57"/><use href="#mSp" x="773.91" y="611.04"/><use href="#mSp" x="778.71" y="606.36"/><use href="#mSp" x="783.42" y="607.35"/><use href="#mSp" x="788.06" y="608.46"/><use href="#mSp" x="792.63" y="610"/><use href="#mSp" x="797.12" y="608.25"/><use href="#mSp" x="801.54" y="608.73"/><use href="#mSp" x="805.89" y="608.27"/><use href="#mSp" x="810.18" y="607.82"/><use href="#mSp" x="814.4" y="604.45"/><use href="#mSp" x="818.55" y="606.58"/><use href="#mSp" x="822.65" y="606.14"/><use href="#mSp" x="826.69" y="606.66"/><use href="#mSp" x="830.67" y="608.68"/><use href="#mSp" x="834.59" y="609.9"/><use href="#mSp" x="838.46" y="609.34"/><use href="#mSp" x="842.28" y="610.91"/><use href="#mSp" x="846.05" y="608.38"/><use href="#mSp" x="849.76" y="608.72"/><use href="#mSp" x="853.43" y="608.22"/><use href="#mSp" x="857.05" y="609.17"/><use href="#mSp" x="860.63" y="608.78"/><use href="#mSp" x="864.16" y="607.74"/><use href="#mSp" x="867.64" y="608.22"/><use href="#mSp" x="871.08" y="608.32"/><use href="#mSp" x="874.48" y="610.43"/><use href="#mSp" x="877.84" y="609.01"/><use href="#mSp" x="881.16" y="610.48"/><use href="#mSp" x="884.44" y="613.36"/><use href="#mSp" x="887.69" y="610.03"/><use href="#mSp" x="890.89" y="608.58"/><use href="#mSp" x="894.06" y="611.19"/><use href="#mSp" x="897.19" y="613.43"/><use href="#mSp" x="900.29" y="609.92"/><use href="#mSp" x="903.36" y="612.81"/><use href="#mSp" x="906.39" y="612.34"/><use href="#mSp" x="909.39" y="613.38"/><use href="#mSp" x="912.36" y="611.9"/><use href="#mSp" x="915.3" y="610.4"/><use href="#mSp" x="918.2" y="611.32"/><use href="#mSp" x="921.08" y="608.15"/><use href="#mSp" x="923.93" y="610.09"/><use href="#mSp" x="926.74" y="609.62"/><use href="#mSp" x="929.53" y="608.68"/><use href="#mSp" x="932.3" y="609.97"/><use href="#mSp" x="935.03" y="614.38"/><use href="#mSp" x="937.74" y="610.79"/><use href="#mSp" x="940.43" y="608.27"/><use href="#mSp" x="943.08" y="609.37"/><use href="#mSp" x="945.72" y="610.96"/><use href="#mSp" x="948.33" y="608.86"/><use href="#mSp" x="950.91" y="610.62"/><use href="#mSp" x="953.47" y="603.79"/><use href="#mSp" x="956.01" y="606.4"/><use href="#mSp" x="958.52" y="610.25"/><use href="#mSp" x="962.25" y="608.72"/><use href="#mSp" x="965.93" y="614.73"/><use href="#mSp" x="969.57" y="607.36"/><use href="#mSp" x="973.15" y="607.99"/><use href="#mSp" x="976.7" y="610.52"/><use href="#mSp" x="980.19" y="606.31"/><use href="#mSp" x="983.65" y="608.38"/><use href="#mSp" x="987.06" y="609.43"/><use href="#mSp" x="990.43" y="606.74"/><use href="#mSp" x="993.76" y="608.11"/><use href="#mSp" x="997.05" y="607.59"/><use href="#mSp" x="1000.31" y="608.53"/><use href="#mSp" x="1003.52" y="608.85"/><use href="#mSp" x="1006.7" y="609.81"/><use href="#mSp" x="1009.85" y="608.21"/><use href="#mSp" x="1012.95" y="607.93"/><use href="#mSp" x="1016.03" y="612.88"/><use href="#mSp" x="1019.07" y="607.68"/><use href="#mSp" x="1022.08" y="606.65"/><use href="#mSp" x="1025.06" y="607.9"/><use href="#mSp" x="1028" y="607.29"/><use href="#mSp" x="1030.92" y="607.36"/><use href="#mSp" x="1033.8" y="610.27"/><use href="#mSp" x="1036.66" y="607.54"/><use href="#mSp" x="1039.48" y="610.33"/><use href="#mSp" x="1042.28" y="606.55"/><use href="#mSp" x="1045.05" y="607.12"/><use href="#mSp" x="1047.79" y="608.39"/><use href="#mSp" x="1050.51" y="609.45"/><use href="#mSp" x="1053.2" y="606.14"/><use href="#mSp" x="1055.87" y="610.71"/><use href="#mSp" x="1058.51" y="609.51"/><use href="#mSp" x="1061.12" y="609.2"/><use href="#mSp" x="1063.71" y="608.93"/><use href="#mSp" x="1066.28" y="611.79"/><use href="#mSp" x="1068.83" y="609.2"/><use href="#mSp" x="1071.35" y="609.63"/><use href="#mSp" x="1074.67" y="608.96"/><use href="#mSp" x="1077.96" y="609.8"/><use href="#mSp" x="1081.21" y="613.71"/><use href="#mSp" x="1084.42" y="610.17"/><use href="#mSp" x="1087.6" y="613.48"/><use href="#mSp" x="1090.74" y="608.76"/><use href="#mSp" x="1093.84" y="610.8"/><use href="#mSp" x="1096.91" y="609.87"/><use href="#mSp" x="1099.95" y="609.46"/><use href="#mSp" x="1102.96" y="610.23"/><use href="#mSp" x="1105.93" y="609.5"/><use href="#mSp" x="1108.87" y="607.62"/><use href="#mSp" x="1111.78" y="607.83"/><use href="#mSp" x="1114.66" y="609.09"/><use href="#mSp" x="1117.52" y="605.61"/><use href="#mSp" x="1120.34" y="608.87"/><use href="#mSp" x="1123.14" y="607.29"/><use href="#mSp" x="1125.9" y="608.73"/><use href="#mSp" x="1128.64" y="605.02"/><use href="#mSp" x="1131.36" y="605.56"/><use href="#mSp" x="1134.05" y="610.17"/><use href="#mSp" x="1136.71" y="610.09"/><use href="#mSp" x="1139.34" y="609.25"/><use href="#mSp" x="1141.96" y="605.05"/><use href="#mSp" x="1144.55" y="608.36"/><use href="#mSp" x="1147.11" y="606.24"/><use href="#mSp" x="1149.65" y="607.31"/><use href="#mSp" x="1152.17" y="609.13"/><use href="#mSp" x="1155.29" y="609.07"/><use href="#mSp" x="1158.37" y="607.28"/><use href="#mSp" x="1161.42" y="608.29"/><use href="#mSp" x="1164.43" y="607.03"/><use href="#mSp" x="1167.42" y="613.2"/><use href="#mSp" x="1170.37" y="608.06"/><use href="#mSp" x="1173.29" y="606.61"/><use href="#mSp" x="1176.18" y="604.73"/><use href="#mSp" x="1179.05" y="605.81"/><use href="#mSp" x="1181.88" y="608.59"/><use href="#mSp" x="1184.68" y="609.13"/><use href="#mSp" x="1187.46" y="608.91"/><use href="#mSp" x="1190.21" y="609.79"/><use href="#mSp" x="1192.93" y="607.2"/><use href="#mSp" x="1195.63" y="608.05"/><use href="#mSp" x="1198.3" y="607.69"/><use href="#mSp" x="1200.95" y="609.82"/><use href="#mSp" x="1203.57" y="605.9"/><use href="#mSp" x="1206.16" y="609.61"/><use href="#mSp" x="1208.74" y="608.62"/><use href="#mSp" x="1211.28" y="605.62"/><use href="#mSp" x="1213.81" y="609.69"/><use href="#mSp" x="1216.31" y="610.4"/><use href="#mSp" x="1219.29" y="609.06"/><use href="#mSp" x="1222.23" y="611.03"/><use href="#mSp" x="1225.15" y="608.56"/><use href="#mSp" x="1228.03" y="605.85"/><use href="#mSp" x="1230.88" y="605.89"/><use href="#mSp" x="1233.71" y="608.7"/><use href="#mSp" x="1236.51" y="608.9"/><use href="#mSp" x="1239.27" y="604.41"/><use href="#mSp" x="1242.02" y="607.91"/><use href="#mSp" x="1244.73" y="604.65"/><use href="#mSp" x="1247.42" y="604.5"/><use href="#mSp" x="1250.09" y="605.31"/><use href="#mSp" x="1252.72" y="605"/><use href="#mSp" x="1255.34" y="607.96"/><use href="#mSp" x="1257.93" y="606.07"/><use href="#mSp" x="1260.49" y="611.34"/><use href="#mSp" x="1263.04" y="610.55"/><use href="#mSp" x="1265.56" y="610.15"/><use href="#mSp" x="1268.47" y="609.86"/><use href="#mSp" x="1271.35" y="610.29"/><use href="#mSp" x="1274.2" y="610.36"/><use href="#mSp" x="1277.03" y="612.2"/><use href="#mSp" x="1279.82" y="607.56"/><use href="#mSp" x="1282.59" y="611.62"/><use href="#mSp" x="1285.33" y="611.93"/><use href="#mSp" x="1288.04" y="607.74"/><use href="#mSp" x="1290.73" y="610.45"/><use href="#mSp" x="1293.39" y="610.39"/><use href="#mSp" x="1296.03" y="608.68"/><use href="#mSp" x="1298.64" y="609.6"/><use href="#mSp" x="1301.23" y="613.37"/><use href="#mSp" x="1303.8" y="608.24"/><use href="#mSp" x="1306.34" y="613.59"/><use href="#mSp" x="1308.86" y="614.07"/><use href="#mSp" x="1311.71" y="612.13"/><use href="#mSp" x="1314.53" y="608.57"/><use href="#mSp" x="1317.32" y="609.68"/><use href="#mSp" x="1320.09" y="609.29"/><use href="#mSp" x="1322.83" y="608.78"/><use href="#mSp" x="1325.54" y="607.57"/><use href="#mSp" x="1328.23" y="610.09"/><use href="#mSp" x="1330.89" y="609.95"/><use href="#mSp" x="1333.53" y="606.52"/><use href="#mSp" x="1336.14" y="607.16"/><use href="#mSp" x="1338.73" y="606.34"/><use href="#mSp" x="1341.29" y="606.91"/><use href="#mSp" x="1343.83" y="608.39"/><use href="#mSp" x="1346.35" y="610.17"/><use href="#mSp" x="1349.15" y="610.72"/><use href="#mSp" x="1351.93" y="608.27"/><use href="#mSp" x="1354.68" y="607.75"/><use href="#mSp" x="1357.41" y="606.85"/><use href="#mSp" x="1360.1" y="607.92"/><use href="#mSp" x="1362.78" y="607.61"/><use href="#mSp" x="1365.42" y="606.22"/><use href="#mSp" x="1368.04" y="611.55"/><use href="#mSp" x="1370.64" y="609.4"/><use href="#mSp" x="1373.22" y="606.57"/><use href="#mSp" x="1375.77" y="609.81"/><use href="#mSp" x="1378.29" y="611.85"/>
<polyline points="83.5,598.3 107.8,604.2 131.2,610 154.2,613 173.7,603 193.3,597 212.5,592.8 230.5,603 247.3,588 262.5,594.7 277,607 291.2,595.8 304.8,600.8 317.8,608.7 329.88,589.98 341.45,593.94 352.57,608.67 363.26,598.37 373.56,602.23 383.49,598.2 393.08,614.42 402.36,598.13 411.34,604.8" fill="none" stroke="#5b3f94" stroke-width="1.1" stroke-dasharray="5 7"/>
<use href="#mOs" x="83.5" y="598.3"/><use href="#mOs" x="107.8" y="604.2"/><use href="#mOs" x="131.2" y="610"/><use href="#mOs" x="154.2" y="613"/><use href="#mOs" x="173.7" y="603"/><use href="#mOs" x="193.3" y="597"/><use href="#mOs" x="212.5" y="592.8"/><use href="#mOs" x="230.5" y="603"/><use href="#mOs" x="247.3" y="588"/><use href="#mOs" x="262.5" y="594.7"/><use href="#mOs" x="277" y="607"/><use href="#mOs" x="291.2" y="595.8"/><use href="#mOs" x="304.8" y="600.8"/><use href="#mOs" x="317.8" y="608.7"/><use href="#mOs" x="329.88" y="589.98"/><use href="#mOs" x="341.45" y="593.94"/><use href="#mOs" x="352.57" y="608.67"/><use href="#mOs" x="363.26" y="598.37"/><use href="#mOs" x="373.56" y="602.23"/><use href="#mOs" x="383.49" y="598.2"/><use href="#mOs" x="393.08" y="614.42"/><use href="#mOs" x="402.36" y="598.13"/><use href="#mOs" x="411.34" y="604.8"/><use href="#mOs" x="420.04" y="614.77"/><use href="#mOs" x="428.47" y="589.33"/><use href="#mOs" x="436.66" y="609.55"/><use href="#mOs" x="444.62" y="600.44"/><use href="#mOs" x="452.36" y="617.27"/><use href="#mOs" x="459.89" y="607.59"/><use href="#mOs" x="467.22" y="619.95"/><use href="#mOs" x="474.36" y="608.09"/><use href="#mOs" x="481.33" y="601.26"/><use href="#mOs" x="488.13" y="587.66"/><use href="#mOs" x="494.77" y="598.96"/><use href="#mOs" x="501.25" y="609.68"/><use href="#mOs" x="507.58" y="608.46"/><use href="#mOs" x="513.78" y="617.58"/><use href="#mOs" x="519.84" y="611.72"/><use href="#mOs" x="525.78" y="606.71"/><use href="#mOs" x="531.59" y="610.99"/><use href="#mOs" x="537.28" y="606.68"/><use href="#mOs" x="542.86" y="588.74"/><use href="#mOs" x="548.33" y="623.15"/><use href="#mOs" x="553.69" y="617.02"/><use href="#mOs" x="558.96" y="593.58"/><use href="#mOs" x="564.12" y="601.98"/><use href="#mOs" x="569.2" y="593.05"/><use href="#mOs" x="574.18" y="608.07"/><use href="#mOs" x="579.08" y="602.48"/><use href="#mOs" x="583.89" y="593.86"/><use href="#mOs" x="588.62" y="599.94"/><use href="#mOs" x="593.27" y="619.97"/><use href="#mOs" x="597.85" y="601.77"/><use href="#mOs" x="602.35" y="595.78"/><use href="#mOs" x="606.78" y="605.87"/><use href="#mOs" x="611.14" y="614.03"/><use href="#mOs" x="615.44" y="621.55"/><use href="#mOs" x="619.67" y="603"/><use href="#mOs" x="623.84" y="603.36"/><use href="#mOs" x="627.94" y="598.67"/><use href="#mOs" x="631.99" y="593.59"/><use href="#mOs" x="635.98" y="607.31"/><use href="#mOs" x="639.91" y="617.57"/><use href="#mOs" x="643.79" y="602.2"/><use href="#mOs" x="647.61" y="605.37"/><use href="#mOs" x="651.39" y="611.29"/><use href="#mOs" x="655.11" y="615.37"/><use href="#mOs" x="658.79" y="617.05"/><use href="#mOs" x="662.42" y="621.7"/><use href="#mOs" x="666" y="599.74"/><use href="#mOs" x="669.53" y="601.27"/><use href="#mOs" x="673.02" y="599.09"/><use href="#mOs" x="676.47" y="603.17"/><use href="#mOs" x="679.88" y="604.6"/><use href="#mOs" x="683.24" y="609.02"/><use href="#mOs" x="686.57" y="610.84"/><use href="#mOs" x="689.86" y="612.48"/><use href="#mOs" x="693.11" y="608.87"/><use href="#mOs" x="696.32" y="610.69"/><use href="#mOs" x="699.49" y="616.46"/><use href="#mOs" x="702.63" y="605.13"/><use href="#mOs" x="705.74" y="628.73"/><use href="#mOs" x="708.81" y="626.68"/><use href="#mOs" x="711.84" y="607.97"/><use href="#mOs" x="714.85" y="605.21"/><use href="#mOs" x="717.82" y="606.4"/><use href="#mOs" x="720.76" y="600.29"/><use href="#mOs" x="723.67" y="618.1"/><use href="#mOs" x="726.55" y="605.39"/><use href="#mOs" x="729.41" y="611.29"/><use href="#mOs" x="732.23" y="603.87"/><use href="#mOs" x="735.02" y="605.71"/><use href="#mOs" x="737.79" y="639.28"/><use href="#mOs" x="740.53" y="611.97"/><use href="#mOs" x="743.24" y="620.54"/><use href="#mOs" x="745.93" y="604.49"/><use href="#mOs" x="748.59" y="617.01"/><use href="#mOs" x="751.23" y="600.79"/><use href="#mOs" x="753.84" y="609.26"/><use href="#mOs" x="756.43" y="615.16"/><use href="#mOs" x="758.99" y="605.93"/><use href="#mOs" x="761.54" y="608.11"/><use href="#mOs" x="764.05" y="602.93"/><use href="#mOs" x="766.55" y="598.24"/><use href="#mOs" x="769.02" y="602.86"/><use href="#mOs" x="771.48" y="599.24"/><use href="#mOs" x="773.91" y="603.75"/><use href="#mOs" x="776.32" y="614.48"/><use href="#mOs" x="778.71" y="620.77"/><use href="#mOs" x="781.07" y="599.63"/><use href="#mOs" x="783.42" y="613.75"/><use href="#mOs" x="785.75" y="599.51"/><use href="#mOs" x="788.06" y="612.77"/><use href="#mOs" x="790.36" y="617.78"/><use href="#mOs" x="792.63" y="605.86"/><use href="#mOs" x="794.88" y="606.9"/><use href="#mOs" x="797.12" y="605.64"/><use href="#mOs" x="799.34" y="610.27"/><use href="#mOs" x="801.54" y="627.58"/><use href="#mOs" x="803.72" y="609.57"/><use href="#mOs" x="805.89" y="609.37"/><use href="#mOs" x="808.04" y="613.64"/><use href="#mOs" x="810.18" y="610.98"/><use href="#mOs" x="812.29" y="610.39"/><use href="#mOs" x="814.4" y="610.83"/><use href="#mOs" x="816.48" y="598.92"/><use href="#mOs" x="818.55" y="613.86"/><use href="#mOs" x="820.61" y="604.05"/><use href="#mOs" x="822.65" y="598.95"/><use href="#mOs" x="824.68" y="616.46"/><use href="#mOs" x="826.69" y="622.51"/><use href="#mOs" x="828.69" y="615.1"/><use href="#mOs" x="830.67" y="625.36"/><use href="#mOs" x="832.64" y="607.96"/><use href="#mOs" x="834.59" y="607.72"/><use href="#mOs" x="836.54" y="609.76"/><use href="#mOs" x="838.46" y="615.4"/><use href="#mOs" x="840.38" y="621.45"/><use href="#mOs" x="842.28" y="611.57"/><use href="#mOs" x="844.17" y="595.15"/><use href="#mOs" x="846.05" y="605.16"/><use href="#mOs" x="847.91" y="611.83"/><use href="#mOs" x="849.76" y="605.97"/><use href="#mOs" x="851.6" y="617.44"/><use href="#mOs" x="853.43" y="607.57"/><use href="#mOs" x="855.25" y="616.02"/><use href="#mOs" x="857.05" y="604.56"/><use href="#mOs" x="858.85" y="612.9"/><use href="#mOs" x="860.63" y="612.42"/><use href="#mOs" x="862.4" y="613.98"/><use href="#mOs" x="864.16" y="601.7"/><use href="#mOs" x="865.9" y="601.48"/><use href="#mOs" x="867.64" y="599.04"/><use href="#mOs" x="869.37" y="590.58"/><use href="#mOs" x="871.08" y="627.4"/><use href="#mOs" x="872.79" y="601.6"/><use href="#mOs" x="874.48" y="601.86"/><use href="#mOs" x="876.17" y="610.57"/><use href="#mOs" x="877.84" y="601.15"/><use href="#mOs" x="879.51" y="613.78"/><use href="#mOs" x="881.16" y="604.1"/><use href="#mOs" x="882.81" y="605.87"/><use href="#mOs" x="884.44" y="602.09"/><use href="#mOs" x="886.07" y="607.85"/><use href="#mOs" x="887.69" y="597.25"/><use href="#mOs" x="889.29" y="602.93"/><use href="#mOs" x="890.89" y="609.69"/><use href="#mOs" x="892.48" y="608.04"/><use href="#mOs" x="894.06" y="606"/><use href="#mOs" x="895.63" y="605.35"/><use href="#mOs" x="897.19" y="613.1"/><use href="#mOs" x="898.75" y="616.09"/><use href="#mOs" x="900.29" y="609.86"/><use href="#mOs" x="901.83" y="622.62"/><use href="#mOs" x="903.36" y="605.47"/><use href="#mOs" x="904.88" y="608.42"/><use href="#mOs" x="906.39" y="621.6"/><use href="#mOs" x="907.9" y="604.75"/><use href="#mOs" x="909.39" y="607.45"/><use href="#mOs" x="910.88" y="611.92"/><use href="#mOs" x="912.36" y="602.12"/><use href="#mOs" x="913.83" y="613.69"/><use href="#mOs" x="915.3" y="599.39"/><use href="#mOs" x="916.75" y="596.28"/><use href="#mOs" x="918.2" y="606.38"/><use href="#mOs" x="919.64" y="606.76"/><use href="#mOs" x="921.08" y="609.71"/><use href="#mOs" x="922.51" y="605.05"/><use href="#mOs" x="923.93" y="605.51"/><use href="#mOs" x="925.34" y="603.18"/><use href="#mOs" x="926.74" y="612.44"/><use href="#mOs" x="928.14" y="604.45"/><use href="#mOs" x="929.53" y="596.31"/><use href="#mOs" x="930.92" y="615.07"/><use href="#mOs" x="932.3" y="607.65"/><use href="#mOs" x="933.67" y="609.99"/><use href="#mOs" x="935.03" y="609.54"/><use href="#mOs" x="936.39" y="602.16"/><use href="#mOs" x="937.74" y="592.12"/><use href="#mOs" x="939.09" y="603.14"/><use href="#mOs" x="940.43" y="632.94"/><use href="#mOs" x="941.76" y="597.8"/><use href="#mOs" x="943.08" y="605.4"/><use href="#mOs" x="944.4" y="619.39"/><use href="#mOs" x="945.72" y="602.25"/><use href="#mOs" x="947.02" y="606.25"/><use href="#mOs" x="948.33" y="602.35"/><use href="#mOs" x="949.62" y="613.38"/><use href="#mOs" x="950.91" y="611.17"/><use href="#mOs" x="952.19" y="622.11"/><use href="#mOs" x="953.47" y="607.7"/><use href="#mOs" x="954.74" y="621.28"/><use href="#mOs" x="956.01" y="614.25"/><use href="#mOs" x="957.27" y="607.86"/><use href="#mOs" x="958.52" y="609.48"/><use href="#mOs" x="959.77" y="607.66"/><use href="#mOs" x="961.01" y="612.85"/><use href="#mOs" x="962.25" y="607.79"/><use href="#mOs" x="963.49" y="630.44"/><use href="#mOs" x="964.71" y="602.76"/><use href="#mOs" x="965.93" y="631.54"/><use href="#mOs" x="967.15" y="608.11"/><use href="#mOs" x="968.36" y="619.82"/><use href="#mOs" x="969.57" y="596.04"/><use href="#mOs" x="970.77" y="617.79"/><use href="#mOs" x="971.96" y="587.86"/><use href="#mOs" x="973.15" y="610.68"/><use href="#mOs" x="974.34" y="598.24"/><use href="#mOs" x="975.52" y="600.88"/><use href="#mOs" x="976.7" y="614.87"/><use href="#mOs" x="977.87" y="606.48"/><use href="#mOs" x="979.03" y="611.72"/><use href="#mOs" x="980.19" y="610.83"/><use href="#mOs" x="981.35" y="618.26"/><use href="#mOs" x="982.5" y="605.91"/><use href="#mOs" x="983.65" y="608.02"/><use href="#mOs" x="984.79" y="626.63"/><use href="#mOs" x="985.93" y="598.95"/><use href="#mOs" x="987.06" y="598"/><use href="#mOs" x="988.19" y="597.29"/><use href="#mOs" x="989.31" y="604.18"/><use href="#mOs" x="990.43" y="623.04"/><use href="#mOs" x="991.54" y="612.03"/><use href="#mOs" x="992.65" y="625.06"/><use href="#mOs" x="993.76" y="607.18"/><use href="#mOs" x="994.86" y="612.47"/><use href="#mOs" x="995.96" y="604.08"/><use href="#mOs" x="997.05" y="618.02"/><use href="#mOs" x="998.14" y="601.16"/><use href="#mOs" x="999.23" y="595.03"/><use href="#mOs" x="1000.31" y="630.65"/><use href="#mOs" x="1001.38" y="616.41"/><use href="#mOs" x="1002.45" y="605.34"/><use href="#mOs" x="1003.52" y="615.46"/><use href="#mOs" x="1004.59" y="603.8"/><use href="#mOs" x="1005.65" y="608.56"/><use href="#mOs" x="1006.7" y="605.44"/><use href="#mOs" x="1007.75" y="601.87"/><use href="#mOs" x="1008.8" y="613.85"/><use href="#mOs" x="1009.85" y="611.35"/><use href="#mOs" x="1010.89" y="615.52"/><use href="#mOs" x="1011.92" y="607.06"/><use href="#mOs" x="1012.95" y="617"/><use href="#mOs" x="1013.98" y="598.74"/><use href="#mOs" x="1015.01" y="597.06"/><use href="#mOs" x="1016.03" y="616.36"/><use href="#mOs" x="1017.05" y="613.35"/><use href="#mOs" x="1018.06" y="599.98"/><use href="#mOs" x="1019.07" y="611.23"/><use href="#mOs" x="1020.08" y="610.94"/><use href="#mOs" x="1021.08" y="609.99"/><use href="#mOs" x="1022.08" y="590.95"/><use href="#mOs" x="1023.07" y="607.17"/><use href="#mOs" x="1024.07" y="611.02"/><use href="#mOs" x="1025.06" y="609.56"/><use href="#mOs" x="1026.04" y="591.09"/><use href="#mOs" x="1027.02" y="607.88"/><use href="#mOs" x="1028" y="611.78"/><use href="#mOs" x="1028.98" y="599.14"/><use href="#mOs" x="1029.95" y="605.93"/><use href="#mOs" x="1030.92" y="610.92"/><use href="#mOs" x="1031.88" y="623.27"/><use href="#mOs" x="1032.84" y="613.65"/><use href="#mOs" x="1033.8" y="601.39"/><use href="#mOs" x="1034.76" y="615.82"/><use href="#mOs" x="1035.71" y="619.07"/><use href="#mOs" x="1036.66" y="614.89"/><use href="#mOs" x="1037.6" y="611.02"/><use href="#mOs" x="1038.54" y="602.86"/><use href="#mOs" x="1039.48" y="609.68"/><use href="#mOs" x="1040.42" y="603.2"/><use href="#mOs" x="1041.35" y="606.28"/><use href="#mOs" x="1042.28" y="608.63"/><use href="#mOs" x="1043.21" y="610.69"/><use href="#mOs" x="1044.13" y="586.09"/><use href="#mOs" x="1045.05" y="621.51"/><use href="#mOs" x="1045.97" y="621.38"/><use href="#mOs" x="1046.88" y="623.1"/><use href="#mOs" x="1047.79" y="606.87"/><use href="#mOs" x="1048.7" y="615.88"/><use href="#mOs" x="1049.61" y="594.1"/><use href="#mOs" x="1050.51" y="624"/><use href="#mOs" x="1051.41" y="591"/><use href="#mOs" x="1052.31" y="616.35"/><use href="#mOs" x="1053.2" y="613.73"/><use href="#mOs" x="1054.09" y="613.08"/><use href="#mOs" x="1054.98" y="595.64"/><use href="#mOs" x="1055.87" y="603.89"/><use href="#mOs" x="1056.75" y="604.7"/><use href="#mOs" x="1057.63" y="599.51"/><use href="#mOs" x="1058.51" y="608.31"/><use href="#mOs" x="1059.38" y="623.91"/><use href="#mOs" x="1060.25" y="595.41"/><use href="#mOs" x="1061.12" y="612.3"/><use href="#mOs" x="1061.99" y="617.62"/><use href="#mOs" x="1062.85" y="615.81"/><use href="#mOs" x="1063.71" y="610.89"/><use href="#mOs" x="1064.57" y="600.34"/><use href="#mOs" x="1065.43" y="602.6"/><use href="#mOs" x="1066.28" y="610.84"/><use href="#mOs" x="1067.13" y="626.83"/><use href="#mOs" x="1067.98" y="599.83"/><use href="#mOs" x="1068.83" y="606.66"/><use href="#mOs" x="1069.67" y="618.61"/><use href="#mOs" x="1070.51" y="614.96"/><use href="#mOs" x="1071.35" y="612.75"/><use href="#mOs" x="1072.18" y="603.88"/><use href="#mOs" x="1073.01" y="608.88"/><use href="#mOs" x="1073.84" y="597.72"/><use href="#mOs" x="1074.67" y="602.8"/><use href="#mOs" x="1075.5" y="604.84"/><use href="#mOs" x="1076.32" y="605.6"/><use href="#mOs" x="1077.14" y="600.74"/><use href="#mOs" x="1077.96" y="614.49"/><use href="#mOs" x="1078.78" y="605.14"/><use href="#mOs" x="1079.59" y="600.62"/><use href="#mOs" x="1080.4" y="595.67"/><use href="#mOs" x="1081.21" y="618.19"/><use href="#mOs" x="1082.02" y="602.87"/><use href="#mOs" x="1082.82" y="609.39"/><use href="#mOs" x="1083.62" y="617.74"/><use href="#mOs" x="1084.42" y="602.93"/><use href="#mOs" x="1085.22" y="606.34"/><use href="#mOs" x="1086.01" y="628.71"/><use href="#mOs" x="1086.81" y="609.89"/><use href="#mOs" x="1087.6" y="609.79"/><use href="#mOs" x="1088.39" y="608.64"/><use href="#mOs" x="1089.17" y="597.72"/><use href="#mOs" x="1089.96" y="626.97"/><use href="#mOs" x="1090.74" y="620.87"/><use href="#mOs" x="1091.52" y="610.96"/><use href="#mOs" x="1092.29" y="613.56"/><use href="#mOs" x="1093.07" y="606.92"/><use href="#mOs" x="1093.84" y="624.9"/><use href="#mOs" x="1094.61" y="589.15"/><use href="#mOs" x="1095.38" y="617.62"/><use href="#mOs" x="1096.15" y="608.62"/><use href="#mOs" x="1096.91" y="600.62"/><use href="#mOs" x="1097.68" y="602.64"/><use href="#mOs" x="1098.44" y="594.26"/><use href="#mOs" x="1099.19" y="619.89"/><use href="#mOs" x="1099.95" y="606.42"/><use href="#mOs" x="1100.71" y="614.96"/><use href="#mOs" x="1101.46" y="618.3"/><use href="#mOs" x="1102.21" y="607.57"/><use href="#mOs" x="1102.96" y="591.7"/><use href="#mOs" x="1103.7" y="605.18"/><use href="#mOs" x="1104.45" y="611.69"/><use href="#mOs" x="1105.19" y="587.75"/><use href="#mOs" x="1105.93" y="604.49"/><use href="#mOs" x="1106.67" y="620.27"/><use href="#mOs" x="1107.4" y="612.25"/><use href="#mOs" x="1108.14" y="608.78"/><use href="#mOs" x="1108.87" y="609.37"/><use href="#mOs" x="1109.6" y="612.33"/><use href="#mOs" x="1110.33" y="614.35"/><use href="#mOs" x="1111.06" y="603.34"/><use href="#mOs" x="1111.78" y="592.64"/><use href="#mOs" x="1112.51" y="609.76"/><use href="#mOs" x="1113.23" y="595.86"/><use href="#mOs" x="1113.95" y="624.32"/><use href="#mOs" x="1114.66" y="622.88"/><use href="#mOs" x="1115.38" y="608.23"/><use href="#mOs" x="1116.09" y="588.76"/><use href="#mOs" x="1116.81" y="611.13"/><use href="#mOs" x="1117.52" y="603.56"/><use href="#mOs" x="1118.23" y="597.95"/><use href="#mOs" x="1118.93" y="616.57"/><use href="#mOs" x="1119.64" y="617.29"/><use href="#mOs" x="1120.34" y="618.39"/><use href="#mOs" x="1121.04" y="607.31"/><use href="#mOs" x="1122.44" y="599.82"/><use href="#mOs" x="1123.83" y="619.84"/><use href="#mOs" x="1125.21" y="602.15"/><use href="#mOs" x="1126.59" y="611.1"/><use href="#mOs" x="1127.96" y="597.36"/><use href="#mOs" x="1129.32" y="594.2"/><use href="#mOs" x="1130.68" y="608.45"/><use href="#mOs" x="1132.03" y="600.54"/><use href="#mOs" x="1133.38" y="614.05"/><use href="#mOs" x="1134.71" y="609.33"/><use href="#mOs" x="1136.04" y="611.61"/><use href="#mOs" x="1137.37" y="610.7"/><use href="#mOs" x="1138.69" y="613.94"/><use href="#mOs" x="1140" y="608.26"/><use href="#mOs" x="1141.31" y="622.32"/><use href="#mOs" x="1142.61" y="603.34"/><use href="#mOs" x="1143.9" y="598.3"/><use href="#mOs" x="1145.19" y="614.85"/><use href="#mOs" x="1146.47" y="610.09"/><use href="#mOs" x="1147.75" y="612.99"/><use href="#mOs" x="1149.02" y="615.55"/><use href="#mOs" x="1150.28" y="598.39"/><use href="#mOs" x="1151.54" y="597.04"/><use href="#mOs" x="1152.8" y="629.69"/><use href="#mOs" x="1154.04" y="615.84"/><use href="#mOs" x="1155.29" y="610.94"/><use href="#mOs" x="1156.52" y="596.33"/><use href="#mOs" x="1157.76" y="605.46"/><use href="#mOs" x="1158.98" y="595.71"/><use href="#mOs" x="1160.2" y="597.79"/><use href="#mOs" x="1161.42" y="602.14"/><use href="#mOs" x="1162.63" y="622.5"/><use href="#mOs" x="1163.83" y="597.35"/><use href="#mOs" x="1165.03" y="604"/><use href="#mOs" x="1166.23" y="624.52"/><use href="#mOs" x="1167.42" y="613.23"/><use href="#mOs" x="1168.6" y="600.6"/><use href="#mOs" x="1169.78" y="610.42"/><use href="#mOs" x="1170.96" y="607.94"/><use href="#mOs" x="1172.13" y="595.41"/><use href="#mOs" x="1173.29" y="618.69"/><use href="#mOs" x="1174.45" y="600"/><use href="#mOs" x="1175.61" y="619.29"/><use href="#mOs" x="1176.76" y="603.98"/><use href="#mOs" x="1177.9" y="616.16"/><use href="#mOs" x="1179.05" y="593.79"/><use href="#mOs" x="1180.18" y="600.31"/><use href="#mOs" x="1181.31" y="608.32"/><use href="#mOs" x="1182.44" y="613.16"/><use href="#mOs" x="1183.57" y="608.32"/><use href="#mOs" x="1184.68" y="611.15"/><use href="#mOs" x="1185.8" y="629.43"/><use href="#mOs" x="1186.91" y="607.45"/><use href="#mOs" x="1188.01" y="616.66"/><use href="#mOs" x="1189.11" y="610.37"/><use href="#mOs" x="1190.21" y="612.6"/><use href="#mOs" x="1191.3" y="618.45"/><use href="#mOs" x="1192.39" y="614.33"/><use href="#mOs" x="1193.47" y="591.51"/><use href="#mOs" x="1194.55" y="613.5"/><use href="#mOs" x="1195.63" y="604.47"/><use href="#mOs" x="1196.7" y="599.94"/><use href="#mOs" x="1197.77" y="602.04"/><use href="#mOs" x="1198.83" y="602.12"/><use href="#mOs" x="1199.89" y="611.61"/><use href="#mOs" x="1200.95" y="591.59"/><use href="#mOs" x="1202" y="603.35"/><use href="#mOs" x="1203.04" y="610.25"/><use href="#mOs" x="1204.09" y="606.62"/><use href="#mOs" x="1205.13" y="609.71"/><use href="#mOs" x="1206.16" y="596.97"/><use href="#mOs" x="1207.19" y="611.73"/><use href="#mOs" x="1208.22" y="600.11"/><use href="#mOs" x="1209.25" y="610.41"/><use href="#mOs" x="1210.27" y="614.53"/><use href="#mOs" x="1211.28" y="609.54"/><use href="#mOs" x="1212.3" y="635.04"/><use href="#mOs" x="1213.31" y="614.83"/><use href="#mOs" x="1214.31" y="617.87"/><use href="#mOs" x="1215.32" y="610.67"/><use href="#mOs" x="1216.31" y="585.7"/><use href="#mOs" x="1217.31" y="597.33"/><use href="#mOs" x="1218.3" y="616.36"/><use href="#mOs" x="1219.29" y="598.68"/><use href="#mOs" x="1220.27" y="608.32"/><use href="#mOs" x="1221.26" y="613.89"/><use href="#mOs" x="1222.23" y="603.03"/><use href="#mOs" x="1223.21" y="626.1"/><use href="#mOs" x="1224.18" y="605.84"/><use href="#mOs" x="1225.15" y="608.07"/><use href="#mOs" x="1226.11" y="599.51"/><use href="#mOs" x="1227.07" y="604.78"/><use href="#mOs" x="1228.03" y="608.34"/><use href="#mOs" x="1228.98" y="611.09"/><use href="#mOs" x="1229.94" y="609.3"/><use href="#mOs" x="1230.88" y="617.4"/><use href="#mOs" x="1231.83" y="595.91"/><use href="#mOs" x="1232.77" y="601.09"/><use href="#mOs" x="1233.71" y="618.96"/><use href="#mOs" x="1234.64" y="604.63"/><use href="#mOs" x="1235.58" y="606.79"/><use href="#mOs" x="1236.51" y="599.1"/><use href="#mOs" x="1237.43" y="602.51"/><use href="#mOs" x="1238.35" y="605.59"/><use href="#mOs" x="1239.27" y="603.53"/><use href="#mOs" x="1240.19" y="614.48"/><use href="#mOs" x="1241.11" y="611.94"/><use href="#mOs" x="1242.02" y="597.91"/><use href="#mOs" x="1242.92" y="603.34"/><use href="#mOs" x="1243.83" y="606.99"/><use href="#mOs" x="1244.73" y="603.8"/><use href="#mOs" x="1245.63" y="600.1"/><use href="#mOs" x="1246.53" y="600.34"/><use href="#mOs" x="1247.42" y="601.52"/><use href="#mOs" x="1248.31" y="622.75"/><use href="#mOs" x="1249.2" y="600.81"/><use href="#mOs" x="1250.09" y="637.77"/><use href="#mOs" x="1250.97" y="593.73"/><use href="#mOs" x="1251.85" y="609.99"/><use href="#mOs" x="1252.72" y="618.68"/><use href="#mOs" x="1253.6" y="604.07"/><use href="#mOs" x="1254.47" y="606.13"/><use href="#mOs" x="1255.34" y="614.88"/><use href="#mOs" x="1256.2" y="620.22"/><use href="#mOs" x="1257.07" y="607.26"/><use href="#mOs" x="1257.93" y="601.83"/><use href="#mOs" x="1258.79" y="606.53"/><use href="#mOs" x="1259.64" y="613.72"/><use href="#mOs" x="1260.49" y="612.51"/><use href="#mOs" x="1261.34" y="618.62"/><use href="#mOs" x="1262.19" y="610.9"/><use href="#mOs" x="1263.04" y="608.75"/><use href="#mOs" x="1263.88" y="624.05"/><use href="#mOs" x="1264.72" y="606.81"/><use href="#mOs" x="1265.56" y="604.21"/><use href="#mOs" x="1266.39" y="593.98"/><use href="#mOs" x="1267.22" y="613.39"/><use href="#mOs" x="1268.05" y="602.84"/><use href="#mOs" x="1268.88" y="617.46"/><use href="#mOs" x="1269.71" y="595.49"/><use href="#mOs" x="1270.53" y="629.62"/><use href="#mOs" x="1271.35" y="615.07"/><use href="#mOs" x="1272.17" y="603.19"/><use href="#mOs" x="1272.98" y="610.35"/><use href="#mOs" x="1273.8" y="624.29"/><use href="#mOs" x="1274.61" y="593.23"/><use href="#mOs" x="1275.42" y="609.84"/><use href="#mOs" x="1276.22" y="609.95"/><use href="#mOs" x="1277.03" y="611.96"/><use href="#mOs" x="1277.83" y="602.43"/><use href="#mOs" x="1278.63" y="594.49"/><use href="#mOs" x="1279.42" y="615.19"/><use href="#mOs" x="1280.22" y="621.65"/><use href="#mOs" x="1281.01" y="612.66"/><use href="#mOs" x="1281.8" y="610.99"/><use href="#mOs" x="1282.59" y="612.65"/><use href="#mOs" x="1283.37" y="601.26"/><use href="#mOs" x="1284.16" y="603.92"/><use href="#mOs" x="1284.94" y="619.87"/><use href="#mOs" x="1285.72" y="621.97"/><use href="#mOs" x="1286.5" y="616.96"/><use href="#mOs" x="1287.27" y="600.44"/><use href="#mOs" x="1288.04" y="604.86"/><use href="#mOs" x="1288.81" y="615.47"/><use href="#mOs" x="1289.58" y="605.9"/><use href="#mOs" x="1290.35" y="613.82"/><use href="#mOs" x="1291.11" y="613.09"/><use href="#mOs" x="1291.87" y="621.61"/><use href="#mOs" x="1292.63" y="615.73"/><use href="#mOs" x="1293.39" y="606.31"/><use href="#mOs" x="1294.15" y="602.23"/><use href="#mOs" x="1294.9" y="610.42"/><use href="#mOs" x="1295.66" y="611.39"/><use href="#mOs" x="1296.41" y="613.09"/><use href="#mOs" x="1297.15" y="606.84"/><use href="#mOs" x="1297.9" y="612.32"/><use href="#mOs" x="1298.64" y="611.25"/><use href="#mOs" x="1299.39" y="610.08"/><use href="#mOs" x="1300.13" y="621.39"/><use href="#mOs" x="1300.86" y="603.56"/><use href="#mOs" x="1301.6" y="622.33"/><use href="#mOs" x="1302.33" y="598.76"/><use href="#mOs" x="1303.07" y="609.64"/><use href="#mOs" x="1303.8" y="618.6"/><use href="#mOs" x="1304.52" y="602.11"/><use href="#mOs" x="1305.25" y="591.62"/><use href="#mOs" x="1305.98" y="605.31"/><use href="#mOs" x="1306.7" y="611.67"/><use href="#mOs" x="1307.42" y="622.51"/><use href="#mOs" x="1308.14" y="612.81"/><use href="#mOs" x="1308.86" y="609.36"/><use href="#mOs" x="1309.57" y="603.95"/><use href="#mOs" x="1310.29" y="596.79"/><use href="#mOs" x="1311" y="617.79"/><use href="#mOs" x="1311.71" y="617.33"/><use href="#mOs" x="1312.42" y="610.25"/><use href="#mOs" x="1313.12" y="608.08"/><use href="#mOs" x="1313.83" y="610.97"/><use href="#mOs" x="1314.53" y="595.97"/><use href="#mOs" x="1315.23" y="609.25"/><use href="#mOs" x="1316.28" y="607.01"/><use href="#mOs" x="1317.32" y="603.98"/><use href="#mOs" x="1318.36" y="634.08"/><use href="#mOs" x="1319.4" y="610.88"/><use href="#mOs" x="1320.43" y="606.9"/><use href="#mOs" x="1321.46" y="610.47"/><use href="#mOs" x="1322.49" y="597.7"/><use href="#mOs" x="1323.51" y="613.41"/><use href="#mOs" x="1324.53" y="614.84"/><use href="#mOs" x="1325.54" y="602.17"/><use href="#mOs" x="1326.55" y="602.65"/><use href="#mOs" x="1327.56" y="632.25"/><use href="#mOs" x="1328.56" y="597.66"/><use href="#mOs" x="1329.56" y="607.46"/><use href="#mOs" x="1330.56" y="625.27"/><use href="#mOs" x="1331.55" y="620.47"/><use href="#mOs" x="1332.54" y="597.79"/><use href="#mOs" x="1333.53" y="615.81"/><use href="#mOs" x="1334.51" y="608.65"/><use href="#mOs" x="1335.49" y="596.4"/><use href="#mOs" x="1336.46" y="606.07"/><use href="#mOs" x="1337.44" y="641.4"/><use href="#mOs" x="1338.4" y="602.3"/><use href="#mOs" x="1339.37" y="608.54"/><use href="#mOs" x="1340.33" y="605.54"/><use href="#mOs" x="1341.29" y="605.59"/><use href="#mOs" x="1342.25" y="599.95"/><use href="#mOs" x="1343.2" y="612.34"/><use href="#mOs" x="1344.15" y="628.59"/><use href="#mOs" x="1345.09" y="610.64"/><use href="#mOs" x="1346.04" y="619.76"/><use href="#mOs" x="1346.97" y="608.18"/><use href="#mOs" x="1347.91" y="622.5"/><use href="#mOs" x="1348.84" y="600.34"/><use href="#mOs" x="1349.77" y="601.91"/><use href="#mOs" x="1350.7" y="611.1"/><use href="#mOs" x="1351.62" y="608.77"/><use href="#mOs" x="1352.55" y="607.02"/><use href="#mOs" x="1353.46" y="606.9"/><use href="#mOs" x="1354.38" y="604.21"/><use href="#mOs" x="1355.29" y="596.35"/><use href="#mOs" x="1356.2" y="608.16"/><use href="#mOs" x="1357.11" y="611.93"/><use href="#mOs" x="1358.01" y="606.73"/><use href="#mOs" x="1358.91" y="611.46"/><use href="#mOs" x="1359.81" y="606.32"/><use href="#mOs" x="1360.7" y="615.66"/><use href="#mOs" x="1361.59" y="607.06"/><use href="#mOs" x="1362.48" y="609.27"/><use href="#mOs" x="1363.37" y="609.57"/><use href="#mOs" x="1364.25" y="631.29"/><use href="#mOs" x="1365.13" y="617.34"/><use href="#mOs" x="1366.01" y="604.35"/><use href="#mOs" x="1366.88" y="596.24"/><use href="#mOs" x="1367.75" y="622.41"/><use href="#mOs" x="1368.62" y="610.67"/><use href="#mOs" x="1369.49" y="614.1"/><use href="#mOs" x="1370.35" y="616.59"/><use href="#mOs" x="1371.22" y="615.09"/><use href="#mOs" x="1372.07" y="604.05"/><use href="#mOs" x="1372.93" y="600.33"/><use href="#mOs" x="1373.78" y="622.52"/><use href="#mOs" x="1374.63" y="610.19"/><use href="#mOs" x="1375.48" y="598.83"/><use href="#mOs" x="1376.33" y="597.86"/><use href="#mOs" x="1377.17" y="601.46"/><use href="#mOs" x="1378.01" y="605.63"/><use href="#mOs" x="1378.85" y="628.6"/><use href="#mOs" x="1379.69" y="612.23"/>
</g>
<path d="M775.4 161.5H1116.7V228.7H775.4Z" fill="none" stroke="#000" stroke-width="2.4" stroke-dasharray="12.9 10.9"/>
<path d="M777 228.7L735.3 322M1116.7 228.7L1166 322" fill="none" stroke="#000" stroke-width="2.4" stroke-dasharray="12.9 10.9"/>
<path d="M735.3 293.5V515.5H1168.3V293.5" fill="none" stroke="#000" stroke-width="1.6"/>
<path d="M735.3 366.7h7.7M735.3 440.8h4M844.4 515.5v-3.5M952.2 515.5v-7M1060.3 515.5v-3.5" stroke="#000" stroke-width="1.6"/>
<text transform="translate(706.2,375.33) scale(1.1,1)" font-size="36.04" fill="#000" stroke="#000" stroke-width="0.5"><tspan>8</tspan></text>
<text transform="translate(705.61,521.4) scale(1.25,1)" font-size="34.33" fill="#000" stroke="#000" stroke-width="0.5"><tspan>7</tspan></text>
<text transform="translate(696.19,551.46) scale(0.94,1)" font-size="37.46" fill="#000" stroke="#000" stroke-width="0.5"><tspan>1000</tspan></text>
<text transform="translate(912.25,551.46) scale(0.94,1)" font-size="37.46" fill="#000" stroke="#000" stroke-width="0.5"><tspan>2000</tspan></text>
<text transform="translate(1129.17,551.46) scale(0.94,1)" font-size="37.46" fill="#000" stroke="#000" stroke-width="0.5"><tspan>3000</tspan></text>
<text transform="translate(685.52,486.06) rotate(-90) scale(0.88,1)" font-size="36.89" fill="#000"><tspan font-style="italic" font-weight="bold">M</tspan><tspan font-weight="bold"> (10</tspan><tspan font-weight="bold" font-size="22.87" dy="-15.49">-3</tspan><tspan font-weight="bold" dy="15.49">emu)</tspan></text>
<text transform="translate(1006.52,499.38) scale(0.94,1)" font-size="40.21" fill="#000"><tspan font-style="italic" font-weight="bold">t</tspan><tspan font-weight="bold"> (s)</tspan></text>
<path d="M923 330H1012.3" stroke="#b3191e" stroke-width="1.3"/><circle cx="967.2" cy="330" r="2.7" fill="#b3191e"/>
<text transform="translate(1022.86,343.95) scale(0.98,1)" font-size="40.42" fill="#000" stroke="#000" stroke-width="0.5"><tspan>370 Oe</tspan></text>
<polyline points="736.1,387.5 737.63,384.24 739.17,380.83 740.7,375.3 742.25,374.66 743.8,370.23 745.35,370.6 746.9,375.3 748.62,370.51 750.35,366.79 752.07,374.55 753.8,372.2 755.7,376.83 757.6,384.5 759.15,402.37 760.7,407.5 762.2,416.21 763.7,417.4 765.5,406.06 767.3,401.56 769.1,382.9 770.6,412.8 772.4,407.2 774.2,394 776,386 777.9,383.55 779.8,380.6 782.1,409 783.94,407.21 785.78,408.41 787.62,410.67 789.46,410.05 791.3,412 793,407.71 794.7,405.51 796.4,403.65 798.1,405.19 799.8,397.5 801.57,404.23 803.33,410.99 805.1,419.7 806.64,419.07 808.18,415.03 809.72,407.44 811.26,407.72 812.8,405.9 814.35,400.54 815.9,396 817.64,392.51 819.39,397.17 821.13,394.61 822.87,390.46 824.61,395.71 826.36,392.01 828.1,389.8 829.9,386.43 831.7,383.62 833.5,379.1 835.4,392.56 837.3,399.8 839.25,395.02 841.2,385.2 842.73,388.1 844.27,397.15 845.8,401.3 848.1,432 849.6,428.2 851.15,419.03 852.7,410.5 854.23,407.7 855.75,405.94 857.27,409.27 858.8,403.6 860.7,418.88 862.6,433.5 864.9,409 866.6,415.19 868.3,401.12 870,403.52 871.7,401.35 873.4,394.4 874.92,393.67 876.45,395.96 877.98,400.08 879.5,396.7 881.4,397.19 883.3,384.5 884.9,408.2 886.62,401.53 888.35,395.09 890.07,390.57 891.8,383 893.52,382.56 895.25,375.51 896.98,376.97 898.7,370.7 900.23,373.23 901.75,372.48 903.27,369.59 904.8,373.7 907.1,395.2 908.83,395.4 910.55,382.4 912.27,384.3 914,385.2 915.5,419 917.03,417.45 918.57,427.42 920.1,433.5 922.4,412.8 924.2,415.35 926,418.28 927.8,422.8 929.35,411.59 930.9,405.2 932.4,401.34 933.9,392.1 935.44,390.65 936.98,397.8 938.52,409.82 940.06,418.55 941.6,419.7 943.15,408.08 944.7,393.7 946.23,391.59 947.75,391.29 949.27,402.1 950.8,402.1 953.1,377.6 954.62,383.75 956.15,388.28 957.68,388.32 959.2,398.3 960.73,386.73 962.25,395.79 963.77,396.59 965.3,387.5 966.85,387.1 968.4,382.58 969.95,378.84 971.5,373.7 973.03,380.51 974.57,387.61 976.1,396 977.63,387.86 979.17,376.14 980.7,370.7 982.6,370.5 984.5,363.06 986.4,365.82 988.3,364.5 989.85,369.16 991.4,366.84 992.95,356.88 994.5,358.4 996,384.5 997.55,379.95 999.1,369.1 1000.63,373.77 1002.17,377.72 1003.7,376.8 1005.23,375.49 1006.75,370.18 1008.27,372.38 1009.8,365.3 1012.1,384.5 1013.6,419.7 1015.55,413.65 1017.5,399.8 1019,426.6 1020.52,412.55 1022.05,407.37 1023.57,396.13 1025.1,387.5 1026.65,382.36 1028.2,384.79 1029.75,381.81 1031.3,381.4 1032.8,392.18 1034.3,417.4 1035.83,418 1037.37,404.99 1038.9,398.3 1040.45,387.51 1042,377.6 1043.9,386.44 1045.8,393.7 1047.6,386.43 1049.4,382.55 1051.2,381.4 1052.72,393.07 1054.25,390.96 1055.78,392.08 1057.3,403.6 1058.85,400.39 1060.4,398.05 1061.95,387.72 1063.5,386 1065.4,375.09 1067.3,368.4 1069.1,383 1070.9,391.6 1072.7,398.3 1074.2,381.95 1075.7,374.5 1077.24,380.32 1078.78,387.8 1080.32,395.96 1081.86,399.25 1083.4,411.3 1084.93,400.19 1086.47,386.54 1088,379.9 1089.54,381.89 1091.08,379.3 1092.62,376.33 1094.16,376.31 1095.7,376.8 1097.47,381.79 1099.23,393.26 1101,396.7 1102.95,392.38 1104.9,384.5 1106.43,387.87 1107.95,379.46 1109.47,390.36 1111,389.1 1112.54,384.95 1114.08,379.83 1115.62,372.64 1117.16,377.76 1118.7,369.9 1120.23,380.76 1121.77,380.63 1123.3,386 1125.6,474.9 1127.9,439.7 1129.43,433.54 1130.97,425.83 1132.5,422.8 1134.03,420.7 1135.57,412.86 1137.1,407.5 1138.94,403.52 1140.78,408.98 1142.62,404.75 1144.46,402.31 1146.3,399.8 1148.07,393.22 1149.83,386.02 1151.6,380.6 1153.9,407.5 1155.43,401.43 1156.95,399.06 1158.47,395.84 1160,394.4 1162.3,416.7 1164.1,412.12 1165.9,398.01 1167.7,393.7" fill="none" stroke="#b3191e" stroke-width="1.2"/>
<g fill="#b3191e"><circle cx="736.1" cy="387.5" r="2.5"/><circle cx="737.63" cy="384.24" r="2.5"/><circle cx="739.17" cy="380.83" r="2.5"/><circle cx="740.7" cy="375.3" r="2.5"/><circle cx="742.25" cy="374.66" r="2.5"/><circle cx="743.8" cy="370.23" r="2.5"/><circle cx="745.35" cy="370.6" r="2.5"/><circle cx="746.9" cy="375.3" r="2.5"/><circle cx="748.62" cy="370.51" r="2.5"/><circle cx="750.35" cy="366.79" r="2.5"/><circle cx="752.07" cy="374.55" r="2.5"/><circle cx="753.8" cy="372.2" r="2.5"/><circle cx="755.7" cy="376.83" r="2.5"/><circle cx="757.6" cy="384.5" r="2.5"/><circle cx="759.15" cy="402.37" r="2.5"/><circle cx="760.7" cy="407.5" r="2.5"/><circle cx="762.2" cy="416.21" r="2.5"/><circle cx="763.7" cy="417.4" r="2.5"/><circle cx="765.5" cy="406.06" r="2.5"/><circle cx="767.3" cy="401.56" r="2.5"/><circle cx="769.1" cy="382.9" r="2.5"/><circle cx="770.6" cy="412.8" r="2.5"/><circle cx="772.4" cy="407.2" r="2.5"/><circle cx="774.2" cy="394" r="2.5"/><circle cx="776" cy="386" r="2.5"/><circle cx="777.9" cy="383.55" r="2.5"/><circle cx="779.8" cy="380.6" r="2.5"/><circle cx="782.1" cy="409" r="2.5"/><circle cx="783.94" cy="407.21" r="2.5"/><circle cx="785.78" cy="408.41" r="2.5"/><circle cx="787.62" cy="410.67" r="2.5"/><circle cx="789.46" cy="410.05" r="2.5"/><circle cx="791.3" cy="412" r="2.5"/><circle cx="793" cy="407.71" r="2.5"/><circle cx="794.7" cy="405.51" r="2.5"/><circle cx="796.4" cy="403.65" r="2.5"/><circle cx="798.1" cy="405.19" r="2.5"/><circle cx="799.8" cy="397.5" r="2.5"/><circle cx="801.57" cy="404.23" r="2.5"/><circle cx="803.33" cy="410.99" r="2.5"/><circle cx="805.1" cy="419.7" r="2.5"/><circle cx="806.64" cy="419.07" r="2.5"/><circle cx="808.18" cy="415.03" r="2.5"/><circle cx="809.72" cy="407.44" r="2.5"/><circle cx="811.26" cy="407.72" r="2.5"/><circle cx="812.8" cy="405.9" r="2.5"/><circle cx="814.35" cy="400.54" r="2.5"/><circle cx="815.9" cy="396" r="2.5"/><circle cx="817.64" cy="392.51" r="2.5"/><circle cx="819.39" cy="397.17" r="2.5"/><circle cx="821.13" cy="394.61" r="2.5"/><circle cx="822.87" cy="390.46" r="2.5"/><circle cx="824.61" cy="395.71" r="2.5"/><circle cx="826.36" cy="392.01" r="2.5"/><circle cx="828.1" cy="389.8" r="2.5"/><circle cx="829.9" cy="386.43" r="2.5"/><circle cx="831.7" cy="383.62" r="2.5"/><circle cx="833.5" cy="379.1" r="2.5"/><circle cx="835.4" cy="392.56" r="2.5"/><circle cx="837.3" cy="399.8" r="2.5"/><circle cx="839.25" cy="395.02" r="2.5"/><circle cx="841.2" cy="385.2" r="2.5"/><circle cx="842.73" cy="388.1" r="2.5"/><circle cx="844.27" cy="397.15" r="2.5"/><circle cx="845.8" cy="401.3" r="2.5"/><circle cx="848.1" cy="432" r="2.5"/><circle cx="849.6" cy="428.2" r="2.5"/><circle cx="851.15" cy="419.03" r="2.5"/><circle cx="852.7" cy="410.5" r="2.5"/><circle cx="854.23" cy="407.7" r="2.5"/><circle cx="855.75" cy="405.94" r="2.5"/><circle cx="857.27" cy="409.27" r="2.5"/><circle cx="858.8" cy="403.6" r="2.5"/><circle cx="860.7" cy="418.88" r="2.5"/><circle cx="862.6" cy="433.5" r="2.5"/><circle cx="864.9" cy="409" r="2.5"/><circle cx="866.6" cy="415.19" r="2.5"/><circle cx="868.3" cy="401.12" r="2.5"/><circle cx="870" cy="403.52" r="2.5"/><circle cx="871.7" cy="401.35" r="2.5"/><circle cx="873.4" cy="394.4" r="2.5"/><circle cx="874.92" cy="393.67" r="2.5"/><circle cx="876.45" cy="395.96" r="2.5"/><circle cx="877.98" cy="400.08" r="2.5"/><circle cx="879.5" cy="396.7" r="2.5"/><circle cx="881.4" cy="397.19" r="2.5"/><circle cx="883.3" cy="384.5" r="2.5"/><circle cx="884.9" cy="408.2" r="2.5"/><circle cx="886.62" cy="401.53" r="2.5"/><circle cx="888.35" cy="395.09" r="2.5"/><circle cx="890.07" cy="390.57" r="2.5"/><circle cx="891.8" cy="383" r="2.5"/><circle cx="893.52" cy="382.56" r="2.5"/><circle cx="895.25" cy="375.51" r="2.5"/><circle cx="896.98" cy="376.97" r="2.5"/><circle cx="898.7" cy="370.7" r="2.5"/><circle cx="900.23" cy="373.23" r="2.5"/><circle cx="901.75" cy="372.48" r="2.5"/><circle cx="903.27" cy="369.59" r="2.5"/><circle cx="904.8" cy="373.7" r="2.5"/><circle cx="907.1" cy="395.2" r="2.5"/><circle cx="908.83" cy="395.4" r="2.5"/><circle cx="910.55" cy="382.4" r="2.5"/><circle cx="912.27" cy="384.3" r="2.5"/><circle cx="914" cy="385.2" r="2.5"/><circle cx="915.5" cy="419" r="2.5"/><circle cx="917.03" cy="417.45" r="2.5"/><circle cx="918.57" cy="427.42" r="2.5"/><circle cx="920.1" cy="433.5" r="2.5"/><circle cx="922.4" cy="412.8" r="2.5"/><circle cx="924.2" cy="415.35" r="2.5"/><circle cx="926" cy="418.28" r="2.5"/><circle cx="927.8" cy="422.8" r="2.5"/><circle cx="929.35" cy="411.59" r="2.5"/><circle cx="930.9" cy="405.2" r="2.5"/><circle cx="932.4" cy="401.34" r="2.5"/><circle cx="933.9" cy="392.1" r="2.5"/><circle cx="935.44" cy="390.65" r="2.5"/><circle cx="936.98" cy="397.8" r="2.5"/><circle cx="938.52" cy="409.82" r="2.5"/><circle cx="940.06" cy="418.55" r="2.5"/><circle cx="941.6" cy="419.7" r="2.5"/><circle cx="943.15" cy="408.08" r="2.5"/><circle cx="944.7" cy="393.7" r="2.5"/><circle cx="946.23" cy="391.59" r="2.5"/><circle cx="947.75" cy="391.29" r="2.5"/><circle cx="949.27" cy="402.1" r="2.5"/><circle cx="950.8" cy="402.1" r="2.5"/><circle cx="953.1" cy="377.6" r="2.5"/><circle cx="954.62" cy="383.75" r="2.5"/><circle cx="956.15" cy="388.28" r="2.5"/><circle cx="957.68" cy="388.32" r="2.5"/><circle cx="959.2" cy="398.3" r="2.5"/><circle cx="960.73" cy="386.73" r="2.5"/><circle cx="962.25" cy="395.79" r="2.5"/><circle cx="963.77" cy="396.59" r="2.5"/><circle cx="965.3" cy="387.5" r="2.5"/><circle cx="966.85" cy="387.1" r="2.5"/><circle cx="968.4" cy="382.58" r="2.5"/><circle cx="969.95" cy="378.84" r="2.5"/><circle cx="971.5" cy="373.7" r="2.5"/><circle cx="973.03" cy="380.51" r="2.5"/><circle cx="974.57" cy="387.61" r="2.5"/><circle cx="976.1" cy="396" r="2.5"/><circle cx="977.63" cy="387.86" r="2.5"/><circle cx="979.17" cy="376.14" r="2.5"/><circle cx="980.7" cy="370.7" r="2.5"/><circle cx="982.6" cy="370.5" r="2.5"/><circle cx="984.5" cy="363.06" r="2.5"/><circle cx="986.4" cy="365.82" r="2.5"/><circle cx="988.3" cy="364.5" r="2.5"/><circle cx="989.85" cy="369.16" r="2.5"/><circle cx="991.4" cy="366.84" r="2.5"/><circle cx="992.95" cy="356.88" r="2.5"/><circle cx="994.5" cy="358.4" r="2.5"/><circle cx="996" cy="384.5" r="2.5"/><circle cx="997.55" cy="379.95" r="2.5"/><circle cx="999.1" cy="369.1" r="2.5"/><circle cx="1000.63" cy="373.77" r="2.5"/><circle cx="1002.17" cy="377.72" r="2.5"/><circle cx="1003.7" cy="376.8" r="2.5"/><circle cx="1005.23" cy="375.49" r="2.5"/><circle cx="1006.75" cy="370.18" r="2.5"/><circle cx="1008.27" cy="372.38" r="2.5"/><circle cx="1009.8" cy="365.3" r="2.5"/><circle cx="1012.1" cy="384.5" r="2.5"/><circle cx="1013.6" cy="419.7" r="2.5"/><circle cx="1015.55" cy="413.65" r="2.5"/><circle cx="1017.5" cy="399.8" r="2.5"/><circle cx="1019" cy="426.6" r="2.5"/><circle cx="1020.52" cy="412.55" r="2.5"/><circle cx="1022.05" cy="407.37" r="2.5"/><circle cx="1023.57" cy="396.13" r="2.5"/><circle cx="1025.1" cy="387.5" r="2.5"/><circle cx="1026.65" cy="382.36" r="2.5"/><circle cx="1028.2" cy="384.79" r="2.5"/><circle cx="1029.75" cy="381.81" r="2.5"/><circle cx="1031.3" cy="381.4" r="2.5"/><circle cx="1032.8" cy="392.18" r="2.5"/><circle cx="1034.3" cy="417.4" r="2.5"/><circle cx="1035.83" cy="418" r="2.5"/><circle cx="1037.37" cy="404.99" r="2.5"/><circle cx="1038.9" cy="398.3" r="2.5"/><circle cx="1040.45" cy="387.51" r="2.5"/><circle cx="1042" cy="377.6" r="2.5"/><circle cx="1043.9" cy="386.44" r="2.5"/><circle cx="1045.8" cy="393.7" r="2.5"/><circle cx="1047.6" cy="386.43" r="2.5"/><circle cx="1049.4" cy="382.55" r="2.5"/><circle cx="1051.2" cy="381.4" r="2.5"/><circle cx="1052.72" cy="393.07" r="2.5"/><circle cx="1054.25" cy="390.96" r="2.5"/><circle cx="1055.78" cy="392.08" r="2.5"/><circle cx="1057.3" cy="403.6" r="2.5"/><circle cx="1058.85" cy="400.39" r="2.5"/><circle cx="1060.4" cy="398.05" r="2.5"/><circle cx="1061.95" cy="387.72" r="2.5"/><circle cx="1063.5" cy="386" r="2.5"/><circle cx="1065.4" cy="375.09" r="2.5"/><circle cx="1067.3" cy="368.4" r="2.5"/><circle cx="1069.1" cy="383" r="2.5"/><circle cx="1070.9" cy="391.6" r="2.5"/><circle cx="1072.7" cy="398.3" r="2.5"/><circle cx="1074.2" cy="381.95" r="2.5"/><circle cx="1075.7" cy="374.5" r="2.5"/><circle cx="1077.24" cy="380.32" r="2.5"/><circle cx="1078.78" cy="387.8" r="2.5"/><circle cx="1080.32" cy="395.96" r="2.5"/><circle cx="1081.86" cy="399.25" r="2.5"/><circle cx="1083.4" cy="411.3" r="2.5"/><circle cx="1084.93" cy="400.19" r="2.5"/><circle cx="1086.47" cy="386.54" r="2.5"/><circle cx="1088" cy="379.9" r="2.5"/><circle cx="1089.54" cy="381.89" r="2.5"/><circle cx="1091.08" cy="379.3" r="2.5"/><circle cx="1092.62" cy="376.33" r="2.5"/><circle cx="1094.16" cy="376.31" r="2.5"/><circle cx="1095.7" cy="376.8" r="2.5"/><circle cx="1097.47" cy="381.79" r="2.5"/><circle cx="1099.23" cy="393.26" r="2.5"/><circle cx="1101" cy="396.7" r="2.5"/><circle cx="1102.95" cy="392.38" r="2.5"/><circle cx="1104.9" cy="384.5" r="2.5"/><circle cx="1106.43" cy="387.87" r="2.5"/><circle cx="1107.95" cy="379.46" r="2.5"/><circle cx="1109.47" cy="390.36" r="2.5"/><circle cx="1111" cy="389.1" r="2.5"/><circle cx="1112.54" cy="384.95" r="2.5"/><circle cx="1114.08" cy="379.83" r="2.5"/><circle cx="1115.62" cy="372.64" r="2.5"/><circle cx="1117.16" cy="377.76" r="2.5"/><circle cx="1118.7" cy="369.9" r="2.5"/><circle cx="1120.23" cy="380.76" r="2.5"/><circle cx="1121.77" cy="380.63" r="2.5"/><circle cx="1123.3" cy="386" r="2.5"/><circle cx="1125.6" cy="474.9" r="2.5"/><circle cx="1127.9" cy="439.7" r="2.5"/><circle cx="1129.43" cy="433.54" r="2.5"/><circle cx="1130.97" cy="425.83" r="2.5"/><circle cx="1132.5" cy="422.8" r="2.5"/><circle cx="1134.03" cy="420.7" r="2.5"/><circle cx="1135.57" cy="412.86" r="2.5"/><circle cx="1137.1" cy="407.5" r="2.5"/><circle cx="1138.94" cy="403.52" r="2.5"/><circle cx="1140.78" cy="408.98" r="2.5"/><circle cx="1142.62" cy="404.75" r="2.5"/><circle cx="1144.46" cy="402.31" r="2.5"/><circle cx="1146.3" cy="399.8" r="2.5"/><circle cx="1148.07" cy="393.22" r="2.5"/><circle cx="1149.83" cy="386.02" r="2.5"/><circle cx="1151.6" cy="380.6" r="2.5"/><circle cx="1153.9" cy="407.5" r="2.5"/><circle cx="1155.43" cy="401.43" r="2.5"/><circle cx="1156.95" cy="399.06" r="2.5"/><circle cx="1158.47" cy="395.84" r="2.5"/><circle cx="1160" cy="394.4" r="2.5"/><circle cx="1162.3" cy="416.7" r="2.5"/><circle cx="1164.1" cy="412.12" r="2.5"/><circle cx="1165.9" cy="398.01" r="2.5"/><circle cx="1167.7" cy="393.7" r="2.5"/></g>
<rect x="85.2" y="837.8" width="109.8" height="379.7" fill="url(#gB1)"/>
<rect x="195" y="837.8" width="135.8" height="379.7" fill="url(#gB2)"/>
<rect x="330.8" y="837.8" width="269" height="379.7" fill="url(#gB3)"/>
<rect x="599.8" y="837.8" width="96.2" height="379.7" fill="url(#gB4)"/>
<path d="M195 840V1217.5M330.8 840V1217.5M599.8 840V1217.5" stroke="#6f6f6f" stroke-width="1.6" stroke-dasharray="5.5 4"/>
<path d="M85.2 840H696V1217.5H85.2ZM136.3 1217.5v-11M136.3 840v11M187.15 1217.5v-6M187.15 840v6M238 1217.5v-11M238 840v11M288.85 1217.5v-6M288.85 840v6M339.7 1217.5v-11M339.7 840v11M390.55 1217.5v-6M390.55 840v6M441.4 1217.5v-11M441.4 840v11M492.25 1217.5v-6M492.25 840v6M543.1 1217.5v-11M543.1 840v11M593.95 1217.5v-6M593.95 840v6M644.8 1217.5v-11M644.8 840v11M85.2 1154.6h11M696 1154.6h-11M85.2 1091.7h6M696 1091.7h-6M85.2 1028.8h11M696 1028.8h-11M85.2 965.9h6M696 965.9h-6M85.2 903h11M696 903h-11" stroke="#1a1a1a" stroke-width="1.5" fill="none"/>
<path d="M158.36 1146.52L168.94 1142.78M202.19 1121.83L221.51 1103.87M253.64 1075.03L266.86 1063.57M288.09 1032.24L298.91 995.36M309.18 960.65L319.12 927.35M367 910.66L388.3 917.64M413.28 940.37L433.12 984.43M452.84 1017.94L500.46 1082.96M529.77 1105.35L616.93 1135.35" fill="none" stroke="#b9cdd5" stroke-width="1.3"/>
<rect x="129.5" y="1141" width="23.2" height="23.2" fill="#acd0db" stroke="#111" stroke-width="1.9"/>
<rect x="174.6" y="1125.1" width="23.2" height="23.2" fill="#acd0db" stroke="#111" stroke-width="1.9"/>
<rect x="225.9" y="1077.4" width="23.2" height="23.2" fill="#acd0db" stroke="#111" stroke-width="1.9"/>
<rect x="271.4" y="1038" width="23.2" height="23.2" fill="#acd0db" stroke="#111" stroke-width="1.9"/>
<rect x="292.4" y="966.4" width="23.2" height="23.2" fill="#acd0db" stroke="#111" stroke-width="1.9"/>
<rect x="312.7" y="898.4" width="23.2" height="23.2" fill="#acd0db" stroke="#111" stroke-width="1.9"/>
<rect x="338.1" y="893.4" width="23.2" height="23.2" fill="#acd0db" stroke="#111" stroke-width="1.9"/>
<rect x="394" y="911.7" width="23.2" height="23.2" fill="#acd0db" stroke="#111" stroke-width="1.9"/>
<rect x="429.2" y="989.9" width="23.2" height="23.2" fill="#acd0db" stroke="#111" stroke-width="1.9"/>
<rect x="500.9" y="1087.8" width="23.2" height="23.2" fill="#acd0db" stroke="#111" stroke-width="1.9"/>
<rect x="622.6" y="1129.7" width="23.2" height="23.2" fill="#acd0db" stroke="#111" stroke-width="1.9"/>
<text transform="translate(98.25,902.48) scale(1.04,1)" font-size="53.19" fill="#000" stroke="#000" stroke-width="0.5"><tspan>(b)</tspan></text>
<text transform="translate(419.21,905.22) scale(0.95,1)" font-size="50.61" fill="#000" stroke="#000" stroke-width="0.5"><tspan font-style="italic">T</tspan><tspan> =2 K</tspan></text>
<text transform="translate(91.73,1015.25) scale(0.96,1)" font-size="40.57" fill="#000" stroke="#000" stroke-width="0.5"><tspan>Vortex</tspan></text>
<text transform="translate(90.91,1062.71) scale(1,1)" font-size="38.5" fill="#000" stroke="#000" stroke-width="0.5"><tspan>solid</tspan></text>
<text transform="translate(237.73,1096.65) rotate(-90) scale(1.03,1)" font-size="38.39" fill="#000" stroke="#000" stroke-width="0.5"><tspan>Depinning of</tspan></text>
<text transform="translate(288.61,1095.25) rotate(-90) scale(1.01,1)" font-size="38.5" fill="#000" stroke="#000" stroke-width="0.5"><tspan>vortex clusters</tspan></text>
<text transform="translate(348.8,1158.39) scale(1.04,1)" font-size="39.32" fill="#000" stroke="#000" stroke-width="0.5"><tspan>Thermal</tspan></text>
<text transform="translate(348.95,1207.11) scale(1.02,1)" font-size="39.46" fill="#000" stroke="#000" stroke-width="0.5"><tspan>fluctuations</tspan></text>
<text transform="translate(654.54,1126.66) rotate(-90) scale(1.01,1)" font-size="39.89" fill="#000" stroke="#000" stroke-width="0.5"><tspan>Vortex liquid</tspan></text>
<text transform="translate(158.77,816.14) scale(0.96,1)" font-size="44.22" fill="#000" stroke="#000" stroke-width="0.5"><tspan font-style="italic">H</tspan></text>
<text transform="translate(188.34,831.83) scale(1.15,1)" font-size="21.34" fill="#000" stroke="#000" stroke-width="0.5"><tspan font-style="italic">dip-on</tspan></text>
<text transform="translate(302.87,816.14) scale(0.96,1)" font-size="44.22" fill="#000" stroke="#000" stroke-width="0.5"><tspan font-style="italic">H</tspan></text>
<text transform="translate(332.56,831.83) scale(1.13,1)" font-size="21.34" fill="#000" stroke="#000" stroke-width="0.5"><tspan font-style="italic">dip</tspan></text>
<text transform="translate(583.66,820.02) scale(0.98,1)" font-size="43.64" fill="#000" stroke="#000" stroke-width="0.5"><tspan font-style="italic">H</tspan></text>
<text transform="translate(613.67,835.81) scale(1.01,1)" font-size="24.83" fill="#000" stroke="#000" stroke-width="0.5"><tspan font-style="italic">irr</tspan></text>
<text transform="translate(52.56,914.19) scale(0.94,1)" font-size="40.15" fill="#000" stroke="#000" stroke-width="0.5"><tspan>4</tspan></text>
<text transform="translate(51.93,1039.48) scale(1.07,1)" font-size="38.57" fill="#000" stroke="#000" stroke-width="0.5"><tspan>2</tspan></text>
<text transform="translate(52.99,1164.71) scale(1.03,1)" font-size="37.03" fill="#000" stroke="#000" stroke-width="0.5"><tspan>0</tspan></text>
<text transform="translate(126.02,1258.89) scale(0.95,1)" font-size="38.45" fill="#000" stroke="#000" stroke-width="0.5"><tspan>0</tspan></text>
<text transform="translate(206.68,1258.89) scale(0.95,1)" font-size="38.45" fill="#000" stroke="#000" stroke-width="0.5"><tspan>100</tspan></text>
<text transform="translate(308.85,1258.89) scale(0.95,1)" font-size="38.45" fill="#000" stroke="#000" stroke-width="0.5"><tspan>200</tspan></text>
<text transform="translate(410.79,1258.89) scale(0.95,1)" font-size="38.45" fill="#000" stroke="#000" stroke-width="0.5"><tspan>300</tspan></text>
<text transform="translate(512.85,1258.89) scale(0.95,1)" font-size="38.45" fill="#000" stroke="#000" stroke-width="0.5"><tspan>400</tspan></text>
<text transform="translate(614.19,1258.89) scale(0.95,1)" font-size="38.45" fill="#000" stroke="#000" stroke-width="0.5"><tspan>500</tspan></text>
<text transform="translate(216.24,1316.41) scale(1.02,1)" font-size="44.18" stroke="#000" stroke-width="0.5">Cooling field (Oe)</text>
<text transform="translate(32.88,1133.38) rotate(-90) scale(0.99,1)" font-size="45.04" fill="#000" stroke="#000" stroke-width="0.5"><tspan font-style="italic">Q</tspan><tspan> (a.u.)</tspan></text>
<rect x="838.8" y="836.5" width="127.2" height="379.5" fill="url(#gC1)"/>
<rect x="966" y="836.5" width="337.5" height="379.5" fill="url(#gC2)"/>
<rect x="1303.5" y="836.5" width="62.5" height="379.5" fill="url(#gC3)"/>
<rect x="1366" y="836.5" width="83" height="379.5" fill="url(#gC4)"/>
<path d="M966 838.5V1216M1303.5 838.5V1216M1366 838.5V1216" stroke="#6f6f6f" stroke-width="1.6" stroke-dasharray="5.5 4"/>
<path d="M838.8 838.5H1449V1216H838.8ZM838.7 1216v-11M838.7 838.5v11M906.35 1216v-6M906.35 838.5v6M974 1216v-11M974 838.5v11M1041.65 1216v-6M1041.65 838.5v6M1109.3 1216v-11M1109.3 838.5v11M1176.95 1216v-6M1176.95 838.5v6M1244.6 1216v-11M1244.6 838.5v11M1312.25 1216v-6M1312.25 838.5v6M1379.9 1216v-11M1379.9 838.5v11M1447.55 1216v-6M1447.55 838.5v6M838.8 1180.1h11M1449 1180.1h-11M838.8 1090.1h6M1449 1090.1h-6M838.8 1000.1h11M1449 1000.1h-11M838.8 910.1h6M1449 910.1h-6" stroke="#1a1a1a" stroke-width="1.5" fill="none"/>
<path d="M924.24 1159.99L956.36 1158.51M991.84 1156.55L1024.16 1154.45M1059.42 1158.26L1090.48 1167.04M1125.73 1173.27L1159.87 1175.73M1188.55 1160.23L1234.55 1089.77M1249.37 1055.39L1261.83 998.61M1270.28 963.44L1281.22 921.46M1296.2 887.04L1297.6 884.76M1308.48 885.65L1310.12 946.65M1317.28 1013.29L1318.62 1017.71M1323.37 1052.95L1323.03 1064.55M1323.45 1100.04L1326.15 1150.86M1344.62 1173.56L1349.88 1175.04" fill="none" stroke="#e6dc55" stroke-width="1.3"/>
<text transform="translate(856.88,900.38) scale(1.06,1)" font-size="54.26" fill="#000" stroke="#000" stroke-width="0.5"><tspan>(c)</tspan></text>
<text transform="translate(1009.44,895.19) scale(0.93,1)" font-size="52.3" fill="#000" stroke="#000" stroke-width="0.5"><tspan font-style="italic">H</tspan><tspan>=50 Oe</tspan></text>
<rect x="968.3" y="903" width="326.8" height="42" fill="none" stroke="#111" stroke-width="1.6"/>
<text transform="translate(971.38,939.64) scale(0.98,1)" font-size="36.87" fill="#000" stroke="#000" stroke-width="0.5"><tspan>Thermal fluctuations</tspan></text>
<text transform="translate(852.26,1040.19) scale(0.97,1)" font-size="40.14" fill="#000" stroke="#000" stroke-width="0.5"><tspan>Vortex</tspan></text>
<text transform="translate(851.37,1087.6) scale(0.98,1)" font-size="40" fill="#000" stroke="#000" stroke-width="0.5"><tspan>solid</tspan></text>
<text transform="translate(1066.38,1032.32) scale(1,1)" font-size="39.03" fill="#000" stroke="#000" stroke-width="0.5"><tspan>Depinning</tspan></text>
<text transform="translate(1068.07,1079.3) scale(1.01,1)" font-size="38.23" fill="#000" stroke="#000" stroke-width="0.5"><tspan>of vortex</tspan></text>
<text transform="translate(1067.77,1126.12) scale(1,1)" font-size="38.91" fill="#000" stroke="#000" stroke-width="0.5"><tspan>clusters</tspan></text>
<text transform="translate(1425.04,1105.26) rotate(-90) scale(1.02,1)" font-size="39.89" fill="#000" stroke="#000" stroke-width="0.5"><tspan>Vortex liquid</tspan></text>
<rect x="894.75" y="1149.05" width="23.5" height="23.5" fill="#ebe533" stroke="#111" stroke-width="1.9"/>
<rect x="962.35" y="1145.95" width="23.5" height="23.5" fill="#ebe533" stroke="#111" stroke-width="1.9"/>
<rect x="1030.15" y="1141.55" width="23.5" height="23.5" fill="#ebe533" stroke="#111" stroke-width="1.9"/>
<rect x="1096.25" y="1160.25" width="23.5" height="23.5" fill="#ebe533" stroke="#111" stroke-width="1.9"/>
<rect x="1165.85" y="1165.25" width="23.5" height="23.5" fill="#ebe533" stroke="#111" stroke-width="1.9"/>
<rect x="1233.75" y="1061.25" width="23.5" height="23.5" fill="#ebe533" stroke="#111" stroke-width="1.9"/>
<rect x="1253.95" y="969.25" width="23.5" height="23.5" fill="#ebe533" stroke="#111" stroke-width="1.9"/>
<rect x="1274.05" y="892.15" width="23.5" height="23.5" fill="#ebe533" stroke="#111" stroke-width="1.9"/>
<rect x="1296.25" y="856.15" width="23.5" height="23.5" fill="#ebe533" stroke="#111" stroke-width="1.9"/>
<rect x="1298.85" y="952.65" width="23.5" height="23.5" fill="#ebe533" stroke="#111" stroke-width="1.9"/>
<rect x="1300.25" y="984.05" width="23.5" height="23.5" fill="#ebe533" stroke="#111" stroke-width="1.9"/>
<rect x="1308.05" y="967.55" width="23.5" height="23.5" fill="#ebe533" stroke="#111" stroke-width="1.9"/>
<rect x="1312.15" y="1023.45" width="23.5" height="23.5" fill="#ebe533" stroke="#111" stroke-width="1.9"/>
<rect x="1310.75" y="1070.55" width="23.5" height="23.5" fill="#ebe533" stroke="#111" stroke-width="1.9"/>
<rect x="1315.35" y="1156.85" width="23.5" height="23.5" fill="#ebe533" stroke="#111" stroke-width="1.9"/>
<rect x="1355.65" y="1168.25" width="23.5" height="23.5" fill="#ebe533" stroke="#111" stroke-width="1.9"/>
<path d="M1324.6 854.8C1300 856 1282 858.5 1268 865C1257 871 1251.5 880 1249 891" fill="none" stroke="#111" stroke-width="2.3"/>
<path d="M1246.1 900.9L1241.4 878.9L1249.4 888.4L1260.8 884Z" fill="#111"/>
<text transform="translate(953.66,815.82) scale(0.96,1)" font-size="43.64" fill="#000" stroke="#000" stroke-width="0.5"><tspan font-style="italic">T</tspan></text>
<text transform="translate(978.26,831.34) scale(1.01,1)" font-size="24.02" fill="#000" stroke="#000" stroke-width="0.5"><tspan font-style="italic">dip-on</tspan></text>
<text transform="translate(1264.61,814.65) scale(0.94,1)" font-size="43.2" fill="#000" stroke="#000" stroke-width="0.5"><tspan font-style="italic">T</tspan></text>
<text transform="translate(1288.78,830.15) scale(1.02,1)" font-size="23.7" fill="#000" stroke="#000" stroke-width="0.5"><tspan font-style="italic">dip</tspan></text>
<text transform="translate(1363.36,815.22) scale(0.93,1)" font-size="43.64" fill="#000" stroke="#000" stroke-width="0.5"><tspan font-style="italic">T</tspan></text>
<text transform="translate(1387.15,831.15) scale(0.99,1)" font-size="24.55" fill="#000" stroke="#000" stroke-width="0.5"><tspan font-style="italic">irr</tspan></text>
<text transform="translate(805.04,1009.79) scale(1.13,1)" font-size="36.27" fill="#000" stroke="#000" stroke-width="0.5"><tspan>2</tspan></text>
<text transform="translate(805.99,1189.9) scale(1.02,1)" font-size="37.17" fill="#000" stroke="#000" stroke-width="0.5"><tspan>0</tspan></text>
<text transform="translate(827.07,1257.1) scale(1.07,1)" font-size="38.42" fill="#000" stroke="#000" stroke-width="0.5"><tspan>2</tspan></text>
<text transform="translate(962.5,1257.1) scale(1.07,1)" font-size="38.42" fill="#000" stroke="#000" stroke-width="0.5"><tspan>3</tspan></text>
<text transform="translate(1097.93,1257.1) scale(1.07,1)" font-size="38.42" fill="#000" stroke="#000" stroke-width="0.5"><tspan>4</tspan></text>
<text transform="translate(1233.1,1257.1) scale(1.07,1)" font-size="38.42" fill="#000" stroke="#000" stroke-width="0.5"><tspan>5</tspan></text>
<text transform="translate(1368.13,1257.1) scale(1.07,1)" font-size="38.42" fill="#000" stroke="#000" stroke-width="0.5"><tspan>6</tspan></text>
<text transform="translate(1090.63,1311.46) scale(0.99,1)" font-size="49.33" fill="#000" stroke="#000" stroke-width="0.5"><tspan font-style="italic">T</tspan><tspan> (K)</tspan></text>
<text transform="translate(791.1,1131.52) rotate(-90) scale(0.98,1)" font-size="45.58" fill="#000" stroke="#000" stroke-width="0.5"><tspan font-style="italic">Q</tspan><tspan> (a.u.)</tspan></text>
</svg></body></html>
